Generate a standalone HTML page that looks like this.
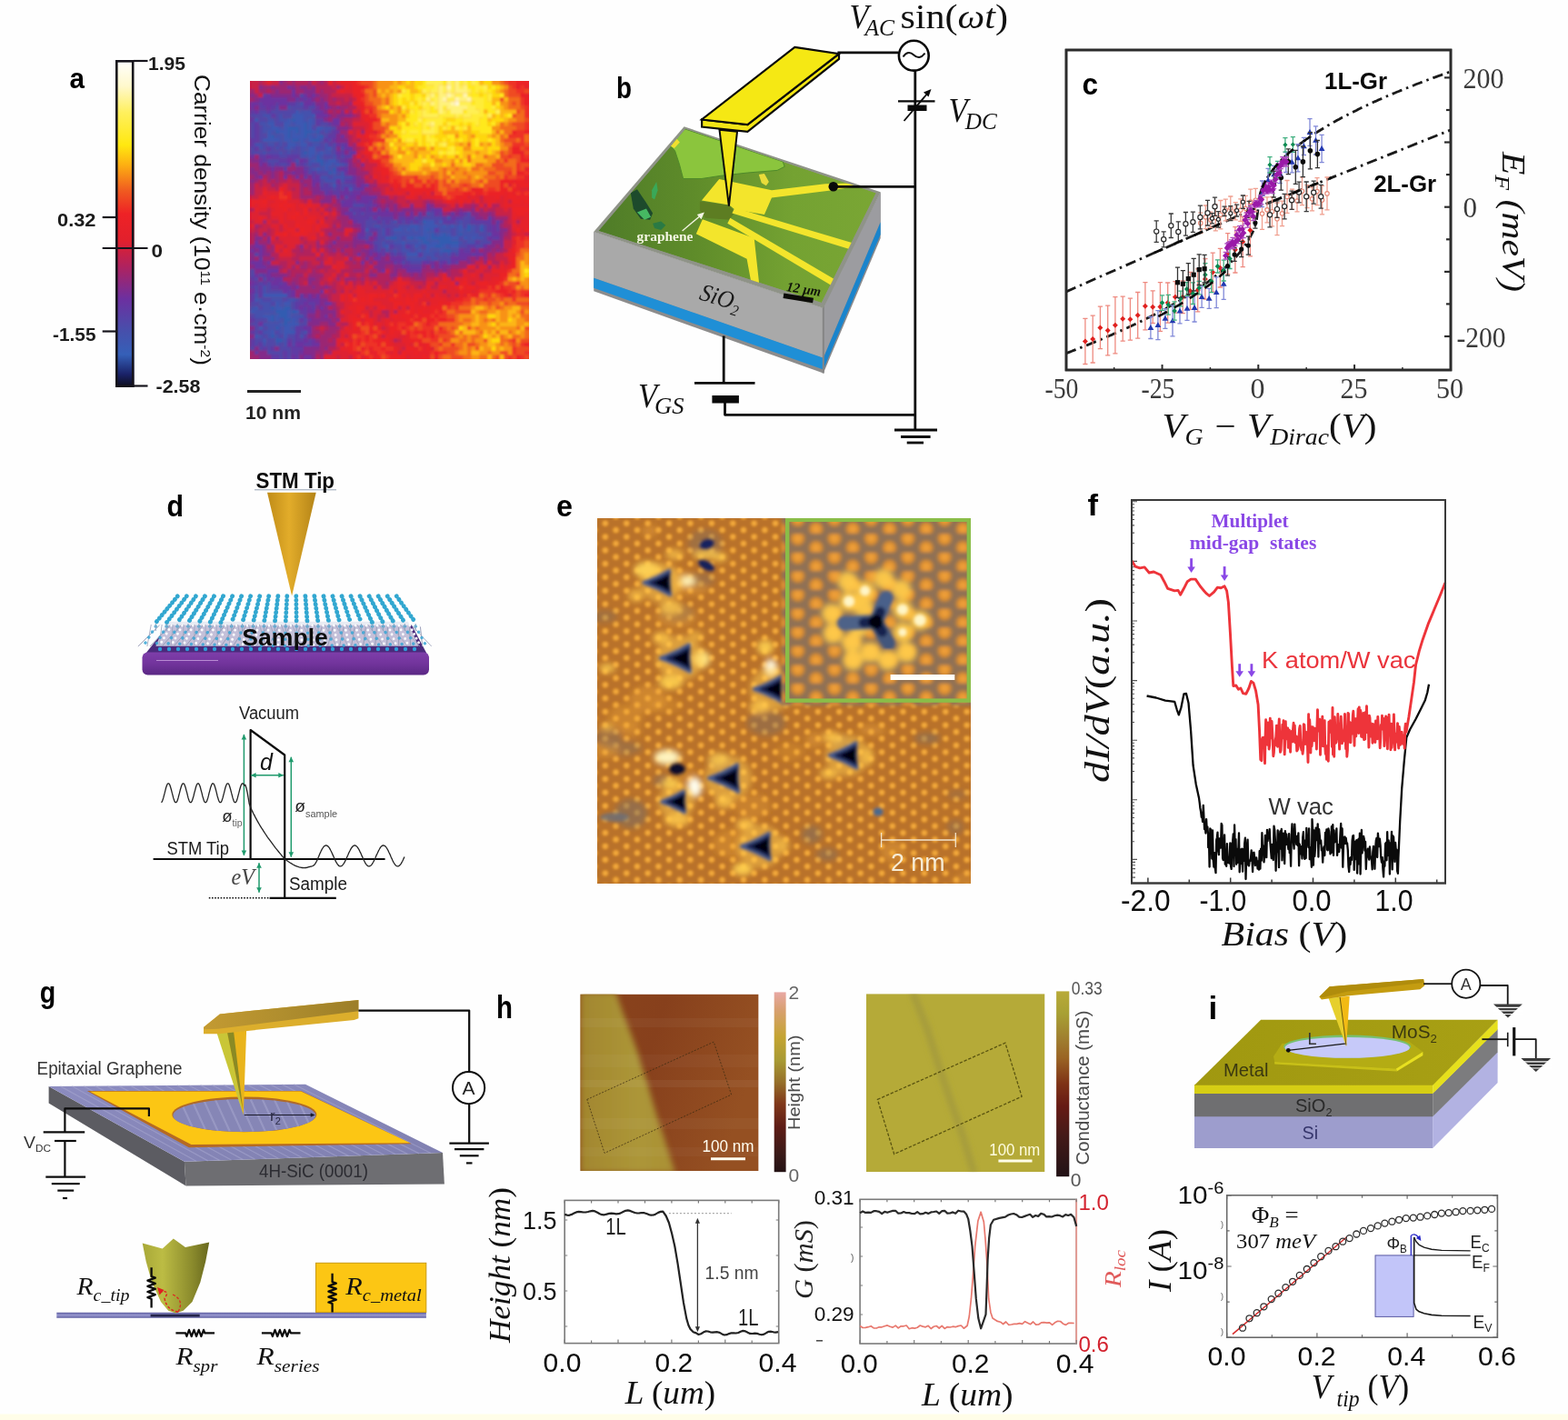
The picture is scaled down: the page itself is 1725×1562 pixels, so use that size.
<!DOCTYPE html>
<html lang="en"><head><meta charset="utf-8"><title>Scanning probe characterisation of 2D materials</title>
<style>
html,body{margin:0;padding:0;background:#fff;}
body{width:1725px;height:1562px;overflow:hidden;}
svg{display:block;}
text{font-family:"Liberation Sans",sans-serif;}
.b{font-weight:bold;}
.m{font-family:"Liberation Serif",serif;font-style:italic;}
.s{font-family:"Liberation Serif",serif;}
</style></head><body>
<svg width="1725" height="1562" viewBox="0 0 1725 1562">
<defs>
<linearGradient id="acb" x1="0" y1="0" x2="0" y2="1"><stop offset="0.00" stop-color="#ffffff"/><stop offset="0.08" stop-color="#fff8cc"/><stop offset="0.16" stop-color="#fff05e"/><stop offset="0.26" stop-color="#ffe810"/><stop offset="0.32" stop-color="#fdb012"/><stop offset="0.40" stop-color="#f05a20"/><stop offset="0.47" stop-color="#ee2226"/><stop offset="0.55" stop-color="#e2202c"/><stop offset="0.63" stop-color="#b0225e"/><stop offset="0.73" stop-color="#6c30a0"/><stop offset="0.83" stop-color="#4650ac"/><stop offset="0.90" stop-color="#3560b8"/><stop offset="0.96" stop-color="#1a2268"/><stop offset="1.00" stop-color="#0c0c18"/></linearGradient><filter id="hblur" x="0" y="0" width="100%" height="100%"><feGaussianBlur stdDeviation="1.1"/><feComponentTransfer><feFuncA type="linear" slope="8" intercept="0"/></feComponentTransfer></filter><clipPath id="bclip"><path d="M754.0 141.9 L963.8 212.3 L903.8 333.0 L658.3 253.9Z"/></clipPath><linearGradient id="bgreen" x1="0" y1="0" x2="1" y2="0"><stop offset="0" stop-color="#4f7c28"/><stop offset="0.35" stop-color="#5f8c2a"/><stop offset="0.7" stop-color="#74a232"/><stop offset="1" stop-color="#7aa634"/></linearGradient><clipPath id="cclip"><rect x="1173" y="55" width="423" height="352"/></clipPath><linearGradient id="dcone" x1="0" y1="0" x2="1" y2="0"><stop offset="0" stop-color="#c08c18"/><stop offset="0.45" stop-color="#e2ac2a"/><stop offset="1" stop-color="#b48418"/></linearGradient><linearGradient id="dslab" x1="0" y1="0" x2="0" y2="1"><stop offset="0" stop-color="#7e3eaa"/><stop offset="0.5" stop-color="#72349c"/><stop offset="1" stop-color="#5a2884"/></linearGradient><clipPath id="eclip"><rect x="657" y="570" width="411" height="401.5"/></clipPath><filter id="eblur" x="-2%" y="-2%" width="104%" height="104%"><feGaussianBlur stdDeviation="1.1"/></filter><filter id="eblur2" x="-10%" y="-10%" width="120%" height="120%"><feGaussianBlur stdDeviation="1.6"/></filter><filter id="eblur3" x="-10%" y="-10%" width="120%" height="120%"><feGaussianBlur stdDeviation="3"/></filter><radialGradient id="edot"><stop offset="0" stop-color="#fbb846"/><stop offset="0.55" stop-color="#eea034" stop-opacity=".85"/><stop offset="1" stop-color="#d88a2a" stop-opacity="0"/></radialGradient><radialGradient id="edot2"><stop offset="0" stop-color="#f6a63a"/><stop offset="0.6" stop-color="#e4922f" stop-opacity=".92"/><stop offset="1" stop-color="#c47c28" stop-opacity="0"/></radialGradient><pattern id="elat" x="660" y="572" width="23.4" height="14.8" patternUnits="userSpaceOnUse"><circle cx="5.85" cy="3.7" r="4.8" fill="url(#edot)"/><circle cx="17.549999999999997" cy="11.100000000000001" r="4.8" fill="url(#edot)"/></pattern><pattern id="elat2" x="867.5" y="566.5" width="40.4" height="20.6" patternUnits="userSpaceOnUse"><circle cx="10.1" cy="5.15" r="9.6" fill="url(#edot2)"/><circle cx="30.3" cy="15.45" r="9.6" fill="url(#edot2)"/></pattern><linearGradient id="gtop" x1="0" y1="0" x2="1" y2="1"><stop offset="0" stop-color="#8c8cc0"/><stop offset="1" stop-color="#8080b0"/></linearGradient><linearGradient id="gcant" x1="0" y1="0" x2="1" y2="0"><stop offset="0" stop-color="#c39a32"/><stop offset="0.5" stop-color="#b08e2e"/><stop offset="1" stop-color="#9c7e28"/></linearGradient><linearGradient id="gtip" x1="0" y1="0" x2="1" y2="0"><stop offset="0" stop-color="#a8a838"/><stop offset="0.3" stop-color="#bcbc44"/><stop offset="0.75" stop-color="#8a8a2c"/><stop offset="1" stop-color="#68681e"/></linearGradient><linearGradient id="ggr" x1="0" y1="0" x2="0" y2="1"><stop offset="0" stop-color="#5c5ca0"/><stop offset="0.5" stop-color="#9a9ad0"/><stop offset="1" stop-color="#5c5ca0"/></linearGradient><clipPath id="ghole"><ellipse cx="268.8" cy="1227.0" rx="78.5" ry="18"/></clipPath><clipPath id="hclipA"><rect x="638.3" y="1093.6" width="196.3" height="194.5"/></clipPath><clipPath id="hclipB"><rect x="953.0" y="1093.2" width="196.5" height="196.0"/></clipPath><filter id="hblur2" x="-10%" y="-10%" width="120%" height="120%"><feGaussianBlur stdDeviation="3.2"/></filter><linearGradient id="hbrown" x1="0" y1="0" x2="1" y2="0.3"><stop offset="0" stop-color="#8a441c"/><stop offset="0.45" stop-color="#87401c"/><stop offset="1" stop-color="#955022"/></linearGradient><linearGradient id="holive" x1="0" y1="0" x2="1" y2="0"><stop offset="0" stop-color="#a2862e"/><stop offset="0.6" stop-color="#ac9638"/><stop offset="1" stop-color="#aa9034"/></linearGradient><linearGradient id="hcbA" x1="0" y1="0" x2="0" y2="1"><stop offset="0" stop-color="#e8a8a4"/><stop offset="0.1" stop-color="#d8a070"/><stop offset="0.25" stop-color="#c4a432"/><stop offset="0.38" stop-color="#a89a34"/><stop offset="0.5" stop-color="#96702a"/><stop offset="0.62" stop-color="#80381a"/><stop offset="0.75" stop-color="#5e1c16"/><stop offset="0.9" stop-color="#3a1a18"/><stop offset="1" stop-color="#241214"/></linearGradient><linearGradient id="hcbB" x1="0" y1="0" x2="0" y2="1"><stop offset="0" stop-color="#b8aa38"/><stop offset="0.12" stop-color="#a8a034"/><stop offset="0.25" stop-color="#a08030"/><stop offset="0.36" stop-color="#9a6424"/><stop offset="0.5" stop-color="#7e3216"/><stop offset="0.62" stop-color="#661a14"/><stop offset="0.78" stop-color="#441a18"/><stop offset="1" stop-color="#221216"/></linearGradient><linearGradient id="itop" x1="0" y1="0" x2="1" y2="0"><stop offset="0" stop-color="#a09810"/><stop offset="1" stop-color="#a8a014"/></linearGradient>
</defs>
<rect width="1725" height="1562" fill="#fefefe"/>
<rect x="0" y="1555.5" width="1725" height="7" fill="#fffde8"/>
<rect x="127" y="66" width="20.5" height="360" fill="url(#acb)"/>
<rect x="128.3" y="67.3" width="17.9" height="357.4" fill="none" stroke="#16141c" stroke-width="2.6"/>
<line x1="147" y1="67" x2="162.5" y2="67" stroke="#16141c" stroke-width="2.2"/>
<line x1="112.7" y1="239" x2="127" y2="239" stroke="#16141c" stroke-width="2.2"/>
<line x1="112.7" y1="273" x2="162.5" y2="273" stroke="#16141c" stroke-width="2.2"/>
<line x1="112.7" y1="364.5" x2="127" y2="364.5" stroke="#16141c" stroke-width="2.2"/>
<line x1="147" y1="424.5" x2="162.5" y2="424.5" stroke="#16141c" stroke-width="2.2"/>
<text x="76.5" y="96.5" font-size="32" class="b" textLength="16.5" lengthAdjust="spacingAndGlyphs">a</text>
<text x="163" y="77" font-size="20.5" class="b" fill="#1c1c1c" textLength="41" lengthAdjust="spacingAndGlyphs">1.95</text>
<text x="63" y="249" font-size="20.5" class="b" fill="#1c1c1c" textLength="42.5" lengthAdjust="spacingAndGlyphs">0.32</text>
<text x="166.5" y="283" font-size="20.5" class="b" fill="#1c1c1c" textLength="12.5" lengthAdjust="spacingAndGlyphs">0</text>
<text x="58" y="375" font-size="20.5" class="b" fill="#1c1c1c" textLength="47.5" lengthAdjust="spacingAndGlyphs">-1.55</text>
<text x="171.5" y="431.5" font-size="20.5" class="b" fill="#1c1c1c" textLength="49" lengthAdjust="spacingAndGlyphs">-2.58</text>
<text transform="translate(213.5 82) rotate(90)" font-size="23.5" fill="#111" textLength="320" lengthAdjust="spacingAndGlyphs">Carrier density (10<tspan font-size="14" dy="-7">11</tspan><tspan dy="7"> e·cm</tspan><tspan font-size="14" dy="-7">-2</tspan><tspan dy="7">)</tspan></text>
<g filter="url(#hblur)"><rect x="275.4" y="89" width="305.8" height="305.6" fill="#e2202c"/><path d="M320.4 129.4h4.8v4.8h-4.8zM333.9 133.9h4.8v4.8h-4.8zM315.9 138.4h13.8v4.8h-13.8zM333.9 138.4h4.8v4.8h-4.8zM302.4 142.9h4.8v4.8h-4.8zM315.9 142.9h4.8v4.8h-4.8zM324.9 142.9h4.8v4.8h-4.8zM333.9 142.9h9.3v4.8h-9.3zM347.4 142.9h4.8v4.8h-4.8zM297.9 147.4h4.8v4.8h-4.8zM315.9 147.4h4.8v4.8h-4.8zM333.9 147.4h4.8v4.8h-4.8zM351.8 147.4h4.8v4.8h-4.8zM320.4 151.9h9.3v4.8h-9.3zM342.9 151.9h9.3v4.8h-9.3zM333.9 165.4h4.8v4.8h-4.8zM347.4 169.9h4.8v4.8h-4.8zM347.4 174.4h9.3v4.8h-9.3zM351.8 178.9h4.8v4.8h-4.8zM365.3 183.4h4.8v4.8h-4.8zM360.8 187.9h4.8v4.8h-4.8zM464.3 241.8h4.8v4.8h-4.8zM513.7 246.3h4.8v4.8h-4.8zM468.8 250.8h4.8v4.8h-4.8zM513.7 250.8h4.8v4.8h-4.8zM527.2 250.8h4.8v4.8h-4.8zM473.3 255.3h4.8v4.8h-4.8zM486.8 255.3h4.8v4.8h-4.8zM504.8 255.3h4.8v4.8h-4.8zM428.3 259.8h9.3v4.8h-9.3zM450.8 259.8h4.8v4.8h-4.8zM459.8 259.8h9.3v4.8h-9.3zM473.3 259.8h22.8v4.8h-22.8zM464.3 264.3h9.3v4.8h-9.3zM482.3 264.3h22.8v4.8h-22.8zM477.8 268.8h9.3v4.8h-9.3zM486.8 273.3h9.3v4.8h-9.3zM297.9 336.2h4.8v4.8h-4.8zM311.4 336.2h9.3v4.8h-9.3zM302.4 340.7h13.8v4.8h-13.8zM320.4 340.7h4.8v4.8h-4.8zM297.9 345.2h4.8v4.8h-4.8zM306.9 345.2h9.3v4.8h-9.3zM297.9 349.7h4.8v4.8h-4.8zM311.4 349.7h9.3v4.8h-9.3zM311.4 354.2h4.8v4.8h-4.8zM302.4 358.6h4.8v4.8h-4.8zM297.9 367.6h4.8v4.8h-4.8zM302.4 372.1h9.3v4.8h-9.3z" fill="#335bb1"/>
<path d="M324.9 120.5h4.8v4.8h-4.8zM320.4 125h13.8v4.8h-13.8zM342.9 125h4.8v4.8h-4.8zM279.9 129.4h4.8v4.8h-4.8zM315.9 129.4h4.8v4.8h-4.8zM324.9 129.4h9.3v4.8h-9.3zM338.4 129.4h4.8v4.8h-4.8zM293.4 133.9h9.3v4.8h-9.3zM311.4 133.9h9.3v4.8h-9.3zM324.9 133.9h9.3v4.8h-9.3zM338.4 133.9h4.8v4.8h-4.8zM297.9 138.4h9.3v4.8h-9.3zM311.4 138.4h4.8v4.8h-4.8zM329.4 138.4h4.8v4.8h-4.8zM338.4 138.4h4.8v4.8h-4.8zM347.4 138.4h9.3v4.8h-9.3zM293.4 142.9h4.8v4.8h-4.8zM306.9 142.9h9.3v4.8h-9.3zM320.4 142.9h4.8v4.8h-4.8zM329.4 142.9h4.8v4.8h-4.8zM342.9 142.9h4.8v4.8h-4.8zM293.4 147.4h4.8v4.8h-4.8zM311.4 147.4h4.8v4.8h-4.8zM320.4 147.4h13.8v4.8h-13.8zM338.4 147.4h4.8v4.8h-4.8zM347.4 147.4h4.8v4.8h-4.8zM288.9 151.9h18.3v4.8h-18.3zM311.4 151.9h9.3v4.8h-9.3zM329.4 151.9h4.8v4.8h-4.8zM338.4 151.9h4.8v4.8h-4.8zM315.9 156.4h9.3v4.8h-9.3zM329.4 156.4h9.3v4.8h-9.3zM315.9 160.9h4.8v4.8h-4.8zM338.4 160.9h9.3v4.8h-9.3zM360.8 160.9h4.8v4.8h-4.8zM338.4 165.4h9.3v4.8h-9.3zM351.8 165.4h4.8v4.8h-4.8zM338.4 169.9h4.8v4.8h-4.8zM342.9 174.4h4.8v4.8h-4.8zM360.8 174.4h9.3v4.8h-9.3zM356.3 178.9h9.3v4.8h-9.3zM369.8 178.9h4.8v4.8h-4.8zM347.4 183.4h4.8v4.8h-4.8zM356.3 183.4h4.8v4.8h-4.8zM365.3 187.9h4.8v4.8h-4.8zM365.3 201.4h4.8v4.8h-4.8zM383.3 205.8h4.8v4.8h-4.8zM468.8 241.8h9.3v4.8h-9.3zM482.3 241.8h4.8v4.8h-4.8zM450.8 246.3h9.3v4.8h-9.3zM464.3 246.3h18.3v4.8h-18.3zM486.8 246.3h4.8v4.8h-4.8zM495.8 246.3h4.8v4.8h-4.8zM504.8 246.3h4.8v4.8h-4.8zM527.2 246.3h4.8v4.8h-4.8zM401.3 250.8h4.8v4.8h-4.8zM432.8 250.8h9.3v4.8h-9.3zM446.3 250.8h4.8v4.8h-4.8zM455.3 250.8h4.8v4.8h-4.8zM464.3 250.8h4.8v4.8h-4.8zM473.3 250.8h4.8v4.8h-4.8zM504.8 250.8h4.8v4.8h-4.8zM464.3 255.3h9.3v4.8h-9.3zM482.3 255.3h4.8v4.8h-4.8zM491.3 255.3h4.8v4.8h-4.8zM423.8 259.8h4.8v4.8h-4.8zM446.3 259.8h4.8v4.8h-4.8zM455.3 259.8h4.8v4.8h-4.8zM468.8 259.8h4.8v4.8h-4.8zM495.8 259.8h9.3v4.8h-9.3zM509.2 259.8h4.8v4.8h-4.8zM518.2 259.8h4.8v4.8h-4.8zM441.8 264.3h4.8v4.8h-4.8zM459.8 264.3h4.8v4.8h-4.8zM473.3 264.3h9.3v4.8h-9.3zM423.8 268.8h4.8v4.8h-4.8zM455.3 268.8h4.8v4.8h-4.8zM468.8 268.8h9.3v4.8h-9.3zM486.8 268.8h4.8v4.8h-4.8zM495.8 268.8h9.3v4.8h-9.3zM459.8 273.3h4.8v4.8h-4.8zM468.8 273.3h4.8v4.8h-4.8zM482.3 273.3h4.8v4.8h-4.8zM446.3 277.8h13.8v4.8h-13.8zM288.9 322.7h27.3v4.8h-27.3zM279.9 327.2h4.8v4.8h-4.8zM302.4 331.7h4.8v4.8h-4.8zM311.4 331.7h9.3v4.8h-9.3zM279.9 336.2h4.8v4.8h-4.8zM302.4 336.2h9.3v4.8h-9.3zM275.4 340.7h4.8v4.8h-4.8zM315.9 340.7h4.8v4.8h-4.8zM324.9 340.7h4.8v4.8h-4.8zM288.9 345.2h9.3v4.8h-9.3zM302.4 345.2h4.8v4.8h-4.8zM315.9 345.2h4.8v4.8h-4.8zM293.4 349.7h4.8v4.8h-4.8zM302.4 349.7h4.8v4.8h-4.8zM320.4 349.7h4.8v4.8h-4.8zM306.9 354.2h4.8v4.8h-4.8zM315.9 354.2h13.8v4.8h-13.8zM284.4 358.6h4.8v4.8h-4.8zM311.4 358.6h9.3v4.8h-9.3zM297.9 363.1h4.8v4.8h-4.8zM311.4 363.1h13.8v4.8h-13.8zM279.9 367.6h4.8v4.8h-4.8zM311.4 367.6h4.8v4.8h-4.8zM288.9 372.1h4.8v4.8h-4.8z" fill="#3c59b3"/>
<path d="M329.4 111.5h4.8v4.8h-4.8zM315.9 116h4.8v4.8h-4.8zM329.4 120.5h13.8v4.8h-13.8zM288.9 125h9.3v4.8h-9.3zM306.9 125h4.8v4.8h-4.8zM333.9 125h9.3v4.8h-9.3zM293.4 129.4h9.3v4.8h-9.3zM306.9 129.4h9.3v4.8h-9.3zM333.9 129.4h4.8v4.8h-4.8zM342.9 129.4h4.8v4.8h-4.8zM284.4 133.9h9.3v4.8h-9.3zM320.4 133.9h4.8v4.8h-4.8zM342.9 133.9h4.8v4.8h-4.8zM288.9 138.4h9.3v4.8h-9.3zM306.9 138.4h4.8v4.8h-4.8zM356.3 138.4h9.3v4.8h-9.3zM288.9 142.9h4.8v4.8h-4.8zM297.9 142.9h4.8v4.8h-4.8zM356.3 142.9h4.8v4.8h-4.8zM302.4 147.4h9.3v4.8h-9.3zM342.9 147.4h4.8v4.8h-4.8zM306.9 151.9h4.8v4.8h-4.8zM333.9 151.9h4.8v4.8h-4.8zM351.8 151.9h4.8v4.8h-4.8zM279.9 156.4h9.3v4.8h-9.3zM293.4 156.4h9.3v4.8h-9.3zM306.9 156.4h4.8v4.8h-4.8zM324.9 156.4h4.8v4.8h-4.8zM342.9 156.4h9.3v4.8h-9.3zM356.3 156.4h4.8v4.8h-4.8zM284.4 160.9h4.8v4.8h-4.8zM302.4 160.9h4.8v4.8h-4.8zM311.4 160.9h4.8v4.8h-4.8zM320.4 160.9h4.8v4.8h-4.8zM329.4 160.9h9.3v4.8h-9.3zM356.3 160.9h4.8v4.8h-4.8zM288.9 165.4h4.8v4.8h-4.8zM306.9 165.4h4.8v4.8h-4.8zM315.9 165.4h4.8v4.8h-4.8zM329.4 165.4h4.8v4.8h-4.8zM347.4 165.4h4.8v4.8h-4.8zM356.3 165.4h9.3v4.8h-9.3zM329.4 169.9h9.3v4.8h-9.3zM342.9 169.9h4.8v4.8h-4.8zM351.8 169.9h4.8v4.8h-4.8zM365.3 169.9h4.8v4.8h-4.8zM324.9 174.4h4.8v4.8h-4.8zM338.4 174.4h4.8v4.8h-4.8zM356.3 174.4h4.8v4.8h-4.8zM338.4 178.9h4.8v4.8h-4.8zM365.3 178.9h4.8v4.8h-4.8zM374.3 178.9h4.8v4.8h-4.8zM342.9 183.4h4.8v4.8h-4.8zM351.8 183.4h4.8v4.8h-4.8zM360.8 183.4h4.8v4.8h-4.8zM374.3 187.9h4.8v4.8h-4.8zM351.8 192.4h9.3v4.8h-9.3zM365.3 192.4h13.8v4.8h-13.8zM356.3 196.9h13.8v4.8h-13.8zM374.3 196.9h4.8v4.8h-4.8zM468.8 232.8h4.8v4.8h-4.8zM491.3 237.3h4.8v4.8h-4.8zM432.8 241.8h4.8v4.8h-4.8zM504.8 241.8h4.8v4.8h-4.8zM410.3 246.3h9.3v4.8h-9.3zM437.3 246.3h13.8v4.8h-13.8zM459.8 246.3h4.8v4.8h-4.8zM482.3 246.3h4.8v4.8h-4.8zM491.3 246.3h4.8v4.8h-4.8zM500.3 246.3h4.8v4.8h-4.8zM518.2 246.3h4.8v4.8h-4.8zM419.3 250.8h4.8v4.8h-4.8zM441.8 250.8h4.8v4.8h-4.8zM450.8 250.8h4.8v4.8h-4.8zM459.8 250.8h4.8v4.8h-4.8zM482.3 250.8h13.8v4.8h-13.8zM500.3 250.8h4.8v4.8h-4.8zM509.2 250.8h4.8v4.8h-4.8zM518.2 250.8h4.8v4.8h-4.8zM419.3 255.3h4.8v4.8h-4.8zM432.8 255.3h31.8v4.8h-31.8zM477.8 255.3h4.8v4.8h-4.8zM500.3 255.3h4.8v4.8h-4.8zM509.2 255.3h18.3v4.8h-18.3zM536.2 255.3h4.8v4.8h-4.8zM437.3 259.8h4.8v4.8h-4.8zM513.7 259.8h4.8v4.8h-4.8zM522.7 259.8h9.3v4.8h-9.3zM419.3 264.3h4.8v4.8h-4.8zM432.8 264.3h9.3v4.8h-9.3zM446.3 264.3h13.8v4.8h-13.8zM504.8 264.3h4.8v4.8h-4.8zM513.7 264.3h9.3v4.8h-9.3zM419.3 268.8h4.8v4.8h-4.8zM441.8 268.8h4.8v4.8h-4.8zM459.8 268.8h4.8v4.8h-4.8zM491.3 268.8h4.8v4.8h-4.8zM423.8 273.3h4.8v4.8h-4.8zM432.8 273.3h4.8v4.8h-4.8zM441.8 273.3h9.3v4.8h-9.3zM455.3 273.3h4.8v4.8h-4.8zM464.3 273.3h4.8v4.8h-4.8zM473.3 273.3h9.3v4.8h-9.3zM495.8 273.3h9.3v4.8h-9.3zM464.3 277.8h13.8v4.8h-13.8zM482.3 277.8h4.8v4.8h-4.8zM491.3 277.8h4.8v4.8h-4.8zM446.3 282.2h22.8v4.8h-22.8zM473.3 282.2h9.3v4.8h-9.3zM288.9 313.7h4.8v4.8h-4.8zM288.9 318.2h4.8v4.8h-4.8zM279.9 322.7h4.8v4.8h-4.8zM284.4 327.2h4.8v4.8h-4.8zM297.9 327.2h13.8v4.8h-13.8zM315.9 327.2h9.3v4.8h-9.3zM284.4 331.7h13.8v4.8h-13.8zM306.9 331.7h4.8v4.8h-4.8zM275.4 336.2h4.8v4.8h-4.8zM288.9 336.2h9.3v4.8h-9.3zM279.9 340.7h22.8v4.8h-22.8zM279.9 345.2h9.3v4.8h-9.3zM320.4 345.2h13.8v4.8h-13.8zM306.9 349.7h4.8v4.8h-4.8zM324.9 349.7h4.8v4.8h-4.8zM288.9 354.2h18.3v4.8h-18.3zM293.4 358.6h9.3v4.8h-9.3zM306.9 358.6h4.8v4.8h-4.8zM320.4 358.6h4.8v4.8h-4.8zM288.9 363.1h9.3v4.8h-9.3zM306.9 363.1h4.8v4.8h-4.8zM333.9 363.1h4.8v4.8h-4.8zM284.4 367.6h4.8v4.8h-4.8zM293.4 367.6h4.8v4.8h-4.8zM302.4 367.6h4.8v4.8h-4.8zM329.4 367.6h4.8v4.8h-4.8zM311.4 372.1h4.8v4.8h-4.8zM288.9 376.6h4.8v4.8h-4.8zM302.4 376.6h4.8v4.8h-4.8zM311.4 376.6h4.8v4.8h-4.8z" fill="#4551ad"/>
<path d="M329.4 102.5h4.8v4.8h-4.8zM324.9 111.5h4.8v4.8h-4.8zM302.4 116h4.8v4.8h-4.8zM320.4 116h13.8v4.8h-13.8zM338.4 116h9.3v4.8h-9.3zM284.4 120.5h9.3v4.8h-9.3zM297.9 120.5h27.3v4.8h-27.3zM275.4 125h13.8v4.8h-13.8zM302.4 125h4.8v4.8h-4.8zM311.4 125h9.3v4.8h-9.3zM284.4 129.4h9.3v4.8h-9.3zM302.4 129.4h4.8v4.8h-4.8zM275.4 133.9h4.8v4.8h-4.8zM302.4 133.9h9.3v4.8h-9.3zM351.8 133.9h9.3v4.8h-9.3zM275.4 138.4h4.8v4.8h-4.8zM284.4 138.4h4.8v4.8h-4.8zM342.9 138.4h4.8v4.8h-4.8zM365.3 138.4h4.8v4.8h-4.8zM275.4 142.9h4.8v4.8h-4.8zM284.4 142.9h4.8v4.8h-4.8zM351.8 142.9h4.8v4.8h-4.8zM360.8 142.9h4.8v4.8h-4.8zM275.4 147.4h4.8v4.8h-4.8zM284.4 147.4h9.3v4.8h-9.3zM356.3 147.4h4.8v4.8h-4.8zM284.4 151.9h4.8v4.8h-4.8zM360.8 151.9h4.8v4.8h-4.8zM288.9 156.4h4.8v4.8h-4.8zM302.4 156.4h4.8v4.8h-4.8zM311.4 156.4h4.8v4.8h-4.8zM338.4 156.4h4.8v4.8h-4.8zM351.8 156.4h4.8v4.8h-4.8zM365.3 156.4h4.8v4.8h-4.8zM275.4 160.9h4.8v4.8h-4.8zM288.9 160.9h4.8v4.8h-4.8zM297.9 160.9h4.8v4.8h-4.8zM306.9 160.9h4.8v4.8h-4.8zM324.9 160.9h4.8v4.8h-4.8zM347.4 160.9h9.3v4.8h-9.3zM365.3 160.9h4.8v4.8h-4.8zM374.3 160.9h4.8v4.8h-4.8zM275.4 165.4h13.8v4.8h-13.8zM293.4 165.4h13.8v4.8h-13.8zM311.4 165.4h4.8v4.8h-4.8zM320.4 165.4h9.3v4.8h-9.3zM365.3 165.4h4.8v4.8h-4.8zM306.9 169.9h9.3v4.8h-9.3zM356.3 169.9h9.3v4.8h-9.3zM374.3 169.9h4.8v4.8h-4.8zM293.4 174.4h13.8v4.8h-13.8zM369.8 174.4h4.8v4.8h-4.8zM297.9 178.9h4.8v4.8h-4.8zM306.9 178.9h9.3v4.8h-9.3zM324.9 178.9h4.8v4.8h-4.8zM333.9 178.9h4.8v4.8h-4.8zM342.9 178.9h9.3v4.8h-9.3zM378.8 178.9h4.8v4.8h-4.8zM338.4 183.4h4.8v4.8h-4.8zM338.4 187.9h4.8v4.8h-4.8zM347.4 187.9h13.8v4.8h-13.8zM369.8 187.9h4.8v4.8h-4.8zM360.8 192.4h4.8v4.8h-4.8zM378.8 192.4h9.3v4.8h-9.3zM351.8 196.9h4.8v4.8h-4.8zM351.8 201.4h4.8v4.8h-4.8zM360.8 201.4h4.8v4.8h-4.8zM374.3 201.4h13.8v4.8h-13.8zM365.3 205.8h4.8v4.8h-4.8zM374.3 205.8h4.8v4.8h-4.8zM378.8 214.8h4.8v4.8h-4.8zM387.8 223.8h13.8v4.8h-13.8zM383.3 228.3h4.8v4.8h-4.8zM387.8 232.8h4.8v4.8h-4.8zM396.8 232.8h4.8v4.8h-4.8zM473.3 232.8h4.8v4.8h-4.8zM513.7 232.8h4.8v4.8h-4.8zM405.8 237.3h4.8v4.8h-4.8zM414.8 237.3h4.8v4.8h-4.8zM455.3 237.3h4.8v4.8h-4.8zM464.3 237.3h22.8v4.8h-22.8zM509.2 237.3h9.3v4.8h-9.3zM401.3 241.8h13.8v4.8h-13.8zM419.3 241.8h4.8v4.8h-4.8zM428.3 241.8h4.8v4.8h-4.8zM441.8 241.8h4.8v4.8h-4.8zM450.8 241.8h4.8v4.8h-4.8zM459.8 241.8h4.8v4.8h-4.8zM477.8 241.8h4.8v4.8h-4.8zM500.3 241.8h4.8v4.8h-4.8zM509.2 241.8h9.3v4.8h-9.3zM401.3 246.3h9.3v4.8h-9.3zM419.3 246.3h18.3v4.8h-18.3zM509.2 246.3h4.8v4.8h-4.8zM522.7 246.3h4.8v4.8h-4.8zM531.7 246.3h4.8v4.8h-4.8zM414.8 250.8h4.8v4.8h-4.8zM428.3 250.8h4.8v4.8h-4.8zM495.8 250.8h4.8v4.8h-4.8zM522.7 250.8h4.8v4.8h-4.8zM531.7 250.8h4.8v4.8h-4.8zM401.3 255.3h9.3v4.8h-9.3zM414.8 255.3h4.8v4.8h-4.8zM428.3 255.3h4.8v4.8h-4.8zM495.8 255.3h4.8v4.8h-4.8zM527.2 255.3h9.3v4.8h-9.3zM401.3 259.8h4.8v4.8h-4.8zM414.8 259.8h9.3v4.8h-9.3zM441.8 259.8h4.8v4.8h-4.8zM504.8 259.8h4.8v4.8h-4.8zM531.7 259.8h4.8v4.8h-4.8zM410.3 264.3h9.3v4.8h-9.3zM423.8 264.3h9.3v4.8h-9.3zM509.2 264.3h4.8v4.8h-4.8zM527.2 264.3h13.8v4.8h-13.8zM414.8 268.8h4.8v4.8h-4.8zM432.8 268.8h9.3v4.8h-9.3zM450.8 268.8h4.8v4.8h-4.8zM464.3 268.8h4.8v4.8h-4.8zM504.8 268.8h9.3v4.8h-9.3zM522.7 268.8h9.3v4.8h-9.3zM414.8 273.3h4.8v4.8h-4.8zM428.3 273.3h4.8v4.8h-4.8zM437.3 273.3h4.8v4.8h-4.8zM450.8 273.3h4.8v4.8h-4.8zM279.9 277.8h4.8v4.8h-4.8zM432.8 277.8h4.8v4.8h-4.8zM441.8 277.8h4.8v4.8h-4.8zM477.8 277.8h4.8v4.8h-4.8zM486.8 277.8h4.8v4.8h-4.8zM500.3 277.8h4.8v4.8h-4.8zM468.8 282.2h4.8v4.8h-4.8zM482.3 282.2h13.8v4.8h-13.8zM441.8 286.7h4.8v4.8h-4.8zM450.8 286.7h13.8v4.8h-13.8zM491.3 286.7h4.8v4.8h-4.8zM275.4 295.7h4.8v4.8h-4.8zM275.4 300.2h4.8v4.8h-4.8zM284.4 300.2h4.8v4.8h-4.8zM279.9 304.7h4.8v4.8h-4.8zM288.9 304.7h4.8v4.8h-4.8zM284.4 309.2h4.8v4.8h-4.8zM293.4 309.2h4.8v4.8h-4.8zM279.9 313.7h4.8v4.8h-4.8zM293.4 313.7h4.8v4.8h-4.8zM279.9 318.2h4.8v4.8h-4.8zM293.4 318.2h18.3v4.8h-18.3zM288.9 327.2h9.3v4.8h-9.3zM311.4 327.2h4.8v4.8h-4.8zM324.9 327.2h4.8v4.8h-4.8zM275.4 331.7h9.3v4.8h-9.3zM297.9 331.7h4.8v4.8h-4.8zM320.4 331.7h4.8v4.8h-4.8zM284.4 336.2h4.8v4.8h-4.8zM320.4 336.2h4.8v4.8h-4.8zM275.4 345.2h4.8v4.8h-4.8zM279.9 349.7h13.8v4.8h-13.8zM333.9 349.7h4.8v4.8h-4.8zM275.4 354.2h9.3v4.8h-9.3zM329.4 354.2h9.3v4.8h-9.3zM279.9 358.6h4.8v4.8h-4.8zM288.9 358.6h4.8v4.8h-4.8zM279.9 363.1h4.8v4.8h-4.8zM302.4 363.1h4.8v4.8h-4.8zM329.4 363.1h4.8v4.8h-4.8zM288.9 367.6h4.8v4.8h-4.8zM306.9 367.6h4.8v4.8h-4.8zM315.9 367.6h9.3v4.8h-9.3zM279.9 372.1h9.3v4.8h-9.3zM293.4 372.1h9.3v4.8h-9.3zM320.4 372.1h4.8v4.8h-4.8zM279.9 376.6h4.8v4.8h-4.8zM293.4 376.6h9.3v4.8h-9.3zM306.9 376.6h4.8v4.8h-4.8zM320.4 376.6h4.8v4.8h-4.8zM275.4 381.1h4.8v4.8h-4.8zM284.4 381.1h4.8v4.8h-4.8zM293.4 381.1h4.8v4.8h-4.8zM306.9 381.1h13.8v4.8h-13.8zM293.4 385.6h18.3v4.8h-18.3zM315.9 385.6h4.8v4.8h-4.8zM306.9 390.1h4.8v4.8h-4.8zM315.9 390.1h4.8v4.8h-4.8z" fill="#5147a8"/>
<path d="M288.9 102.5h4.8v4.8h-4.8zM324.9 107h4.8v4.8h-4.8zM333.9 107h4.8v4.8h-4.8zM284.4 111.5h4.8v4.8h-4.8zM302.4 111.5h4.8v4.8h-4.8zM315.9 111.5h9.3v4.8h-9.3zM342.9 111.5h4.8v4.8h-4.8zM284.4 116h9.3v4.8h-9.3zM297.9 116h4.8v4.8h-4.8zM333.9 116h4.8v4.8h-4.8zM275.4 120.5h4.8v4.8h-4.8zM293.4 120.5h4.8v4.8h-4.8zM342.9 120.5h9.3v4.8h-9.3zM297.9 125h4.8v4.8h-4.8zM275.4 129.4h4.8v4.8h-4.8zM347.4 129.4h9.3v4.8h-9.3zM279.9 133.9h4.8v4.8h-4.8zM347.4 133.9h4.8v4.8h-4.8zM360.8 133.9h4.8v4.8h-4.8zM279.9 138.4h4.8v4.8h-4.8zM279.9 142.9h4.8v4.8h-4.8zM365.3 142.9h4.8v4.8h-4.8zM279.9 147.4h4.8v4.8h-4.8zM360.8 147.4h9.3v4.8h-9.3zM275.4 151.9h9.3v4.8h-9.3zM356.3 151.9h4.8v4.8h-4.8zM275.4 156.4h4.8v4.8h-4.8zM360.8 156.4h4.8v4.8h-4.8zM374.3 156.4h4.8v4.8h-4.8zM279.9 160.9h4.8v4.8h-4.8zM293.4 160.9h4.8v4.8h-4.8zM374.3 165.4h4.8v4.8h-4.8zM383.3 165.4h4.8v4.8h-4.8zM284.4 169.9h9.3v4.8h-9.3zM297.9 169.9h9.3v4.8h-9.3zM315.9 169.9h13.8v4.8h-13.8zM369.8 169.9h4.8v4.8h-4.8zM378.8 169.9h9.3v4.8h-9.3zM288.9 174.4h4.8v4.8h-4.8zM306.9 174.4h9.3v4.8h-9.3zM320.4 174.4h4.8v4.8h-4.8zM333.9 174.4h4.8v4.8h-4.8zM374.3 174.4h4.8v4.8h-4.8zM293.4 178.9h4.8v4.8h-4.8zM302.4 178.9h4.8v4.8h-4.8zM315.9 178.9h4.8v4.8h-4.8zM329.4 178.9h4.8v4.8h-4.8zM311.4 183.4h4.8v4.8h-4.8zM333.9 183.4h4.8v4.8h-4.8zM369.8 183.4h4.8v4.8h-4.8zM378.8 183.4h4.8v4.8h-4.8zM342.9 187.9h4.8v4.8h-4.8zM333.9 192.4h4.8v4.8h-4.8zM342.9 192.4h4.8v4.8h-4.8zM378.8 196.9h9.3v4.8h-9.3zM356.3 201.4h4.8v4.8h-4.8zM369.8 201.4h4.8v4.8h-4.8zM387.8 201.4h4.8v4.8h-4.8zM401.3 201.4h4.8v4.8h-4.8zM351.8 205.8h13.8v4.8h-13.8zM369.8 205.8h4.8v4.8h-4.8zM387.8 205.8h9.3v4.8h-9.3zM356.3 210.3h4.8v4.8h-4.8zM365.3 210.3h9.3v4.8h-9.3zM383.3 210.3h4.8v4.8h-4.8zM369.8 214.8h4.8v4.8h-4.8zM374.3 219.3h4.8v4.8h-4.8zM387.8 219.3h4.8v4.8h-4.8zM405.8 219.3h4.8v4.8h-4.8zM401.3 223.8h9.3v4.8h-9.3zM387.8 228.3h9.3v4.8h-9.3zM401.3 228.3h4.8v4.8h-4.8zM414.8 228.3h4.8v4.8h-4.8zM423.8 228.3h4.8v4.8h-4.8zM473.3 228.3h4.8v4.8h-4.8zM392.3 232.8h4.8v4.8h-4.8zM401.3 232.8h13.8v4.8h-13.8zM459.8 232.8h4.8v4.8h-4.8zM482.3 232.8h4.8v4.8h-4.8zM495.8 232.8h4.8v4.8h-4.8zM509.2 232.8h4.8v4.8h-4.8zM387.8 237.3h18.3v4.8h-18.3zM419.3 237.3h13.8v4.8h-13.8zM437.3 237.3h9.3v4.8h-9.3zM459.8 237.3h4.8v4.8h-4.8zM486.8 237.3h4.8v4.8h-4.8zM500.3 237.3h9.3v4.8h-9.3zM518.2 237.3h4.8v4.8h-4.8zM536.2 237.3h4.8v4.8h-4.8zM392.3 241.8h9.3v4.8h-9.3zM414.8 241.8h4.8v4.8h-4.8zM423.8 241.8h4.8v4.8h-4.8zM437.3 241.8h4.8v4.8h-4.8zM446.3 241.8h4.8v4.8h-4.8zM455.3 241.8h4.8v4.8h-4.8zM486.8 241.8h13.8v4.8h-13.8zM518.2 241.8h22.8v4.8h-22.8zM545.2 241.8h4.8v4.8h-4.8zM396.8 246.3h4.8v4.8h-4.8zM536.2 246.3h4.8v4.8h-4.8zM545.2 246.3h4.8v4.8h-4.8zM405.8 250.8h9.3v4.8h-9.3zM423.8 250.8h4.8v4.8h-4.8zM477.8 250.8h4.8v4.8h-4.8zM536.2 250.8h4.8v4.8h-4.8zM545.2 250.8h4.8v4.8h-4.8zM423.8 255.3h4.8v4.8h-4.8zM396.8 259.8h4.8v4.8h-4.8zM540.7 259.8h9.3v4.8h-9.3zM522.7 264.3h4.8v4.8h-4.8zM410.3 268.8h4.8v4.8h-4.8zM428.3 268.8h4.8v4.8h-4.8zM446.3 268.8h4.8v4.8h-4.8zM513.7 268.8h9.3v4.8h-9.3zM410.3 273.3h4.8v4.8h-4.8zM419.3 273.3h4.8v4.8h-4.8zM509.2 273.3h9.3v4.8h-9.3zM419.3 277.8h4.8v4.8h-4.8zM428.3 277.8h4.8v4.8h-4.8zM437.3 277.8h4.8v4.8h-4.8zM459.8 277.8h4.8v4.8h-4.8zM495.8 277.8h4.8v4.8h-4.8zM518.2 277.8h4.8v4.8h-4.8zM284.4 282.2h4.8v4.8h-4.8zM441.8 282.2h4.8v4.8h-4.8zM432.8 286.7h4.8v4.8h-4.8zM446.3 286.7h4.8v4.8h-4.8zM468.8 286.7h4.8v4.8h-4.8zM482.3 286.7h4.8v4.8h-4.8zM500.3 286.7h4.8v4.8h-4.8zM450.8 291.2h13.8v4.8h-13.8zM473.3 291.2h4.8v4.8h-4.8zM288.9 300.2h4.8v4.8h-4.8zM275.4 304.7h4.8v4.8h-4.8zM297.9 304.7h4.8v4.8h-4.8zM279.9 309.2h4.8v4.8h-4.8zM288.9 309.2h4.8v4.8h-4.8zM306.9 309.2h4.8v4.8h-4.8zM275.4 313.7h4.8v4.8h-4.8zM284.4 313.7h4.8v4.8h-4.8zM297.9 313.7h9.3v4.8h-9.3zM284.4 318.2h4.8v4.8h-4.8zM315.9 318.2h4.8v4.8h-4.8zM275.4 322.7h4.8v4.8h-4.8zM284.4 322.7h4.8v4.8h-4.8zM315.9 322.7h4.8v4.8h-4.8zM329.4 322.7h4.8v4.8h-4.8zM275.4 327.2h4.8v4.8h-4.8zM329.4 327.2h9.3v4.8h-9.3zM324.9 331.7h9.3v4.8h-9.3zM338.4 331.7h9.3v4.8h-9.3zM324.9 336.2h4.8v4.8h-4.8zM333.9 336.2h4.8v4.8h-4.8zM342.9 336.2h4.8v4.8h-4.8zM329.4 340.7h9.3v4.8h-9.3zM333.9 345.2h4.8v4.8h-4.8zM275.4 349.7h4.8v4.8h-4.8zM329.4 349.7h4.8v4.8h-4.8zM324.9 358.6h9.3v4.8h-9.3zM275.4 363.1h4.8v4.8h-4.8zM284.4 363.1h4.8v4.8h-4.8zM324.9 363.1h4.8v4.8h-4.8zM324.9 367.6h4.8v4.8h-4.8zM333.9 367.6h4.8v4.8h-4.8zM275.4 372.1h4.8v4.8h-4.8zM315.9 372.1h4.8v4.8h-4.8zM324.9 372.1h9.3v4.8h-9.3zM338.4 372.1h4.8v4.8h-4.8zM275.4 376.6h4.8v4.8h-4.8zM284.4 376.6h4.8v4.8h-4.8zM333.9 376.6h9.3v4.8h-9.3zM288.9 381.1h4.8v4.8h-4.8zM297.9 381.1h4.8v4.8h-4.8zM320.4 381.1h13.8v4.8h-13.8zM279.9 385.6h4.8v4.8h-4.8zM311.4 385.6h4.8v4.8h-4.8zM320.4 385.6h9.3v4.8h-9.3zM297.9 390.1h9.3v4.8h-9.3zM311.4 390.1h4.8v4.8h-4.8zM324.9 390.1h4.8v4.8h-4.8z" fill="#5e3ba4"/>
<path d="M315.9 93.5h4.8v4.8h-4.8zM320.4 98h4.8v4.8h-4.8zM293.4 102.5h4.8v4.8h-4.8zM320.4 102.5h4.8v4.8h-4.8zM333.9 102.5h4.8v4.8h-4.8zM342.9 102.5h4.8v4.8h-4.8zM284.4 107h31.8v4.8h-31.8zM329.4 107h4.8v4.8h-4.8zM338.4 107h4.8v4.8h-4.8zM275.4 111.5h9.3v4.8h-9.3zM288.9 111.5h13.8v4.8h-13.8zM306.9 111.5h9.3v4.8h-9.3zM333.9 111.5h9.3v4.8h-9.3zM356.3 111.5h4.8v4.8h-4.8zM275.4 116h4.8v4.8h-4.8zM293.4 116h4.8v4.8h-4.8zM347.4 116h4.8v4.8h-4.8zM356.3 116h4.8v4.8h-4.8zM279.9 120.5h4.8v4.8h-4.8zM351.8 120.5h4.8v4.8h-4.8zM347.4 125h13.8v4.8h-13.8zM365.3 129.4h9.3v4.8h-9.3zM365.3 133.9h9.3v4.8h-9.3zM369.8 142.9h4.8v4.8h-4.8zM374.3 147.4h4.8v4.8h-4.8zM365.3 151.9h4.8v4.8h-4.8zM369.8 156.4h4.8v4.8h-4.8zM378.8 156.4h4.8v4.8h-4.8zM378.8 160.9h9.3v4.8h-9.3zM369.8 165.4h4.8v4.8h-4.8zM387.8 165.4h4.8v4.8h-4.8zM275.4 169.9h4.8v4.8h-4.8zM293.4 169.9h4.8v4.8h-4.8zM284.4 174.4h4.8v4.8h-4.8zM315.9 174.4h4.8v4.8h-4.8zM329.4 174.4h4.8v4.8h-4.8zM378.8 174.4h4.8v4.8h-4.8zM284.4 178.9h4.8v4.8h-4.8zM297.9 183.4h4.8v4.8h-4.8zM374.3 183.4h4.8v4.8h-4.8zM320.4 187.9h4.8v4.8h-4.8zM333.9 187.9h4.8v4.8h-4.8zM378.8 187.9h4.8v4.8h-4.8zM284.4 192.4h4.8v4.8h-4.8zM311.4 192.4h4.8v4.8h-4.8zM324.9 192.4h4.8v4.8h-4.8zM347.4 192.4h4.8v4.8h-4.8zM387.8 192.4h4.8v4.8h-4.8zM342.9 196.9h9.3v4.8h-9.3zM369.8 196.9h4.8v4.8h-4.8zM387.8 196.9h4.8v4.8h-4.8zM342.9 201.4h4.8v4.8h-4.8zM396.8 201.4h4.8v4.8h-4.8zM378.8 205.8h4.8v4.8h-4.8zM396.8 205.8h4.8v4.8h-4.8zM360.8 210.3h4.8v4.8h-4.8zM374.3 210.3h9.3v4.8h-9.3zM387.8 210.3h9.3v4.8h-9.3zM383.3 214.8h9.3v4.8h-9.3zM396.8 214.8h18.3v4.8h-18.3zM378.8 219.3h9.3v4.8h-9.3zM392.3 219.3h13.8v4.8h-13.8zM374.3 223.8h13.8v4.8h-13.8zM410.3 223.8h4.8v4.8h-4.8zM468.8 223.8h4.8v4.8h-4.8zM396.8 228.3h4.8v4.8h-4.8zM405.8 228.3h4.8v4.8h-4.8zM468.8 228.3h4.8v4.8h-4.8zM477.8 228.3h9.3v4.8h-9.3zM378.8 232.8h9.3v4.8h-9.3zM414.8 232.8h18.3v4.8h-18.3zM437.3 232.8h9.3v4.8h-9.3zM450.8 232.8h4.8v4.8h-4.8zM477.8 232.8h4.8v4.8h-4.8zM504.8 232.8h4.8v4.8h-4.8zM383.3 237.3h4.8v4.8h-4.8zM410.3 237.3h4.8v4.8h-4.8zM446.3 237.3h9.3v4.8h-9.3zM495.8 237.3h4.8v4.8h-4.8zM387.8 241.8h4.8v4.8h-4.8zM540.7 246.3h4.8v4.8h-4.8zM396.8 250.8h4.8v4.8h-4.8zM540.7 250.8h4.8v4.8h-4.8zM392.3 255.3h9.3v4.8h-9.3zM540.7 255.3h9.3v4.8h-9.3zM392.3 259.8h4.8v4.8h-4.8zM410.3 259.8h4.8v4.8h-4.8zM536.2 259.8h4.8v4.8h-4.8zM279.9 264.3h4.8v4.8h-4.8zM365.3 264.3h4.8v4.8h-4.8zM401.3 264.3h9.3v4.8h-9.3zM279.9 268.8h9.3v4.8h-9.3zM531.7 268.8h4.8v4.8h-4.8zM275.4 273.3h4.8v4.8h-4.8zM284.4 273.3h4.8v4.8h-4.8zM405.8 273.3h4.8v4.8h-4.8zM504.8 273.3h4.8v4.8h-4.8zM522.7 273.3h4.8v4.8h-4.8zM284.4 277.8h4.8v4.8h-4.8zM392.3 277.8h4.8v4.8h-4.8zM405.8 277.8h4.8v4.8h-4.8zM414.8 277.8h4.8v4.8h-4.8zM504.8 277.8h13.8v4.8h-13.8zM522.7 277.8h9.3v4.8h-9.3zM401.3 282.2h4.8v4.8h-4.8zM410.3 282.2h9.3v4.8h-9.3zM428.3 282.2h13.8v4.8h-13.8zM495.8 282.2h18.3v4.8h-18.3zM275.4 286.7h13.8v4.8h-13.8zM293.4 286.7h4.8v4.8h-4.8zM396.8 286.7h4.8v4.8h-4.8zM437.3 286.7h4.8v4.8h-4.8zM464.3 286.7h4.8v4.8h-4.8zM473.3 286.7h4.8v4.8h-4.8zM486.8 286.7h4.8v4.8h-4.8zM495.8 286.7h4.8v4.8h-4.8zM279.9 291.2h13.8v4.8h-13.8zM441.8 291.2h9.3v4.8h-9.3zM482.3 291.2h4.8v4.8h-4.8zM293.4 295.7h13.8v4.8h-13.8zM419.3 295.7h4.8v4.8h-4.8zM446.3 295.7h18.3v4.8h-18.3zM279.9 300.2h4.8v4.8h-4.8zM293.4 300.2h4.8v4.8h-4.8zM293.4 304.7h4.8v4.8h-4.8zM302.4 304.7h9.3v4.8h-9.3zM275.4 309.2h4.8v4.8h-4.8zM297.9 309.2h9.3v4.8h-9.3zM311.4 309.2h4.8v4.8h-4.8zM306.9 313.7h13.8v4.8h-13.8zM324.9 313.7h4.8v4.8h-4.8zM275.4 318.2h4.8v4.8h-4.8zM311.4 318.2h4.8v4.8h-4.8zM320.4 318.2h4.8v4.8h-4.8zM351.8 318.2h4.8v4.8h-4.8zM320.4 322.7h4.8v4.8h-4.8zM338.4 322.7h4.8v4.8h-4.8zM347.4 322.7h4.8v4.8h-4.8zM338.4 327.2h13.8v4.8h-13.8zM333.9 331.7h4.8v4.8h-4.8zM347.4 331.7h4.8v4.8h-4.8zM356.3 331.7h9.3v4.8h-9.3zM329.4 336.2h4.8v4.8h-4.8zM338.4 336.2h4.8v4.8h-4.8zM351.8 336.2h4.8v4.8h-4.8zM338.4 340.7h9.3v4.8h-9.3zM356.3 345.2h4.8v4.8h-4.8zM338.4 349.7h4.8v4.8h-4.8zM284.4 354.2h4.8v4.8h-4.8zM333.9 358.6h9.3v4.8h-9.3zM338.4 363.1h4.8v4.8h-4.8zM333.9 372.1h4.8v4.8h-4.8zM342.9 372.1h4.8v4.8h-4.8zM315.9 376.6h4.8v4.8h-4.8zM324.9 376.6h9.3v4.8h-9.3zM342.9 376.6h9.3v4.8h-9.3zM329.4 385.6h4.8v4.8h-4.8zM320.4 390.1h4.8v4.8h-4.8zM333.9 390.1h9.3v4.8h-9.3z" fill="#6c30a0"/>
<path d="M306.9 89h4.8v4.8h-4.8zM284.4 93.5h4.8v4.8h-4.8zM297.9 93.5h4.8v4.8h-4.8zM320.4 93.5h4.8v4.8h-4.8zM329.4 93.5h9.3v4.8h-9.3zM342.9 93.5h4.8v4.8h-4.8zM302.4 98h4.8v4.8h-4.8zM333.9 98h13.8v4.8h-13.8zM275.4 102.5h4.8v4.8h-4.8zM297.9 102.5h22.8v4.8h-22.8zM324.9 102.5h4.8v4.8h-4.8zM338.4 102.5h4.8v4.8h-4.8zM347.4 102.5h4.8v4.8h-4.8zM279.9 107h4.8v4.8h-4.8zM315.9 107h9.3v4.8h-9.3zM342.9 107h4.8v4.8h-4.8zM351.8 107h4.8v4.8h-4.8zM347.4 111.5h9.3v4.8h-9.3zM279.9 116h4.8v4.8h-4.8zM306.9 116h9.3v4.8h-9.3zM351.8 116h4.8v4.8h-4.8zM360.8 116h4.8v4.8h-4.8zM369.8 116h4.8v4.8h-4.8zM356.3 120.5h4.8v4.8h-4.8zM374.3 120.5h4.8v4.8h-4.8zM360.8 125h4.8v4.8h-4.8zM369.8 125h18.3v4.8h-18.3zM356.3 129.4h4.8v4.8h-4.8zM369.8 138.4h13.8v4.8h-13.8zM369.8 147.4h4.8v4.8h-4.8zM369.8 151.9h13.8v4.8h-13.8zM369.8 160.9h4.8v4.8h-4.8zM378.8 165.4h4.8v4.8h-4.8zM275.4 174.4h9.3v4.8h-9.3zM383.3 174.4h4.8v4.8h-4.8zM288.9 178.9h4.8v4.8h-4.8zM383.3 178.9h4.8v4.8h-4.8zM396.8 178.9h4.8v4.8h-4.8zM275.4 183.4h4.8v4.8h-4.8zM284.4 183.4h13.8v4.8h-13.8zM302.4 183.4h9.3v4.8h-9.3zM324.9 183.4h9.3v4.8h-9.3zM383.3 183.4h9.3v4.8h-9.3zM275.4 187.9h9.3v4.8h-9.3zM288.9 187.9h4.8v4.8h-4.8zM297.9 187.9h4.8v4.8h-4.8zM311.4 187.9h9.3v4.8h-9.3zM324.9 187.9h9.3v4.8h-9.3zM383.3 187.9h9.3v4.8h-9.3zM279.9 192.4h4.8v4.8h-4.8zM297.9 192.4h4.8v4.8h-4.8zM338.4 192.4h4.8v4.8h-4.8zM392.3 192.4h4.8v4.8h-4.8zM275.4 196.9h4.8v4.8h-4.8zM329.4 196.9h4.8v4.8h-4.8zM392.3 196.9h9.3v4.8h-9.3zM333.9 201.4h4.8v4.8h-4.8zM347.4 201.4h4.8v4.8h-4.8zM392.3 201.4h4.8v4.8h-4.8zM342.9 205.8h9.3v4.8h-9.3zM342.9 210.3h13.8v4.8h-13.8zM396.8 210.3h9.3v4.8h-9.3zM356.3 214.8h9.3v4.8h-9.3zM374.3 214.8h4.8v4.8h-4.8zM392.3 214.8h4.8v4.8h-4.8zM351.8 219.3h13.8v4.8h-13.8zM369.8 219.3h4.8v4.8h-4.8zM410.3 219.3h4.8v4.8h-4.8zM414.8 223.8h4.8v4.8h-4.8zM423.8 223.8h4.8v4.8h-4.8zM432.8 223.8h4.8v4.8h-4.8zM450.8 223.8h4.8v4.8h-4.8zM473.3 223.8h4.8v4.8h-4.8zM374.3 228.3h9.3v4.8h-9.3zM419.3 228.3h4.8v4.8h-4.8zM432.8 228.3h4.8v4.8h-4.8zM441.8 228.3h13.8v4.8h-13.8zM504.8 228.3h4.8v4.8h-4.8zM518.2 228.3h4.8v4.8h-4.8zM374.3 232.8h4.8v4.8h-4.8zM432.8 232.8h4.8v4.8h-4.8zM464.3 232.8h4.8v4.8h-4.8zM491.3 232.8h4.8v4.8h-4.8zM500.3 232.8h4.8v4.8h-4.8zM518.2 232.8h9.3v4.8h-9.3zM536.2 232.8h4.8v4.8h-4.8zM432.8 237.3h4.8v4.8h-4.8zM522.7 237.3h9.3v4.8h-9.3zM540.7 237.3h4.8v4.8h-4.8zM540.7 241.8h4.8v4.8h-4.8zM549.7 241.8h4.8v4.8h-4.8zM387.8 246.3h9.3v4.8h-9.3zM549.7 250.8h9.3v4.8h-9.3zM288.9 255.3h4.8v4.8h-4.8zM360.8 255.3h4.8v4.8h-4.8zM410.3 255.3h4.8v4.8h-4.8zM549.7 255.3h4.8v4.8h-4.8zM279.9 259.8h9.3v4.8h-9.3zM293.4 259.8h4.8v4.8h-4.8zM369.8 259.8h4.8v4.8h-4.8zM387.8 259.8h4.8v4.8h-4.8zM405.8 259.8h4.8v4.8h-4.8zM549.7 259.8h4.8v4.8h-4.8zM293.4 264.3h4.8v4.8h-4.8zM387.8 264.3h13.8v4.8h-13.8zM540.7 264.3h13.8v4.8h-13.8zM275.4 268.8h4.8v4.8h-4.8zM288.9 268.8h4.8v4.8h-4.8zM329.4 268.8h4.8v4.8h-4.8zM360.8 268.8h4.8v4.8h-4.8zM378.8 268.8h4.8v4.8h-4.8zM387.8 268.8h4.8v4.8h-4.8zM405.8 268.8h4.8v4.8h-4.8zM536.2 268.8h9.3v4.8h-9.3zM549.7 268.8h4.8v4.8h-4.8zM279.9 273.3h4.8v4.8h-4.8zM288.9 273.3h4.8v4.8h-4.8zM365.3 273.3h4.8v4.8h-4.8zM374.3 273.3h4.8v4.8h-4.8zM396.8 273.3h9.3v4.8h-9.3zM518.2 273.3h4.8v4.8h-4.8zM531.7 273.3h9.3v4.8h-9.3zM545.2 273.3h4.8v4.8h-4.8zM275.4 277.8h4.8v4.8h-4.8zM288.9 277.8h9.3v4.8h-9.3zM401.3 277.8h4.8v4.8h-4.8zM410.3 277.8h4.8v4.8h-4.8zM423.8 277.8h4.8v4.8h-4.8zM531.7 277.8h4.8v4.8h-4.8zM275.4 282.2h4.8v4.8h-4.8zM297.9 282.2h4.8v4.8h-4.8zM383.3 282.2h4.8v4.8h-4.8zM419.3 282.2h4.8v4.8h-4.8zM513.7 282.2h4.8v4.8h-4.8zM522.7 282.2h4.8v4.8h-4.8zM531.7 282.2h4.8v4.8h-4.8zM288.9 286.7h4.8v4.8h-4.8zM324.9 286.7h4.8v4.8h-4.8zM405.8 286.7h4.8v4.8h-4.8zM414.8 286.7h18.3v4.8h-18.3zM477.8 286.7h4.8v4.8h-4.8zM513.7 286.7h4.8v4.8h-4.8zM275.4 291.2h4.8v4.8h-4.8zM293.4 291.2h13.8v4.8h-13.8zM410.3 291.2h13.8v4.8h-13.8zM432.8 291.2h9.3v4.8h-9.3zM464.3 291.2h4.8v4.8h-4.8zM477.8 291.2h4.8v4.8h-4.8zM486.8 291.2h9.3v4.8h-9.3zM279.9 295.7h13.8v4.8h-13.8zM414.8 295.7h4.8v4.8h-4.8zM432.8 295.7h4.8v4.8h-4.8zM477.8 295.7h4.8v4.8h-4.8zM486.8 295.7h4.8v4.8h-4.8zM297.9 300.2h18.3v4.8h-18.3zM405.8 300.2h9.3v4.8h-9.3zM428.3 300.2h9.3v4.8h-9.3zM450.8 300.2h4.8v4.8h-4.8zM459.8 300.2h4.8v4.8h-4.8zM284.4 304.7h4.8v4.8h-4.8zM338.4 304.7h9.3v4.8h-9.3zM320.4 309.2h4.8v4.8h-4.8zM338.4 309.2h4.8v4.8h-4.8zM320.4 313.7h4.8v4.8h-4.8zM342.9 313.7h4.8v4.8h-4.8zM356.3 313.7h4.8v4.8h-4.8zM333.9 322.7h4.8v4.8h-4.8zM342.9 322.7h4.8v4.8h-4.8zM351.8 327.2h9.3v4.8h-9.3zM351.8 331.7h4.8v4.8h-4.8zM347.4 336.2h4.8v4.8h-4.8zM356.3 336.2h4.8v4.8h-4.8zM351.8 340.7h18.3v4.8h-18.3zM338.4 345.2h9.3v4.8h-9.3zM351.8 345.2h4.8v4.8h-4.8zM365.3 345.2h4.8v4.8h-4.8zM342.9 349.7h22.8v4.8h-22.8zM369.8 349.7h4.8v4.8h-4.8zM338.4 354.2h13.8v4.8h-13.8zM360.8 354.2h9.3v4.8h-9.3zM275.4 358.6h4.8v4.8h-4.8zM275.4 367.6h4.8v4.8h-4.8zM338.4 367.6h4.8v4.8h-4.8zM347.4 372.1h4.8v4.8h-4.8zM279.9 381.1h4.8v4.8h-4.8zM302.4 381.1h4.8v4.8h-4.8zM333.9 381.1h18.3v4.8h-18.3zM356.3 381.1h4.8v4.8h-4.8zM284.4 385.6h9.3v4.8h-9.3zM333.9 385.6h13.8v4.8h-13.8zM284.4 390.1h13.8v4.8h-13.8zM329.4 390.1h4.8v4.8h-4.8zM342.9 390.1h4.8v4.8h-4.8z" fill="#832b8a"/>
<path d="M311.4 89h4.8v4.8h-4.8zM320.4 89h4.8v4.8h-4.8zM338.4 89h4.8v4.8h-4.8zM351.8 89h4.8v4.8h-4.8zM288.9 93.5h9.3v4.8h-9.3zM302.4 93.5h13.8v4.8h-13.8zM324.9 93.5h4.8v4.8h-4.8zM338.4 93.5h4.8v4.8h-4.8zM369.8 93.5h4.8v4.8h-4.8zM275.4 98h4.8v4.8h-4.8zM284.4 98h9.3v4.8h-9.3zM297.9 98h4.8v4.8h-4.8zM306.9 98h13.8v4.8h-13.8zM324.9 98h9.3v4.8h-9.3zM351.8 98h4.8v4.8h-4.8zM279.9 102.5h4.8v4.8h-4.8zM351.8 102.5h9.3v4.8h-9.3zM275.4 107h4.8v4.8h-4.8zM347.4 107h4.8v4.8h-4.8zM356.3 107h4.8v4.8h-4.8zM365.3 107h4.8v4.8h-4.8zM383.3 111.5h4.8v4.8h-4.8zM365.3 116h4.8v4.8h-4.8zM374.3 116h9.3v4.8h-9.3zM365.3 120.5h4.8v4.8h-4.8zM383.3 120.5h4.8v4.8h-4.8zM365.3 125h4.8v4.8h-4.8zM387.8 125h4.8v4.8h-4.8zM360.8 129.4h4.8v4.8h-4.8zM374.3 129.4h4.8v4.8h-4.8zM378.8 133.9h4.8v4.8h-4.8zM383.3 138.4h4.8v4.8h-4.8zM374.3 142.9h9.3v4.8h-9.3zM396.8 142.9h4.8v4.8h-4.8zM378.8 147.4h4.8v4.8h-4.8zM387.8 156.4h4.8v4.8h-4.8zM387.8 160.9h4.8v4.8h-4.8zM279.9 169.9h4.8v4.8h-4.8zM392.3 174.4h4.8v4.8h-4.8zM275.4 178.9h9.3v4.8h-9.3zM320.4 178.9h4.8v4.8h-4.8zM387.8 178.9h4.8v4.8h-4.8zM279.9 183.4h4.8v4.8h-4.8zM315.9 183.4h9.3v4.8h-9.3zM392.3 183.4h4.8v4.8h-4.8zM284.4 187.9h4.8v4.8h-4.8zM293.4 187.9h4.8v4.8h-4.8zM302.4 187.9h4.8v4.8h-4.8zM392.3 187.9h13.8v4.8h-13.8zM275.4 192.4h4.8v4.8h-4.8zM293.4 192.4h4.8v4.8h-4.8zM302.4 192.4h4.8v4.8h-4.8zM320.4 192.4h4.8v4.8h-4.8zM329.4 192.4h4.8v4.8h-4.8zM396.8 192.4h4.8v4.8h-4.8zM279.9 196.9h4.8v4.8h-4.8zM293.4 196.9h4.8v4.8h-4.8zM302.4 196.9h4.8v4.8h-4.8zM333.9 196.9h9.3v4.8h-9.3zM275.4 201.4h4.8v4.8h-4.8zM297.9 201.4h4.8v4.8h-4.8zM329.4 201.4h4.8v4.8h-4.8zM338.4 201.4h4.8v4.8h-4.8zM405.8 201.4h9.3v4.8h-9.3zM275.4 205.8h4.8v4.8h-4.8zM329.4 205.8h4.8v4.8h-4.8zM338.4 205.8h4.8v4.8h-4.8zM401.3 205.8h9.3v4.8h-9.3zM275.4 210.3h4.8v4.8h-4.8zM329.4 210.3h4.8v4.8h-4.8zM405.8 210.3h13.8v4.8h-13.8zM329.4 214.8h18.3v4.8h-18.3zM351.8 214.8h4.8v4.8h-4.8zM365.3 214.8h4.8v4.8h-4.8zM414.8 214.8h13.8v4.8h-13.8zM414.8 219.3h4.8v4.8h-4.8zM423.8 219.3h9.3v4.8h-9.3zM468.8 219.3h4.8v4.8h-4.8zM365.3 223.8h9.3v4.8h-9.3zM419.3 223.8h4.8v4.8h-4.8zM428.3 223.8h4.8v4.8h-4.8zM518.2 223.8h4.8v4.8h-4.8zM360.8 228.3h4.8v4.8h-4.8zM369.8 228.3h4.8v4.8h-4.8zM410.3 228.3h4.8v4.8h-4.8zM428.3 228.3h4.8v4.8h-4.8zM437.3 228.3h4.8v4.8h-4.8zM455.3 228.3h13.8v4.8h-13.8zM500.3 228.3h4.8v4.8h-4.8zM509.2 228.3h9.3v4.8h-9.3zM527.2 228.3h4.8v4.8h-4.8zM446.3 232.8h4.8v4.8h-4.8zM455.3 232.8h4.8v4.8h-4.8zM486.8 232.8h4.8v4.8h-4.8zM527.2 232.8h9.3v4.8h-9.3zM540.7 232.8h4.8v4.8h-4.8zM369.8 237.3h13.8v4.8h-13.8zM531.7 237.3h4.8v4.8h-4.8zM545.2 237.3h13.8v4.8h-13.8zM288.9 241.8h4.8v4.8h-4.8zM374.3 241.8h9.3v4.8h-9.3zM279.9 246.3h4.8v4.8h-4.8zM365.3 246.3h4.8v4.8h-4.8zM374.3 246.3h13.8v4.8h-13.8zM549.7 246.3h4.8v4.8h-4.8zM369.8 250.8h9.3v4.8h-9.3zM392.3 250.8h4.8v4.8h-4.8zM279.9 255.3h4.8v4.8h-4.8zM387.8 255.3h4.8v4.8h-4.8zM554.2 255.3h4.8v4.8h-4.8zM284.4 264.3h9.3v4.8h-9.3zM347.4 264.3h4.8v4.8h-4.8zM360.8 264.3h4.8v4.8h-4.8zM369.8 264.3h18.3v4.8h-18.3zM297.9 268.8h4.8v4.8h-4.8zM347.4 268.8h4.8v4.8h-4.8zM356.3 268.8h4.8v4.8h-4.8zM365.3 268.8h13.8v4.8h-13.8zM383.3 268.8h4.8v4.8h-4.8zM392.3 268.8h9.3v4.8h-9.3zM545.2 268.8h4.8v4.8h-4.8zM293.4 273.3h9.3v4.8h-9.3zM329.4 273.3h4.8v4.8h-4.8zM360.8 273.3h4.8v4.8h-4.8zM387.8 273.3h9.3v4.8h-9.3zM527.2 273.3h4.8v4.8h-4.8zM540.7 273.3h4.8v4.8h-4.8zM549.7 273.3h4.8v4.8h-4.8zM351.8 277.8h4.8v4.8h-4.8zM378.8 277.8h4.8v4.8h-4.8zM387.8 277.8h4.8v4.8h-4.8zM396.8 277.8h4.8v4.8h-4.8zM540.7 277.8h4.8v4.8h-4.8zM279.9 282.2h4.8v4.8h-4.8zM288.9 282.2h9.3v4.8h-9.3zM347.4 282.2h4.8v4.8h-4.8zM396.8 282.2h4.8v4.8h-4.8zM405.8 282.2h4.8v4.8h-4.8zM423.8 282.2h4.8v4.8h-4.8zM518.2 282.2h4.8v4.8h-4.8zM333.9 286.7h4.8v4.8h-4.8zM351.8 286.7h4.8v4.8h-4.8zM387.8 286.7h4.8v4.8h-4.8zM504.8 286.7h9.3v4.8h-9.3zM518.2 286.7h4.8v4.8h-4.8zM531.7 286.7h4.8v4.8h-4.8zM306.9 291.2h4.8v4.8h-4.8zM320.4 291.2h4.8v4.8h-4.8zM329.4 291.2h9.3v4.8h-9.3zM347.4 291.2h9.3v4.8h-9.3zM396.8 291.2h4.8v4.8h-4.8zM423.8 291.2h9.3v4.8h-9.3zM468.8 291.2h4.8v4.8h-4.8zM495.8 291.2h18.3v4.8h-18.3zM536.2 291.2h4.8v4.8h-4.8zM315.9 295.7h4.8v4.8h-4.8zM342.9 295.7h4.8v4.8h-4.8zM387.8 295.7h13.8v4.8h-13.8zM405.8 295.7h4.8v4.8h-4.8zM428.3 295.7h4.8v4.8h-4.8zM437.3 295.7h9.3v4.8h-9.3zM464.3 295.7h13.8v4.8h-13.8zM482.3 295.7h4.8v4.8h-4.8zM491.3 295.7h4.8v4.8h-4.8zM315.9 300.2h4.8v4.8h-4.8zM324.9 300.2h9.3v4.8h-9.3zM338.4 300.2h18.3v4.8h-18.3zM441.8 300.2h9.3v4.8h-9.3zM455.3 300.2h4.8v4.8h-4.8zM464.3 300.2h4.8v4.8h-4.8zM477.8 300.2h4.8v4.8h-4.8zM491.3 300.2h4.8v4.8h-4.8zM320.4 304.7h9.3v4.8h-9.3zM347.4 304.7h4.8v4.8h-4.8zM369.8 304.7h4.8v4.8h-4.8zM378.8 304.7h13.8v4.8h-13.8zM396.8 304.7h4.8v4.8h-4.8zM428.3 304.7h4.8v4.8h-4.8zM455.3 304.7h13.8v4.8h-13.8zM315.9 309.2h4.8v4.8h-4.8zM324.9 309.2h4.8v4.8h-4.8zM342.9 309.2h9.3v4.8h-9.3zM423.8 309.2h4.8v4.8h-4.8zM500.3 309.2h4.8v4.8h-4.8zM329.4 313.7h13.8v4.8h-13.8zM347.4 313.7h9.3v4.8h-9.3zM360.8 313.7h4.8v4.8h-4.8zM324.9 318.2h27.3v4.8h-27.3zM365.3 318.2h4.8v4.8h-4.8zM324.9 322.7h4.8v4.8h-4.8zM351.8 322.7h9.3v4.8h-9.3zM365.3 331.7h4.8v4.8h-4.8zM365.3 336.2h4.8v4.8h-4.8zM347.4 340.7h4.8v4.8h-4.8zM347.4 345.2h4.8v4.8h-4.8zM360.8 345.2h4.8v4.8h-4.8zM365.3 349.7h4.8v4.8h-4.8zM351.8 354.2h9.3v4.8h-9.3zM342.9 358.6h4.8v4.8h-4.8zM360.8 358.6h13.8v4.8h-13.8zM342.9 363.1h9.3v4.8h-9.3zM356.3 363.1h13.8v4.8h-13.8zM342.9 367.6h4.8v4.8h-4.8zM351.8 367.6h13.8v4.8h-13.8zM351.8 372.1h9.3v4.8h-9.3zM365.3 372.1h4.8v4.8h-4.8zM351.8 376.6h18.3v4.8h-18.3zM351.8 381.1h4.8v4.8h-4.8zM275.4 385.6h4.8v4.8h-4.8zM347.4 385.6h9.3v4.8h-9.3zM360.8 385.6h4.8v4.8h-4.8zM275.4 390.1h9.3v4.8h-9.3zM351.8 390.1h4.8v4.8h-4.8z" fill="#9b2673"/>
<path d="M284.4 89h4.8v4.8h-4.8zM315.9 89h4.8v4.8h-4.8zM324.9 89h13.8v4.8h-13.8zM347.4 89h4.8v4.8h-4.8zM356.3 89h4.8v4.8h-4.8zM347.4 93.5h18.3v4.8h-18.3zM293.4 98h4.8v4.8h-4.8zM347.4 98h4.8v4.8h-4.8zM356.3 98h13.8v4.8h-13.8zM360.8 102.5h4.8v4.8h-4.8zM360.8 107h4.8v4.8h-4.8zM369.8 107h9.3v4.8h-9.3zM383.3 107h4.8v4.8h-4.8zM360.8 111.5h9.3v4.8h-9.3zM374.3 111.5h9.3v4.8h-9.3zM383.3 116h9.3v4.8h-9.3zM360.8 120.5h4.8v4.8h-4.8zM369.8 120.5h4.8v4.8h-4.8zM392.3 125h4.8v4.8h-4.8zM378.8 129.4h9.3v4.8h-9.3zM374.3 133.9h4.8v4.8h-4.8zM383.3 133.9h4.8v4.8h-4.8zM383.3 147.4h4.8v4.8h-4.8zM383.3 151.9h4.8v4.8h-4.8zM392.3 151.9h4.8v4.8h-4.8zM383.3 156.4h4.8v4.8h-4.8zM392.3 160.9h4.8v4.8h-4.8zM387.8 169.9h4.8v4.8h-4.8zM387.8 174.4h4.8v4.8h-4.8zM392.3 178.9h4.8v4.8h-4.8zM396.8 183.4h4.8v4.8h-4.8zM306.9 187.9h4.8v4.8h-4.8zM288.9 192.4h4.8v4.8h-4.8zM306.9 192.4h4.8v4.8h-4.8zM315.9 192.4h4.8v4.8h-4.8zM405.8 192.4h4.8v4.8h-4.8zM284.4 196.9h4.8v4.8h-4.8zM297.9 196.9h4.8v4.8h-4.8zM306.9 196.9h9.3v4.8h-9.3zM320.4 196.9h9.3v4.8h-9.3zM401.3 196.9h4.8v4.8h-4.8zM410.3 196.9h4.8v4.8h-4.8zM284.4 201.4h4.8v4.8h-4.8zM302.4 201.4h4.8v4.8h-4.8zM302.4 205.8h4.8v4.8h-4.8zM320.4 205.8h4.8v4.8h-4.8zM333.9 205.8h4.8v4.8h-4.8zM410.3 205.8h9.3v4.8h-9.3zM333.9 210.3h9.3v4.8h-9.3zM347.4 214.8h4.8v4.8h-4.8zM432.8 214.8h4.8v4.8h-4.8zM333.9 219.3h4.8v4.8h-4.8zM342.9 219.3h9.3v4.8h-9.3zM365.3 219.3h4.8v4.8h-4.8zM419.3 219.3h4.8v4.8h-4.8zM432.8 219.3h4.8v4.8h-4.8zM446.3 219.3h4.8v4.8h-4.8zM464.3 219.3h4.8v4.8h-4.8zM473.3 219.3h4.8v4.8h-4.8zM351.8 223.8h4.8v4.8h-4.8zM360.8 223.8h4.8v4.8h-4.8zM437.3 223.8h4.8v4.8h-4.8zM464.3 223.8h4.8v4.8h-4.8zM477.8 223.8h13.8v4.8h-13.8zM500.3 223.8h4.8v4.8h-4.8zM509.2 223.8h9.3v4.8h-9.3zM522.7 223.8h4.8v4.8h-4.8zM531.7 223.8h4.8v4.8h-4.8zM540.7 223.8h9.3v4.8h-9.3zM275.4 228.3h4.8v4.8h-4.8zM356.3 228.3h4.8v4.8h-4.8zM495.8 228.3h4.8v4.8h-4.8zM536.2 228.3h9.3v4.8h-9.3zM369.8 232.8h4.8v4.8h-4.8zM356.3 237.3h4.8v4.8h-4.8zM365.3 241.8h9.3v4.8h-9.3zM383.3 241.8h4.8v4.8h-4.8zM554.2 241.8h4.8v4.8h-4.8zM567.7 241.8h4.8v4.8h-4.8zM284.4 246.3h4.8v4.8h-4.8zM554.2 246.3h9.3v4.8h-9.3zM279.9 250.8h4.8v4.8h-4.8zM293.4 250.8h4.8v4.8h-4.8zM356.3 250.8h13.8v4.8h-13.8zM387.8 250.8h4.8v4.8h-4.8zM558.7 250.8h4.8v4.8h-4.8zM275.4 255.3h4.8v4.8h-4.8zM293.4 255.3h4.8v4.8h-4.8zM356.3 255.3h4.8v4.8h-4.8zM365.3 255.3h13.8v4.8h-13.8zM383.3 255.3h4.8v4.8h-4.8zM558.7 255.3h4.8v4.8h-4.8zM275.4 259.8h4.8v4.8h-4.8zM288.9 259.8h4.8v4.8h-4.8zM302.4 259.8h4.8v4.8h-4.8zM329.4 259.8h4.8v4.8h-4.8zM360.8 259.8h9.3v4.8h-9.3zM374.3 259.8h13.8v4.8h-13.8zM554.2 259.8h9.3v4.8h-9.3zM275.4 264.3h4.8v4.8h-4.8zM333.9 264.3h4.8v4.8h-4.8zM356.3 264.3h4.8v4.8h-4.8zM293.4 268.8h4.8v4.8h-4.8zM324.9 268.8h4.8v4.8h-4.8zM338.4 268.8h4.8v4.8h-4.8zM351.8 268.8h4.8v4.8h-4.8zM401.3 268.8h4.8v4.8h-4.8zM320.4 273.3h9.3v4.8h-9.3zM333.9 273.3h9.3v4.8h-9.3zM347.4 273.3h4.8v4.8h-4.8zM356.3 273.3h4.8v4.8h-4.8zM369.8 273.3h4.8v4.8h-4.8zM378.8 273.3h9.3v4.8h-9.3zM554.2 273.3h4.8v4.8h-4.8zM297.9 277.8h9.3v4.8h-9.3zM324.9 277.8h22.8v4.8h-22.8zM360.8 277.8h9.3v4.8h-9.3zM374.3 277.8h4.8v4.8h-4.8zM383.3 277.8h4.8v4.8h-4.8zM536.2 277.8h4.8v4.8h-4.8zM302.4 282.2h4.8v4.8h-4.8zM320.4 282.2h9.3v4.8h-9.3zM351.8 282.2h4.8v4.8h-4.8zM387.8 282.2h4.8v4.8h-4.8zM527.2 282.2h4.8v4.8h-4.8zM536.2 282.2h9.3v4.8h-9.3zM306.9 286.7h9.3v4.8h-9.3zM329.4 286.7h4.8v4.8h-4.8zM338.4 286.7h4.8v4.8h-4.8zM378.8 286.7h9.3v4.8h-9.3zM392.3 286.7h4.8v4.8h-4.8zM401.3 286.7h4.8v4.8h-4.8zM410.3 286.7h4.8v4.8h-4.8zM540.7 286.7h9.3v4.8h-9.3zM311.4 291.2h4.8v4.8h-4.8zM338.4 291.2h9.3v4.8h-9.3zM356.3 291.2h9.3v4.8h-9.3zM383.3 291.2h13.8v4.8h-13.8zM401.3 291.2h4.8v4.8h-4.8zM522.7 291.2h4.8v4.8h-4.8zM306.9 295.7h4.8v4.8h-4.8zM320.4 295.7h18.3v4.8h-18.3zM347.4 295.7h4.8v4.8h-4.8zM356.3 295.7h4.8v4.8h-4.8zM374.3 295.7h13.8v4.8h-13.8zM410.3 295.7h4.8v4.8h-4.8zM495.8 295.7h9.3v4.8h-9.3zM320.4 300.2h4.8v4.8h-4.8zM369.8 300.2h9.3v4.8h-9.3zM383.3 300.2h9.3v4.8h-9.3zM396.8 300.2h9.3v4.8h-9.3zM414.8 300.2h13.8v4.8h-13.8zM437.3 300.2h4.8v4.8h-4.8zM468.8 300.2h9.3v4.8h-9.3zM495.8 300.2h13.8v4.8h-13.8zM527.2 300.2h4.8v4.8h-4.8zM311.4 304.7h9.3v4.8h-9.3zM329.4 304.7h9.3v4.8h-9.3zM351.8 304.7h4.8v4.8h-4.8zM392.3 304.7h4.8v4.8h-4.8zM405.8 304.7h22.8v4.8h-22.8zM432.8 304.7h4.8v4.8h-4.8zM450.8 304.7h4.8v4.8h-4.8zM495.8 304.7h4.8v4.8h-4.8zM329.4 309.2h4.8v4.8h-4.8zM356.3 309.2h4.8v4.8h-4.8zM365.3 309.2h4.8v4.8h-4.8zM378.8 309.2h4.8v4.8h-4.8zM387.8 309.2h4.8v4.8h-4.8zM396.8 309.2h4.8v4.8h-4.8zM414.8 309.2h9.3v4.8h-9.3zM464.3 309.2h4.8v4.8h-4.8zM477.8 309.2h4.8v4.8h-4.8zM365.3 313.7h4.8v4.8h-4.8zM410.3 313.7h4.8v4.8h-4.8zM419.3 313.7h9.3v4.8h-9.3zM459.8 313.7h4.8v4.8h-4.8zM360.8 318.2h4.8v4.8h-4.8zM374.3 318.2h4.8v4.8h-4.8zM486.8 318.2h4.8v4.8h-4.8zM360.8 322.7h4.8v4.8h-4.8zM360.8 327.2h4.8v4.8h-4.8zM360.8 336.2h4.8v4.8h-4.8zM369.8 336.2h4.8v4.8h-4.8zM369.8 340.7h4.8v4.8h-4.8zM419.3 340.7h9.3v4.8h-9.3zM432.8 340.7h4.8v4.8h-4.8zM369.8 345.2h4.8v4.8h-4.8zM423.8 345.2h4.8v4.8h-4.8zM374.3 354.2h9.3v4.8h-9.3zM347.4 358.6h4.8v4.8h-4.8zM356.3 358.6h4.8v4.8h-4.8zM351.8 363.1h4.8v4.8h-4.8zM369.8 363.1h4.8v4.8h-4.8zM347.4 367.6h4.8v4.8h-4.8zM365.3 367.6h9.3v4.8h-9.3zM360.8 372.1h4.8v4.8h-4.8zM432.8 372.1h4.8v4.8h-4.8zM360.8 381.1h9.3v4.8h-9.3zM356.3 385.6h4.8v4.8h-4.8zM347.4 390.1h4.8v4.8h-4.8z" fill="#b2225c"/>
<path d="M275.4 89h9.3v4.8h-9.3zM288.9 89h4.8v4.8h-4.8zM297.9 89h9.3v4.8h-9.3zM342.9 89h4.8v4.8h-4.8zM365.3 89h4.8v4.8h-4.8zM275.4 93.5h9.3v4.8h-9.3zM365.3 93.5h4.8v4.8h-4.8zM374.3 93.5h4.8v4.8h-4.8zM279.9 98h4.8v4.8h-4.8zM284.4 102.5h4.8v4.8h-4.8zM365.3 102.5h22.8v4.8h-22.8zM378.8 107h4.8v4.8h-4.8zM387.8 107h4.8v4.8h-4.8zM369.8 111.5h4.8v4.8h-4.8zM378.8 120.5h4.8v4.8h-4.8zM392.3 120.5h4.8v4.8h-4.8zM387.8 129.4h9.3v4.8h-9.3zM387.8 138.4h13.8v4.8h-13.8zM387.8 142.9h4.8v4.8h-4.8zM387.8 147.4h4.8v4.8h-4.8zM387.8 151.9h4.8v4.8h-4.8zM396.8 160.9h4.8v4.8h-4.8zM392.3 165.4h4.8v4.8h-4.8zM396.8 169.9h4.8v4.8h-4.8zM401.3 174.4h4.8v4.8h-4.8zM401.3 178.9h13.8v4.8h-13.8zM401.3 183.4h9.3v4.8h-9.3zM405.8 187.9h4.8v4.8h-4.8zM401.3 192.4h4.8v4.8h-4.8zM288.9 196.9h4.8v4.8h-4.8zM315.9 196.9h4.8v4.8h-4.8zM405.8 196.9h4.8v4.8h-4.8zM279.9 201.4h4.8v4.8h-4.8zM288.9 201.4h9.3v4.8h-9.3zM306.9 201.4h4.8v4.8h-4.8zM315.9 201.4h13.8v4.8h-13.8zM414.8 201.4h13.8v4.8h-13.8zM279.9 205.8h9.3v4.8h-9.3zM293.4 205.8h9.3v4.8h-9.3zM315.9 205.8h4.8v4.8h-4.8zM324.9 205.8h4.8v4.8h-4.8zM419.3 205.8h4.8v4.8h-4.8zM428.3 205.8h4.8v4.8h-4.8zM279.9 210.3h9.3v4.8h-9.3zM320.4 210.3h9.3v4.8h-9.3zM419.3 210.3h4.8v4.8h-4.8zM446.3 210.3h4.8v4.8h-4.8zM473.3 210.3h4.8v4.8h-4.8zM275.4 214.8h9.3v4.8h-9.3zM320.4 214.8h9.3v4.8h-9.3zM428.3 214.8h4.8v4.8h-4.8zM437.3 214.8h9.3v4.8h-9.3zM459.8 214.8h4.8v4.8h-4.8zM527.2 214.8h4.8v4.8h-4.8zM329.4 219.3h4.8v4.8h-4.8zM437.3 219.3h9.3v4.8h-9.3zM450.8 219.3h13.8v4.8h-13.8zM477.8 219.3h9.3v4.8h-9.3zM518.2 219.3h4.8v4.8h-4.8zM527.2 219.3h4.8v4.8h-4.8zM558.7 219.3h4.8v4.8h-4.8zM356.3 223.8h4.8v4.8h-4.8zM441.8 223.8h9.3v4.8h-9.3zM455.3 223.8h9.3v4.8h-9.3zM491.3 223.8h4.8v4.8h-4.8zM293.4 228.3h4.8v4.8h-4.8zM338.4 228.3h4.8v4.8h-4.8zM347.4 228.3h4.8v4.8h-4.8zM365.3 228.3h4.8v4.8h-4.8zM486.8 228.3h9.3v4.8h-9.3zM522.7 228.3h4.8v4.8h-4.8zM531.7 228.3h4.8v4.8h-4.8zM545.2 228.3h9.3v4.8h-9.3zM558.7 228.3h4.8v4.8h-4.8zM284.4 232.8h13.8v4.8h-13.8zM351.8 232.8h4.8v4.8h-4.8zM360.8 232.8h4.8v4.8h-4.8zM545.2 232.8h18.3v4.8h-18.3zM293.4 237.3h4.8v4.8h-4.8zM360.8 237.3h9.3v4.8h-9.3zM558.7 237.3h4.8v4.8h-4.8zM275.4 241.8h4.8v4.8h-4.8zM297.9 241.8h9.3v4.8h-9.3zM347.4 241.8h4.8v4.8h-4.8zM356.3 241.8h9.3v4.8h-9.3zM558.7 241.8h4.8v4.8h-4.8zM288.9 246.3h9.3v4.8h-9.3zM306.9 246.3h4.8v4.8h-4.8zM360.8 246.3h4.8v4.8h-4.8zM369.8 246.3h4.8v4.8h-4.8zM275.4 250.8h4.8v4.8h-4.8zM284.4 250.8h9.3v4.8h-9.3zM297.9 250.8h4.8v4.8h-4.8zM306.9 250.8h4.8v4.8h-4.8zM324.9 250.8h4.8v4.8h-4.8zM351.8 250.8h4.8v4.8h-4.8zM284.4 255.3h4.8v4.8h-4.8zM297.9 255.3h4.8v4.8h-4.8zM347.4 255.3h4.8v4.8h-4.8zM563.2 255.3h4.8v4.8h-4.8zM576.7 255.3h4.8v4.8h-4.8zM333.9 259.8h4.8v4.8h-4.8zM347.4 259.8h13.8v4.8h-13.8zM297.9 264.3h13.8v4.8h-13.8zM329.4 264.3h4.8v4.8h-4.8zM338.4 264.3h9.3v4.8h-9.3zM554.2 264.3h9.3v4.8h-9.3zM311.4 268.8h4.8v4.8h-4.8zM333.9 268.8h4.8v4.8h-4.8zM342.9 268.8h4.8v4.8h-4.8zM554.2 268.8h9.3v4.8h-9.3zM306.9 273.3h4.8v4.8h-4.8zM320.4 277.8h4.8v4.8h-4.8zM356.3 277.8h4.8v4.8h-4.8zM369.8 277.8h4.8v4.8h-4.8zM545.2 277.8h9.3v4.8h-9.3zM306.9 282.2h13.8v4.8h-13.8zM329.4 282.2h18.3v4.8h-18.3zM356.3 282.2h4.8v4.8h-4.8zM365.3 282.2h13.8v4.8h-13.8zM392.3 282.2h4.8v4.8h-4.8zM545.2 282.2h13.8v4.8h-13.8zM297.9 286.7h9.3v4.8h-9.3zM315.9 286.7h9.3v4.8h-9.3zM342.9 286.7h9.3v4.8h-9.3zM365.3 286.7h4.8v4.8h-4.8zM522.7 286.7h9.3v4.8h-9.3zM554.2 286.7h4.8v4.8h-4.8zM315.9 291.2h4.8v4.8h-4.8zM324.9 291.2h4.8v4.8h-4.8zM378.8 291.2h4.8v4.8h-4.8zM405.8 291.2h4.8v4.8h-4.8zM545.2 291.2h4.8v4.8h-4.8zM311.4 295.7h4.8v4.8h-4.8zM338.4 295.7h4.8v4.8h-4.8zM351.8 295.7h4.8v4.8h-4.8zM360.8 295.7h9.3v4.8h-9.3zM401.3 295.7h4.8v4.8h-4.8zM423.8 295.7h4.8v4.8h-4.8zM504.8 295.7h4.8v4.8h-4.8zM513.7 295.7h9.3v4.8h-9.3zM531.7 295.7h9.3v4.8h-9.3zM333.9 300.2h4.8v4.8h-4.8zM356.3 300.2h9.3v4.8h-9.3zM392.3 300.2h4.8v4.8h-4.8zM482.3 300.2h4.8v4.8h-4.8zM356.3 304.7h4.8v4.8h-4.8zM365.3 304.7h4.8v4.8h-4.8zM374.3 304.7h4.8v4.8h-4.8zM401.3 304.7h4.8v4.8h-4.8zM441.8 304.7h9.3v4.8h-9.3zM468.8 304.7h9.3v4.8h-9.3zM482.3 304.7h4.8v4.8h-4.8zM527.2 304.7h4.8v4.8h-4.8zM333.9 309.2h4.8v4.8h-4.8zM351.8 309.2h4.8v4.8h-4.8zM360.8 309.2h4.8v4.8h-4.8zM369.8 309.2h4.8v4.8h-4.8zM392.3 309.2h4.8v4.8h-4.8zM405.8 309.2h4.8v4.8h-4.8zM428.3 309.2h4.8v4.8h-4.8zM450.8 309.2h13.8v4.8h-13.8zM518.2 309.2h4.8v4.8h-4.8zM369.8 313.7h9.3v4.8h-9.3zM387.8 313.7h4.8v4.8h-4.8zM446.3 313.7h4.8v4.8h-4.8zM455.3 313.7h4.8v4.8h-4.8zM464.3 313.7h4.8v4.8h-4.8zM473.3 313.7h9.3v4.8h-9.3zM356.3 318.2h4.8v4.8h-4.8zM369.8 318.2h4.8v4.8h-4.8zM383.3 318.2h4.8v4.8h-4.8zM432.8 318.2h4.8v4.8h-4.8zM365.3 322.7h9.3v4.8h-9.3zM387.8 322.7h4.8v4.8h-4.8zM473.3 322.7h4.8v4.8h-4.8zM491.3 322.7h4.8v4.8h-4.8zM500.3 322.7h4.8v4.8h-4.8zM365.3 327.2h9.3v4.8h-9.3zM369.8 331.7h9.3v4.8h-9.3zM468.8 331.7h4.8v4.8h-4.8zM374.3 336.2h4.8v4.8h-4.8zM401.3 336.2h4.8v4.8h-4.8zM410.3 336.2h4.8v4.8h-4.8zM437.3 336.2h4.8v4.8h-4.8zM446.3 336.2h4.8v4.8h-4.8zM405.8 340.7h4.8v4.8h-4.8zM374.3 345.2h4.8v4.8h-4.8zM405.8 345.2h4.8v4.8h-4.8zM414.8 345.2h9.3v4.8h-9.3zM414.8 349.7h4.8v4.8h-4.8zM369.8 354.2h4.8v4.8h-4.8zM351.8 358.6h4.8v4.8h-4.8zM374.3 358.6h4.8v4.8h-4.8zM419.3 358.6h4.8v4.8h-4.8zM378.8 367.6h4.8v4.8h-4.8zM419.3 367.6h4.8v4.8h-4.8zM437.3 372.1h4.8v4.8h-4.8zM374.3 376.6h4.8v4.8h-4.8zM369.8 381.1h4.8v4.8h-4.8zM441.8 381.1h4.8v4.8h-4.8zM437.3 385.6h4.8v4.8h-4.8zM369.8 390.1h4.8v4.8h-4.8zM383.3 390.1h4.8v4.8h-4.8z" fill="#c82146"/>
<path d="M293.4 89h4.8v4.8h-4.8zM369.8 89h4.8v4.8h-4.8zM383.3 93.5h4.8v4.8h-4.8zM369.8 98h4.8v4.8h-4.8zM378.8 98h9.3v4.8h-9.3zM392.3 116h4.8v4.8h-4.8zM387.8 120.5h4.8v4.8h-4.8zM396.8 129.4h4.8v4.8h-4.8zM387.8 133.9h18.3v4.8h-18.3zM401.3 138.4h4.8v4.8h-4.8zM383.3 142.9h4.8v4.8h-4.8zM392.3 142.9h4.8v4.8h-4.8zM410.3 142.9h4.8v4.8h-4.8zM396.8 147.4h4.8v4.8h-4.8zM396.8 151.9h9.3v4.8h-9.3zM392.3 156.4h4.8v4.8h-4.8zM396.8 165.4h4.8v4.8h-4.8zM392.3 169.9h4.8v4.8h-4.8zM401.3 169.9h4.8v4.8h-4.8zM396.8 174.4h4.8v4.8h-4.8zM410.3 183.4h4.8v4.8h-4.8zM410.3 187.9h9.3v4.8h-9.3zM414.8 192.4h4.8v4.8h-4.8zM423.8 192.4h4.8v4.8h-4.8zM414.8 196.9h4.8v4.8h-4.8zM311.4 201.4h4.8v4.8h-4.8zM428.3 201.4h4.8v4.8h-4.8zM558.7 201.4h4.8v4.8h-4.8zM288.9 205.8h4.8v4.8h-4.8zM311.4 205.8h4.8v4.8h-4.8zM423.8 205.8h4.8v4.8h-4.8zM437.3 205.8h4.8v4.8h-4.8zM572.2 205.8h9.3v4.8h-9.3zM293.4 210.3h13.8v4.8h-13.8zM311.4 210.3h4.8v4.8h-4.8zM423.8 210.3h13.8v4.8h-13.8zM441.8 210.3h4.8v4.8h-4.8zM464.3 210.3h4.8v4.8h-4.8zM284.4 214.8h9.3v4.8h-9.3zM455.3 214.8h4.8v4.8h-4.8zM464.3 214.8h13.8v4.8h-13.8zM513.7 214.8h4.8v4.8h-4.8zM522.7 214.8h4.8v4.8h-4.8zM549.7 214.8h4.8v4.8h-4.8zM293.4 219.3h9.3v4.8h-9.3zM315.9 219.3h13.8v4.8h-13.8zM338.4 219.3h4.8v4.8h-4.8zM486.8 219.3h4.8v4.8h-4.8zM500.3 219.3h4.8v4.8h-4.8zM509.2 219.3h4.8v4.8h-4.8zM531.7 219.3h4.8v4.8h-4.8zM545.2 219.3h9.3v4.8h-9.3zM279.9 223.8h4.8v4.8h-4.8zM293.4 223.8h4.8v4.8h-4.8zM324.9 223.8h4.8v4.8h-4.8zM333.9 223.8h4.8v4.8h-4.8zM342.9 223.8h9.3v4.8h-9.3zM495.8 223.8h4.8v4.8h-4.8zM504.8 223.8h4.8v4.8h-4.8zM527.2 223.8h4.8v4.8h-4.8zM549.7 223.8h4.8v4.8h-4.8zM284.4 228.3h9.3v4.8h-9.3zM297.9 228.3h4.8v4.8h-4.8zM315.9 228.3h4.8v4.8h-4.8zM324.9 228.3h9.3v4.8h-9.3zM342.9 228.3h4.8v4.8h-4.8zM351.8 228.3h4.8v4.8h-4.8zM554.2 228.3h4.8v4.8h-4.8zM275.4 232.8h9.3v4.8h-9.3zM311.4 232.8h4.8v4.8h-4.8zM329.4 232.8h4.8v4.8h-4.8zM338.4 232.8h13.8v4.8h-13.8zM365.3 232.8h4.8v4.8h-4.8zM275.4 237.3h9.3v4.8h-9.3zM288.9 237.3h4.8v4.8h-4.8zM297.9 237.3h9.3v4.8h-9.3zM311.4 237.3h4.8v4.8h-4.8zM333.9 237.3h4.8v4.8h-4.8zM347.4 237.3h9.3v4.8h-9.3zM567.7 237.3h9.3v4.8h-9.3zM279.9 241.8h9.3v4.8h-9.3zM293.4 241.8h4.8v4.8h-4.8zM311.4 241.8h13.8v4.8h-13.8zM563.2 241.8h4.8v4.8h-4.8zM275.4 246.3h4.8v4.8h-4.8zM297.9 246.3h9.3v4.8h-9.3zM315.9 246.3h9.3v4.8h-9.3zM342.9 246.3h4.8v4.8h-4.8zM351.8 246.3h9.3v4.8h-9.3zM567.7 246.3h4.8v4.8h-4.8zM302.4 250.8h4.8v4.8h-4.8zM311.4 250.8h4.8v4.8h-4.8zM342.9 250.8h4.8v4.8h-4.8zM378.8 250.8h9.3v4.8h-9.3zM563.2 250.8h4.8v4.8h-4.8zM572.2 250.8h4.8v4.8h-4.8zM315.9 255.3h4.8v4.8h-4.8zM338.4 255.3h9.3v4.8h-9.3zM378.8 255.3h4.8v4.8h-4.8zM567.7 255.3h9.3v4.8h-9.3zM297.9 259.8h4.8v4.8h-4.8zM306.9 259.8h22.8v4.8h-22.8zM338.4 259.8h4.8v4.8h-4.8zM311.4 264.3h18.3v4.8h-18.3zM351.8 264.3h4.8v4.8h-4.8zM563.2 264.3h4.8v4.8h-4.8zM302.4 268.8h9.3v4.8h-9.3zM315.9 268.8h9.3v4.8h-9.3zM302.4 273.3h4.8v4.8h-4.8zM315.9 273.3h4.8v4.8h-4.8zM342.9 273.3h4.8v4.8h-4.8zM351.8 273.3h4.8v4.8h-4.8zM558.7 273.3h4.8v4.8h-4.8zM306.9 277.8h13.8v4.8h-13.8zM554.2 277.8h4.8v4.8h-4.8zM360.8 282.2h4.8v4.8h-4.8zM378.8 282.2h4.8v4.8h-4.8zM356.3 286.7h9.3v4.8h-9.3zM369.8 286.7h9.3v4.8h-9.3zM536.2 286.7h4.8v4.8h-4.8zM549.7 286.7h4.8v4.8h-4.8zM558.7 286.7h4.8v4.8h-4.8zM369.8 291.2h9.3v4.8h-9.3zM513.7 291.2h9.3v4.8h-9.3zM527.2 291.2h9.3v4.8h-9.3zM540.7 291.2h4.8v4.8h-4.8zM554.2 291.2h4.8v4.8h-4.8zM369.8 295.7h4.8v4.8h-4.8zM522.7 295.7h9.3v4.8h-9.3zM365.3 300.2h4.8v4.8h-4.8zM378.8 300.2h4.8v4.8h-4.8zM486.8 300.2h4.8v4.8h-4.8zM509.2 300.2h9.3v4.8h-9.3zM522.7 300.2h4.8v4.8h-4.8zM531.7 300.2h18.3v4.8h-18.3zM360.8 304.7h4.8v4.8h-4.8zM477.8 304.7h4.8v4.8h-4.8zM491.3 304.7h4.8v4.8h-4.8zM504.8 304.7h4.8v4.8h-4.8zM513.7 304.7h13.8v4.8h-13.8zM531.7 304.7h9.3v4.8h-9.3zM374.3 309.2h4.8v4.8h-4.8zM383.3 309.2h4.8v4.8h-4.8zM401.3 309.2h4.8v4.8h-4.8zM410.3 309.2h4.8v4.8h-4.8zM432.8 309.2h4.8v4.8h-4.8zM446.3 309.2h4.8v4.8h-4.8zM468.8 309.2h9.3v4.8h-9.3zM482.3 309.2h13.8v4.8h-13.8zM513.7 309.2h4.8v4.8h-4.8zM378.8 313.7h9.3v4.8h-9.3zM396.8 313.7h13.8v4.8h-13.8zM414.8 313.7h4.8v4.8h-4.8zM428.3 313.7h9.3v4.8h-9.3zM441.8 313.7h4.8v4.8h-4.8zM450.8 313.7h4.8v4.8h-4.8zM491.3 313.7h9.3v4.8h-9.3zM522.7 313.7h4.8v4.8h-4.8zM378.8 318.2h4.8v4.8h-4.8zM387.8 318.2h4.8v4.8h-4.8zM401.3 318.2h27.3v4.8h-27.3zM446.3 318.2h18.3v4.8h-18.3zM468.8 318.2h18.3v4.8h-18.3zM491.3 318.2h13.8v4.8h-13.8zM518.2 318.2h4.8v4.8h-4.8zM378.8 322.7h4.8v4.8h-4.8zM423.8 322.7h9.3v4.8h-9.3zM441.8 322.7h4.8v4.8h-4.8zM450.8 322.7h4.8v4.8h-4.8zM464.3 322.7h4.8v4.8h-4.8zM482.3 322.7h9.3v4.8h-9.3zM495.8 322.7h4.8v4.8h-4.8zM509.2 322.7h4.8v4.8h-4.8zM558.7 322.7h4.8v4.8h-4.8zM378.8 327.2h4.8v4.8h-4.8zM410.3 327.2h18.3v4.8h-18.3zM459.8 327.2h13.8v4.8h-13.8zM491.3 327.2h9.3v4.8h-9.3zM378.8 331.7h9.3v4.8h-9.3zM419.3 331.7h13.8v4.8h-13.8zM459.8 331.7h4.8v4.8h-4.8zM378.8 336.2h4.8v4.8h-4.8zM405.8 336.2h4.8v4.8h-4.8zM423.8 336.2h9.3v4.8h-9.3zM378.8 340.7h9.3v4.8h-9.3zM396.8 340.7h9.3v4.8h-9.3zM410.3 340.7h9.3v4.8h-9.3zM428.3 340.7h4.8v4.8h-4.8zM378.8 345.2h4.8v4.8h-4.8zM392.3 345.2h4.8v4.8h-4.8zM410.3 345.2h4.8v4.8h-4.8zM374.3 349.7h9.3v4.8h-9.3zM396.8 349.7h4.8v4.8h-4.8zM410.3 349.7h4.8v4.8h-4.8zM419.3 349.7h4.8v4.8h-4.8zM428.3 349.7h4.8v4.8h-4.8zM383.3 354.2h4.8v4.8h-4.8zM410.3 354.2h4.8v4.8h-4.8zM419.3 354.2h4.8v4.8h-4.8zM383.3 358.6h4.8v4.8h-4.8zM423.8 358.6h4.8v4.8h-4.8zM374.3 363.1h9.3v4.8h-9.3zM423.8 363.1h4.8v4.8h-4.8zM374.3 367.6h4.8v4.8h-4.8zM437.3 367.6h9.3v4.8h-9.3zM369.8 372.1h4.8v4.8h-4.8zM383.3 372.1h4.8v4.8h-4.8zM428.3 372.1h4.8v4.8h-4.8zM369.8 376.6h4.8v4.8h-4.8zM432.8 376.6h13.8v4.8h-13.8zM450.8 376.6h4.8v4.8h-4.8zM437.3 381.1h4.8v4.8h-4.8zM473.3 381.1h4.8v4.8h-4.8zM365.3 385.6h18.3v4.8h-18.3zM392.3 385.6h4.8v4.8h-4.8zM428.3 385.6h4.8v4.8h-4.8zM356.3 390.1h13.8v4.8h-13.8zM374.3 390.1h9.3v4.8h-9.3zM396.8 390.1h4.8v4.8h-4.8zM446.3 390.1h4.8v4.8h-4.8z" fill="#de2030"/>
<path d="M360.8 89h4.8v4.8h-4.8zM374.3 89h13.8v4.8h-13.8zM378.8 93.5h4.8v4.8h-4.8zM567.7 93.5h4.8v4.8h-4.8zM576.7 93.5h4.8v4.8h-4.8zM374.3 98h4.8v4.8h-4.8zM387.8 102.5h4.8v4.8h-4.8zM576.7 102.5h4.8v4.8h-4.8zM387.8 111.5h9.3v4.8h-9.3zM396.8 116h4.8v4.8h-4.8zM405.8 120.5h4.8v4.8h-4.8zM396.8 125h9.3v4.8h-9.3zM405.8 129.4h4.8v4.8h-4.8zM401.3 142.9h9.3v4.8h-9.3zM392.3 147.4h4.8v4.8h-4.8zM396.8 156.4h4.8v4.8h-4.8zM401.3 160.9h4.8v4.8h-4.8zM572.2 165.4h4.8v4.8h-4.8zM405.8 169.9h4.8v4.8h-4.8zM405.8 174.4h4.8v4.8h-4.8zM414.8 178.9h4.8v4.8h-4.8zM414.8 183.4h4.8v4.8h-4.8zM576.7 183.4h4.8v4.8h-4.8zM567.7 187.9h4.8v4.8h-4.8zM410.3 192.4h4.8v4.8h-4.8zM419.3 192.4h4.8v4.8h-4.8zM576.7 192.4h4.8v4.8h-4.8zM419.3 196.9h9.3v4.8h-9.3zM563.2 196.9h4.8v4.8h-4.8zM576.7 196.9h4.8v4.8h-4.8zM437.3 201.4h4.8v4.8h-4.8zM567.7 201.4h4.8v4.8h-4.8zM432.8 205.8h4.8v4.8h-4.8zM441.8 205.8h4.8v4.8h-4.8zM468.8 205.8h4.8v4.8h-4.8zM518.2 205.8h4.8v4.8h-4.8zM567.7 205.8h4.8v4.8h-4.8zM288.9 210.3h4.8v4.8h-4.8zM315.9 210.3h4.8v4.8h-4.8zM437.3 210.3h4.8v4.8h-4.8zM455.3 210.3h9.3v4.8h-9.3zM522.7 210.3h4.8v4.8h-4.8zM554.2 210.3h4.8v4.8h-4.8zM563.2 210.3h4.8v4.8h-4.8zM572.2 210.3h4.8v4.8h-4.8zM293.4 214.8h4.8v4.8h-4.8zM302.4 214.8h4.8v4.8h-4.8zM446.3 214.8h9.3v4.8h-9.3zM477.8 214.8h9.3v4.8h-9.3zM504.8 214.8h4.8v4.8h-4.8zM518.2 214.8h4.8v4.8h-4.8zM531.7 214.8h13.8v4.8h-13.8zM554.2 214.8h4.8v4.8h-4.8zM567.7 214.8h4.8v4.8h-4.8zM275.4 219.3h13.8v4.8h-13.8zM302.4 219.3h9.3v4.8h-9.3zM495.8 219.3h4.8v4.8h-4.8zM513.7 219.3h4.8v4.8h-4.8zM522.7 219.3h4.8v4.8h-4.8zM536.2 219.3h9.3v4.8h-9.3zM554.2 219.3h4.8v4.8h-4.8zM572.2 219.3h4.8v4.8h-4.8zM275.4 223.8h4.8v4.8h-4.8zM284.4 223.8h9.3v4.8h-9.3zM297.9 223.8h9.3v4.8h-9.3zM311.4 223.8h4.8v4.8h-4.8zM320.4 223.8h4.8v4.8h-4.8zM329.4 223.8h4.8v4.8h-4.8zM338.4 223.8h4.8v4.8h-4.8zM536.2 223.8h4.8v4.8h-4.8zM554.2 223.8h27.3v4.8h-27.3zM279.9 228.3h4.8v4.8h-4.8zM302.4 228.3h9.3v4.8h-9.3zM320.4 228.3h4.8v4.8h-4.8zM297.9 232.8h13.8v4.8h-13.8zM315.9 232.8h9.3v4.8h-9.3zM356.3 232.8h4.8v4.8h-4.8zM563.2 232.8h4.8v4.8h-4.8zM576.7 232.8h4.8v4.8h-4.8zM284.4 237.3h4.8v4.8h-4.8zM306.9 237.3h4.8v4.8h-4.8zM315.9 237.3h4.8v4.8h-4.8zM324.9 237.3h9.3v4.8h-9.3zM338.4 237.3h9.3v4.8h-9.3zM563.2 237.3h4.8v4.8h-4.8zM576.7 237.3h4.8v4.8h-4.8zM306.9 241.8h4.8v4.8h-4.8zM324.9 241.8h13.8v4.8h-13.8zM342.9 241.8h4.8v4.8h-4.8zM572.2 241.8h9.3v4.8h-9.3zM311.4 246.3h4.8v4.8h-4.8zM329.4 246.3h13.8v4.8h-13.8zM347.4 246.3h4.8v4.8h-4.8zM563.2 246.3h4.8v4.8h-4.8zM572.2 246.3h9.3v4.8h-9.3zM315.9 250.8h9.3v4.8h-9.3zM333.9 250.8h9.3v4.8h-9.3zM347.4 250.8h4.8v4.8h-4.8zM302.4 255.3h9.3v4.8h-9.3zM320.4 255.3h4.8v4.8h-4.8zM329.4 255.3h9.3v4.8h-9.3zM351.8 255.3h4.8v4.8h-4.8zM342.9 259.8h4.8v4.8h-4.8zM563.2 259.8h4.8v4.8h-4.8zM572.2 259.8h4.8v4.8h-4.8zM563.2 268.8h4.8v4.8h-4.8zM311.4 273.3h4.8v4.8h-4.8zM347.4 277.8h4.8v4.8h-4.8zM558.7 277.8h9.3v4.8h-9.3zM558.7 282.2h4.8v4.8h-4.8zM365.3 291.2h4.8v4.8h-4.8zM549.7 291.2h4.8v4.8h-4.8zM558.7 291.2h4.8v4.8h-4.8zM509.2 295.7h4.8v4.8h-4.8zM540.7 295.7h18.3v4.8h-18.3zM518.2 300.2h4.8v4.8h-4.8zM437.3 304.7h4.8v4.8h-4.8zM486.8 304.7h4.8v4.8h-4.8zM500.3 304.7h4.8v4.8h-4.8zM509.2 304.7h4.8v4.8h-4.8zM540.7 304.7h9.3v4.8h-9.3zM437.3 309.2h9.3v4.8h-9.3zM495.8 309.2h4.8v4.8h-4.8zM504.8 309.2h4.8v4.8h-4.8zM522.7 309.2h4.8v4.8h-4.8zM536.2 309.2h9.3v4.8h-9.3zM392.3 313.7h4.8v4.8h-4.8zM437.3 313.7h4.8v4.8h-4.8zM468.8 313.7h4.8v4.8h-4.8zM482.3 313.7h9.3v4.8h-9.3zM500.3 313.7h4.8v4.8h-4.8zM509.2 313.7h4.8v4.8h-4.8zM527.2 313.7h9.3v4.8h-9.3zM392.3 318.2h9.3v4.8h-9.3zM428.3 318.2h4.8v4.8h-4.8zM437.3 318.2h9.3v4.8h-9.3zM464.3 318.2h4.8v4.8h-4.8zM509.2 318.2h9.3v4.8h-9.3zM522.7 318.2h4.8v4.8h-4.8zM374.3 322.7h4.8v4.8h-4.8zM392.3 322.7h13.8v4.8h-13.8zM414.8 322.7h4.8v4.8h-4.8zM446.3 322.7h4.8v4.8h-4.8zM468.8 322.7h4.8v4.8h-4.8zM477.8 322.7h4.8v4.8h-4.8zM504.8 322.7h4.8v4.8h-4.8zM522.7 322.7h4.8v4.8h-4.8zM374.3 327.2h4.8v4.8h-4.8zM383.3 327.2h4.8v4.8h-4.8zM392.3 327.2h4.8v4.8h-4.8zM401.3 327.2h4.8v4.8h-4.8zM432.8 327.2h13.8v4.8h-13.8zM450.8 327.2h4.8v4.8h-4.8zM473.3 327.2h18.3v4.8h-18.3zM387.8 331.7h31.8v4.8h-31.8zM441.8 331.7h4.8v4.8h-4.8zM455.3 331.7h4.8v4.8h-4.8zM473.3 331.7h9.3v4.8h-9.3zM486.8 331.7h4.8v4.8h-4.8zM383.3 336.2h9.3v4.8h-9.3zM414.8 336.2h4.8v4.8h-4.8zM441.8 336.2h4.8v4.8h-4.8zM455.3 336.2h9.3v4.8h-9.3zM468.8 336.2h4.8v4.8h-4.8zM374.3 340.7h4.8v4.8h-4.8zM387.8 340.7h4.8v4.8h-4.8zM437.3 340.7h9.3v4.8h-9.3zM455.3 340.7h4.8v4.8h-4.8zM464.3 340.7h9.3v4.8h-9.3zM482.3 340.7h4.8v4.8h-4.8zM383.3 345.2h9.3v4.8h-9.3zM428.3 345.2h4.8v4.8h-4.8zM437.3 345.2h4.8v4.8h-4.8zM450.8 345.2h4.8v4.8h-4.8zM459.8 345.2h4.8v4.8h-4.8zM383.3 349.7h4.8v4.8h-4.8zM423.8 349.7h4.8v4.8h-4.8zM432.8 349.7h13.8v4.8h-13.8zM396.8 354.2h4.8v4.8h-4.8zM414.8 354.2h4.8v4.8h-4.8zM423.8 354.2h4.8v4.8h-4.8zM432.8 354.2h4.8v4.8h-4.8zM468.8 354.2h4.8v4.8h-4.8zM378.8 358.6h4.8v4.8h-4.8zM392.3 358.6h4.8v4.8h-4.8zM414.8 358.6h4.8v4.8h-4.8zM441.8 358.6h4.8v4.8h-4.8zM383.3 363.1h13.8v4.8h-13.8zM405.8 363.1h4.8v4.8h-4.8zM432.8 363.1h9.3v4.8h-9.3zM473.3 363.1h4.8v4.8h-4.8zM383.3 367.6h4.8v4.8h-4.8zM401.3 367.6h4.8v4.8h-4.8zM414.8 367.6h4.8v4.8h-4.8zM423.8 367.6h13.8v4.8h-13.8zM446.3 367.6h4.8v4.8h-4.8zM374.3 372.1h4.8v4.8h-4.8zM392.3 372.1h4.8v4.8h-4.8zM441.8 372.1h9.3v4.8h-9.3zM428.3 376.6h4.8v4.8h-4.8zM446.3 376.6h4.8v4.8h-4.8zM459.8 376.6h9.3v4.8h-9.3zM374.3 381.1h9.3v4.8h-9.3zM396.8 381.1h4.8v4.8h-4.8zM405.8 381.1h4.8v4.8h-4.8zM432.8 381.1h4.8v4.8h-4.8zM455.3 381.1h4.8v4.8h-4.8zM464.3 381.1h4.8v4.8h-4.8zM383.3 385.6h9.3v4.8h-9.3zM405.8 385.6h9.3v4.8h-9.3zM423.8 385.6h4.8v4.8h-4.8zM446.3 385.6h9.3v4.8h-9.3zM459.8 385.6h13.8v4.8h-13.8zM387.8 390.1h4.8v4.8h-4.8zM410.3 390.1h4.8v4.8h-4.8zM450.8 390.1h13.8v4.8h-13.8zM468.8 390.1h4.8v4.8h-4.8zM477.8 390.1h4.8v4.8h-4.8z" fill="#e6212a"/>
<path d="M387.8 89h4.8v4.8h-4.8zM567.7 89h13.8v4.8h-13.8zM387.8 93.5h13.8v4.8h-13.8zM387.8 98h9.3v4.8h-9.3zM392.3 102.5h9.3v4.8h-9.3zM572.2 102.5h4.8v4.8h-4.8zM392.3 107h4.8v4.8h-4.8zM576.7 107h4.8v4.8h-4.8zM396.8 111.5h4.8v4.8h-4.8zM576.7 111.5h4.8v4.8h-4.8zM396.8 120.5h4.8v4.8h-4.8zM401.3 129.4h4.8v4.8h-4.8zM410.3 129.4h4.8v4.8h-4.8zM405.8 133.9h4.8v4.8h-4.8zM405.8 138.4h4.8v4.8h-4.8zM563.2 142.9h4.8v4.8h-4.8zM576.7 142.9h4.8v4.8h-4.8zM401.3 147.4h4.8v4.8h-4.8zM405.8 151.9h4.8v4.8h-4.8zM405.8 156.4h4.8v4.8h-4.8zM563.2 160.9h9.3v4.8h-9.3zM401.3 165.4h9.3v4.8h-9.3zM563.2 165.4h9.3v4.8h-9.3zM572.2 169.9h4.8v4.8h-4.8zM410.3 174.4h9.3v4.8h-9.3zM572.2 174.4h9.3v4.8h-9.3zM419.3 183.4h9.3v4.8h-9.3zM419.3 187.9h9.3v4.8h-9.3zM572.2 187.9h4.8v4.8h-4.8zM432.8 196.9h4.8v4.8h-4.8zM549.7 196.9h13.8v4.8h-13.8zM567.7 196.9h9.3v4.8h-9.3zM432.8 201.4h4.8v4.8h-4.8zM446.3 201.4h9.3v4.8h-9.3zM464.3 201.4h4.8v4.8h-4.8zM473.3 201.4h4.8v4.8h-4.8zM549.7 201.4h4.8v4.8h-4.8zM572.2 201.4h9.3v4.8h-9.3zM306.9 205.8h4.8v4.8h-4.8zM446.3 205.8h22.8v4.8h-22.8zM473.3 205.8h4.8v4.8h-4.8zM522.7 205.8h9.3v4.8h-9.3zM549.7 205.8h9.3v4.8h-9.3zM563.2 205.8h4.8v4.8h-4.8zM450.8 210.3h4.8v4.8h-4.8zM468.8 210.3h4.8v4.8h-4.8zM509.2 210.3h9.3v4.8h-9.3zM527.2 210.3h4.8v4.8h-4.8zM536.2 210.3h18.3v4.8h-18.3zM558.7 210.3h4.8v4.8h-4.8zM297.9 214.8h4.8v4.8h-4.8zM315.9 214.8h4.8v4.8h-4.8zM500.3 214.8h4.8v4.8h-4.8zM509.2 214.8h4.8v4.8h-4.8zM545.2 214.8h4.8v4.8h-4.8zM558.7 214.8h9.3v4.8h-9.3zM572.2 214.8h9.3v4.8h-9.3zM288.9 219.3h4.8v4.8h-4.8zM311.4 219.3h4.8v4.8h-4.8zM491.3 219.3h4.8v4.8h-4.8zM504.8 219.3h4.8v4.8h-4.8zM563.2 219.3h9.3v4.8h-9.3zM576.7 219.3h4.8v4.8h-4.8zM306.9 223.8h4.8v4.8h-4.8zM315.9 223.8h4.8v4.8h-4.8zM311.4 228.3h4.8v4.8h-4.8zM333.9 228.3h4.8v4.8h-4.8zM563.2 228.3h18.3v4.8h-18.3zM324.9 232.8h4.8v4.8h-4.8zM333.9 232.8h4.8v4.8h-4.8zM567.7 232.8h9.3v4.8h-9.3zM320.4 237.3h4.8v4.8h-4.8zM338.4 241.8h4.8v4.8h-4.8zM351.8 241.8h4.8v4.8h-4.8zM324.9 246.3h4.8v4.8h-4.8zM329.4 250.8h4.8v4.8h-4.8zM567.7 250.8h4.8v4.8h-4.8zM576.7 250.8h4.8v4.8h-4.8zM311.4 255.3h4.8v4.8h-4.8zM324.9 255.3h4.8v4.8h-4.8zM563.2 273.3h4.8v4.8h-4.8zM563.2 282.2h4.8v4.8h-4.8zM563.2 286.7h4.8v4.8h-4.8zM563.2 291.2h4.8v4.8h-4.8zM549.7 300.2h9.3v4.8h-9.3zM549.7 304.7h4.8v4.8h-4.8zM509.2 309.2h4.8v4.8h-4.8zM527.2 309.2h9.3v4.8h-9.3zM545.2 309.2h4.8v4.8h-4.8zM513.7 313.7h9.3v4.8h-9.3zM540.7 313.7h4.8v4.8h-4.8zM549.7 313.7h4.8v4.8h-4.8zM504.8 318.2h4.8v4.8h-4.8zM545.2 318.2h13.8v4.8h-13.8zM563.2 318.2h4.8v4.8h-4.8zM383.3 322.7h4.8v4.8h-4.8zM405.8 322.7h9.3v4.8h-9.3zM419.3 322.7h4.8v4.8h-4.8zM437.3 322.7h4.8v4.8h-4.8zM455.3 322.7h9.3v4.8h-9.3zM518.2 322.7h4.8v4.8h-4.8zM554.2 322.7h4.8v4.8h-4.8zM576.7 322.7h4.8v4.8h-4.8zM396.8 327.2h4.8v4.8h-4.8zM405.8 327.2h4.8v4.8h-4.8zM428.3 327.2h4.8v4.8h-4.8zM446.3 327.2h4.8v4.8h-4.8zM455.3 327.2h4.8v4.8h-4.8zM500.3 327.2h9.3v4.8h-9.3zM432.8 331.7h9.3v4.8h-9.3zM446.3 331.7h9.3v4.8h-9.3zM482.3 331.7h4.8v4.8h-4.8zM491.3 331.7h4.8v4.8h-4.8zM392.3 336.2h9.3v4.8h-9.3zM419.3 336.2h4.8v4.8h-4.8zM432.8 336.2h4.8v4.8h-4.8zM450.8 336.2h4.8v4.8h-4.8zM464.3 336.2h4.8v4.8h-4.8zM473.3 336.2h13.8v4.8h-13.8zM392.3 340.7h4.8v4.8h-4.8zM450.8 340.7h4.8v4.8h-4.8zM459.8 340.7h4.8v4.8h-4.8zM473.3 340.7h4.8v4.8h-4.8zM401.3 345.2h4.8v4.8h-4.8zM432.8 345.2h4.8v4.8h-4.8zM441.8 345.2h9.3v4.8h-9.3zM464.3 345.2h9.3v4.8h-9.3zM477.8 345.2h4.8v4.8h-4.8zM387.8 349.7h9.3v4.8h-9.3zM401.3 349.7h9.3v4.8h-9.3zM446.3 349.7h4.8v4.8h-4.8zM455.3 349.7h9.3v4.8h-9.3zM468.8 349.7h9.3v4.8h-9.3zM482.3 349.7h9.3v4.8h-9.3zM387.8 354.2h4.8v4.8h-4.8zM405.8 354.2h4.8v4.8h-4.8zM446.3 354.2h9.3v4.8h-9.3zM387.8 358.6h4.8v4.8h-4.8zM405.8 358.6h4.8v4.8h-4.8zM428.3 358.6h9.3v4.8h-9.3zM482.3 358.6h4.8v4.8h-4.8zM410.3 363.1h4.8v4.8h-4.8zM419.3 363.1h4.8v4.8h-4.8zM428.3 363.1h4.8v4.8h-4.8zM446.3 363.1h4.8v4.8h-4.8zM455.3 363.1h13.8v4.8h-13.8zM464.3 367.6h4.8v4.8h-4.8zM473.3 367.6h4.8v4.8h-4.8zM378.8 372.1h4.8v4.8h-4.8zM401.3 372.1h4.8v4.8h-4.8zM410.3 372.1h18.3v4.8h-18.3zM450.8 372.1h13.8v4.8h-13.8zM383.3 376.6h4.8v4.8h-4.8zM392.3 376.6h4.8v4.8h-4.8zM414.8 376.6h4.8v4.8h-4.8zM423.8 376.6h4.8v4.8h-4.8zM468.8 376.6h4.8v4.8h-4.8zM576.7 376.6h4.8v4.8h-4.8zM383.3 381.1h4.8v4.8h-4.8zM419.3 381.1h4.8v4.8h-4.8zM446.3 381.1h9.3v4.8h-9.3zM468.8 381.1h4.8v4.8h-4.8zM432.8 385.6h4.8v4.8h-4.8zM441.8 385.6h4.8v4.8h-4.8zM455.3 385.6h4.8v4.8h-4.8zM477.8 385.6h4.8v4.8h-4.8zM401.3 390.1h4.8v4.8h-4.8zM414.8 390.1h4.8v4.8h-4.8zM428.3 390.1h18.3v4.8h-18.3zM464.3 390.1h4.8v4.8h-4.8zM567.7 390.1h4.8v4.8h-4.8z" fill="#eb2227"/>
<path d="M392.3 89h4.8v4.8h-4.8zM558.7 89h9.3v4.8h-9.3zM401.3 93.5h4.8v4.8h-4.8zM563.2 93.5h4.8v4.8h-4.8zM572.2 93.5h4.8v4.8h-4.8zM396.8 98h4.8v4.8h-4.8zM567.7 98h9.3v4.8h-9.3zM396.8 107h4.8v4.8h-4.8zM572.2 107h4.8v4.8h-4.8zM572.2 111.5h4.8v4.8h-4.8zM401.3 116h9.3v4.8h-9.3zM576.7 116h4.8v4.8h-4.8zM576.7 120.5h4.8v4.8h-4.8zM405.8 125h9.3v4.8h-9.3zM576.7 125h4.8v4.8h-4.8zM414.8 129.4h4.8v4.8h-4.8zM576.7 133.9h4.8v4.8h-4.8zM576.7 138.4h4.8v4.8h-4.8zM414.8 142.9h4.8v4.8h-4.8zM567.7 142.9h9.3v4.8h-9.3zM405.8 147.4h9.3v4.8h-9.3zM558.7 147.4h18.3v4.8h-18.3zM410.3 151.9h13.8v4.8h-13.8zM572.2 151.9h4.8v4.8h-4.8zM401.3 156.4h4.8v4.8h-4.8zM563.2 156.4h13.8v4.8h-13.8zM410.3 160.9h4.8v4.8h-4.8zM576.7 160.9h4.8v4.8h-4.8zM414.8 165.4h4.8v4.8h-4.8zM419.3 169.9h9.3v4.8h-9.3zM558.7 169.9h4.8v4.8h-4.8zM576.7 169.9h4.8v4.8h-4.8zM554.2 174.4h4.8v4.8h-4.8zM419.3 178.9h4.8v4.8h-4.8zM567.7 178.9h4.8v4.8h-4.8zM567.7 183.4h4.8v4.8h-4.8zM428.3 187.9h4.8v4.8h-4.8zM558.7 187.9h4.8v4.8h-4.8zM576.7 187.9h4.8v4.8h-4.8zM428.3 192.4h13.8v4.8h-13.8zM455.3 192.4h4.8v4.8h-4.8zM554.2 192.4h4.8v4.8h-4.8zM567.7 192.4h9.3v4.8h-9.3zM428.3 196.9h4.8v4.8h-4.8zM437.3 196.9h4.8v4.8h-4.8zM446.3 196.9h4.8v4.8h-4.8zM455.3 196.9h9.3v4.8h-9.3zM468.8 196.9h4.8v4.8h-4.8zM477.8 196.9h4.8v4.8h-4.8zM477.8 201.4h4.8v4.8h-4.8zM509.2 201.4h4.8v4.8h-4.8zM563.2 201.4h4.8v4.8h-4.8zM477.8 205.8h4.8v4.8h-4.8zM500.3 205.8h4.8v4.8h-4.8zM536.2 205.8h9.3v4.8h-9.3zM306.9 210.3h4.8v4.8h-4.8zM477.8 210.3h9.3v4.8h-9.3zM491.3 210.3h18.3v4.8h-18.3zM518.2 210.3h4.8v4.8h-4.8zM531.7 210.3h4.8v4.8h-4.8zM567.7 210.3h4.8v4.8h-4.8zM576.7 210.3h4.8v4.8h-4.8zM306.9 214.8h9.3v4.8h-9.3zM486.8 214.8h4.8v4.8h-4.8zM495.8 214.8h4.8v4.8h-4.8zM567.7 259.8h4.8v4.8h-4.8zM576.7 259.8h4.8v4.8h-4.8zM567.7 264.3h9.3v4.8h-9.3zM567.7 268.8h9.3v4.8h-9.3zM567.7 273.3h4.8v4.8h-4.8zM558.7 295.7h4.8v4.8h-4.8zM554.2 304.7h4.8v4.8h-4.8zM549.7 309.2h4.8v4.8h-4.8zM567.7 309.2h4.8v4.8h-4.8zM504.8 313.7h4.8v4.8h-4.8zM536.2 313.7h4.8v4.8h-4.8zM554.2 313.7h9.3v4.8h-9.3zM527.2 318.2h18.3v4.8h-18.3zM558.7 318.2h4.8v4.8h-4.8zM572.2 318.2h9.3v4.8h-9.3zM432.8 322.7h4.8v4.8h-4.8zM513.7 322.7h4.8v4.8h-4.8zM536.2 322.7h4.8v4.8h-4.8zM549.7 322.7h4.8v4.8h-4.8zM563.2 322.7h4.8v4.8h-4.8zM572.2 322.7h4.8v4.8h-4.8zM387.8 327.2h4.8v4.8h-4.8zM509.2 327.2h9.3v4.8h-9.3zM531.7 327.2h4.8v4.8h-4.8zM563.2 327.2h4.8v4.8h-4.8zM464.3 331.7h4.8v4.8h-4.8zM495.8 331.7h13.8v4.8h-13.8zM491.3 336.2h4.8v4.8h-4.8zM500.3 336.2h4.8v4.8h-4.8zM446.3 340.7h4.8v4.8h-4.8zM477.8 340.7h4.8v4.8h-4.8zM486.8 340.7h4.8v4.8h-4.8zM396.8 345.2h4.8v4.8h-4.8zM455.3 345.2h4.8v4.8h-4.8zM473.3 345.2h4.8v4.8h-4.8zM482.3 345.2h9.3v4.8h-9.3zM450.8 349.7h4.8v4.8h-4.8zM477.8 349.7h4.8v4.8h-4.8zM491.3 349.7h9.3v4.8h-9.3zM401.3 354.2h4.8v4.8h-4.8zM428.3 354.2h4.8v4.8h-4.8zM437.3 354.2h9.3v4.8h-9.3zM464.3 354.2h4.8v4.8h-4.8zM473.3 354.2h9.3v4.8h-9.3zM437.3 358.6h4.8v4.8h-4.8zM446.3 358.6h4.8v4.8h-4.8zM455.3 358.6h4.8v4.8h-4.8zM464.3 358.6h13.8v4.8h-13.8zM396.8 363.1h4.8v4.8h-4.8zM414.8 363.1h4.8v4.8h-4.8zM450.8 363.1h4.8v4.8h-4.8zM468.8 363.1h4.8v4.8h-4.8zM482.3 363.1h9.3v4.8h-9.3zM392.3 367.6h9.3v4.8h-9.3zM405.8 367.6h4.8v4.8h-4.8zM450.8 367.6h9.3v4.8h-9.3zM468.8 367.6h4.8v4.8h-4.8zM477.8 367.6h4.8v4.8h-4.8zM387.8 372.1h4.8v4.8h-4.8zM396.8 372.1h4.8v4.8h-4.8zM405.8 372.1h4.8v4.8h-4.8zM473.3 372.1h9.3v4.8h-9.3zM486.8 372.1h4.8v4.8h-4.8zM563.2 372.1h4.8v4.8h-4.8zM378.8 376.6h4.8v4.8h-4.8zM387.8 376.6h4.8v4.8h-4.8zM401.3 376.6h13.8v4.8h-13.8zM482.3 376.6h4.8v4.8h-4.8zM495.8 376.6h4.8v4.8h-4.8zM572.2 376.6h4.8v4.8h-4.8zM387.8 381.1h4.8v4.8h-4.8zM401.3 381.1h4.8v4.8h-4.8zM410.3 381.1h9.3v4.8h-9.3zM423.8 381.1h9.3v4.8h-9.3zM459.8 381.1h4.8v4.8h-4.8zM563.2 381.1h4.8v4.8h-4.8zM396.8 385.6h4.8v4.8h-4.8zM414.8 385.6h9.3v4.8h-9.3zM473.3 385.6h4.8v4.8h-4.8zM482.3 385.6h9.3v4.8h-9.3zM563.2 385.6h4.8v4.8h-4.8zM576.7 385.6h4.8v4.8h-4.8zM392.3 390.1h4.8v4.8h-4.8zM405.8 390.1h4.8v4.8h-4.8zM423.8 390.1h4.8v4.8h-4.8zM558.7 390.1h4.8v4.8h-4.8zM572.2 390.1h4.8v4.8h-4.8z" fill="#ee3025"/>
<path d="M396.8 89h13.8v4.8h-13.8zM554.2 89h4.8v4.8h-4.8zM405.8 93.5h4.8v4.8h-4.8zM558.7 93.5h4.8v4.8h-4.8zM410.3 98h4.8v4.8h-4.8zM558.7 98h9.3v4.8h-9.3zM576.7 98h4.8v4.8h-4.8zM401.3 102.5h4.8v4.8h-4.8zM410.3 102.5h4.8v4.8h-4.8zM558.7 102.5h13.8v4.8h-13.8zM401.3 107h4.8v4.8h-4.8zM549.7 107h4.8v4.8h-4.8zM401.3 111.5h9.3v4.8h-9.3zM563.2 111.5h4.8v4.8h-4.8zM410.3 116h4.8v4.8h-4.8zM572.2 116h4.8v4.8h-4.8zM401.3 120.5h4.8v4.8h-4.8zM410.3 120.5h4.8v4.8h-4.8zM567.7 120.5h4.8v4.8h-4.8zM563.2 125h4.8v4.8h-4.8zM576.7 129.4h4.8v4.8h-4.8zM410.3 133.9h9.3v4.8h-9.3zM563.2 133.9h13.8v4.8h-13.8zM410.3 138.4h13.8v4.8h-13.8zM567.7 138.4h9.3v4.8h-9.3zM419.3 142.9h4.8v4.8h-4.8zM414.8 147.4h4.8v4.8h-4.8zM554.2 151.9h13.8v4.8h-13.8zM576.7 156.4h4.8v4.8h-4.8zM419.3 160.9h4.8v4.8h-4.8zM558.7 160.9h4.8v4.8h-4.8zM572.2 160.9h4.8v4.8h-4.8zM410.3 165.4h4.8v4.8h-4.8zM549.7 165.4h4.8v4.8h-4.8zM558.7 165.4h4.8v4.8h-4.8zM576.7 165.4h4.8v4.8h-4.8zM414.8 169.9h4.8v4.8h-4.8zM549.7 169.9h9.3v4.8h-9.3zM563.2 169.9h9.3v4.8h-9.3zM419.3 174.4h9.3v4.8h-9.3zM545.2 174.4h4.8v4.8h-4.8zM567.7 174.4h4.8v4.8h-4.8zM423.8 178.9h9.3v4.8h-9.3zM540.7 178.9h13.8v4.8h-13.8zM572.2 178.9h9.3v4.8h-9.3zM428.3 183.4h4.8v4.8h-4.8zM545.2 183.4h18.3v4.8h-18.3zM572.2 183.4h4.8v4.8h-4.8zM432.8 187.9h4.8v4.8h-4.8zM536.2 187.9h9.3v4.8h-9.3zM554.2 187.9h4.8v4.8h-4.8zM441.8 192.4h13.8v4.8h-13.8zM473.3 192.4h4.8v4.8h-4.8zM545.2 192.4h4.8v4.8h-4.8zM558.7 192.4h9.3v4.8h-9.3zM441.8 196.9h4.8v4.8h-4.8zM473.3 196.9h4.8v4.8h-4.8zM486.8 196.9h4.8v4.8h-4.8zM495.8 196.9h4.8v4.8h-4.8zM527.2 196.9h4.8v4.8h-4.8zM536.2 196.9h13.8v4.8h-13.8zM441.8 201.4h4.8v4.8h-4.8zM455.3 201.4h9.3v4.8h-9.3zM468.8 201.4h4.8v4.8h-4.8zM486.8 201.4h9.3v4.8h-9.3zM504.8 201.4h4.8v4.8h-4.8zM513.7 201.4h4.8v4.8h-4.8zM531.7 201.4h18.3v4.8h-18.3zM554.2 201.4h4.8v4.8h-4.8zM491.3 205.8h9.3v4.8h-9.3zM504.8 205.8h4.8v4.8h-4.8zM513.7 205.8h4.8v4.8h-4.8zM531.7 205.8h4.8v4.8h-4.8zM545.2 205.8h4.8v4.8h-4.8zM558.7 205.8h4.8v4.8h-4.8zM491.3 214.8h4.8v4.8h-4.8zM576.7 264.3h4.8v4.8h-4.8zM576.7 268.8h4.8v4.8h-4.8zM567.7 277.8h4.8v4.8h-4.8zM567.7 300.2h4.8v4.8h-4.8zM558.7 309.2h9.3v4.8h-9.3zM545.2 313.7h4.8v4.8h-4.8zM563.2 313.7h4.8v4.8h-4.8zM567.7 318.2h4.8v4.8h-4.8zM531.7 322.7h4.8v4.8h-4.8zM545.2 322.7h4.8v4.8h-4.8zM567.7 322.7h4.8v4.8h-4.8zM522.7 327.2h9.3v4.8h-9.3zM536.2 327.2h9.3v4.8h-9.3zM549.7 327.2h4.8v4.8h-4.8zM509.2 331.7h9.3v4.8h-9.3zM522.7 331.7h4.8v4.8h-4.8zM536.2 331.7h4.8v4.8h-4.8zM554.2 331.7h4.8v4.8h-4.8zM567.7 331.7h13.8v4.8h-13.8zM495.8 336.2h4.8v4.8h-4.8zM545.2 336.2h4.8v4.8h-4.8zM500.3 340.7h18.3v4.8h-18.3zM572.2 340.7h4.8v4.8h-4.8zM491.3 345.2h9.3v4.8h-9.3zM464.3 349.7h4.8v4.8h-4.8zM392.3 354.2h4.8v4.8h-4.8zM459.8 354.2h4.8v4.8h-4.8zM396.8 358.6h9.3v4.8h-9.3zM410.3 358.6h4.8v4.8h-4.8zM450.8 358.6h4.8v4.8h-4.8zM459.8 358.6h4.8v4.8h-4.8zM486.8 358.6h4.8v4.8h-4.8zM495.8 358.6h4.8v4.8h-4.8zM513.7 358.6h4.8v4.8h-4.8zM576.7 358.6h4.8v4.8h-4.8zM401.3 363.1h4.8v4.8h-4.8zM441.8 363.1h4.8v4.8h-4.8zM477.8 363.1h4.8v4.8h-4.8zM491.3 363.1h4.8v4.8h-4.8zM387.8 367.6h4.8v4.8h-4.8zM410.3 367.6h4.8v4.8h-4.8zM459.8 367.6h4.8v4.8h-4.8zM482.3 367.6h18.3v4.8h-18.3zM464.3 372.1h9.3v4.8h-9.3zM491.3 372.1h4.8v4.8h-4.8zM531.7 372.1h4.8v4.8h-4.8zM558.7 372.1h4.8v4.8h-4.8zM572.2 372.1h9.3v4.8h-9.3zM396.8 376.6h4.8v4.8h-4.8zM419.3 376.6h4.8v4.8h-4.8zM455.3 376.6h4.8v4.8h-4.8zM473.3 376.6h9.3v4.8h-9.3zM513.7 376.6h9.3v4.8h-9.3zM563.2 376.6h4.8v4.8h-4.8zM392.3 381.1h4.8v4.8h-4.8zM477.8 381.1h4.8v4.8h-4.8zM486.8 381.1h18.3v4.8h-18.3zM522.7 381.1h4.8v4.8h-4.8zM567.7 381.1h13.8v4.8h-13.8zM401.3 385.6h4.8v4.8h-4.8zM491.3 385.6h9.3v4.8h-9.3zM549.7 385.6h9.3v4.8h-9.3zM567.7 385.6h9.3v4.8h-9.3zM419.3 390.1h4.8v4.8h-4.8zM473.3 390.1h4.8v4.8h-4.8zM482.3 390.1h4.8v4.8h-4.8zM495.8 390.1h13.8v4.8h-13.8zM545.2 390.1h4.8v4.8h-4.8zM554.2 390.1h4.8v4.8h-4.8zM563.2 390.1h4.8v4.8h-4.8zM576.7 390.1h4.8v4.8h-4.8z" fill="#ef4c22"/>
<path d="M410.3 89h4.8v4.8h-4.8zM549.7 89h4.8v4.8h-4.8zM410.3 93.5h4.8v4.8h-4.8zM401.3 98h9.3v4.8h-9.3zM554.2 98h4.8v4.8h-4.8zM405.8 102.5h4.8v4.8h-4.8zM554.2 102.5h4.8v4.8h-4.8zM405.8 107h13.8v4.8h-13.8zM423.8 107h4.8v4.8h-4.8zM558.7 107h13.8v4.8h-13.8zM410.3 111.5h9.3v4.8h-9.3zM423.8 111.5h4.8v4.8h-4.8zM558.7 111.5h4.8v4.8h-4.8zM567.7 111.5h4.8v4.8h-4.8zM558.7 116h13.8v4.8h-13.8zM414.8 120.5h13.8v4.8h-13.8zM572.2 120.5h4.8v4.8h-4.8zM414.8 125h4.8v4.8h-4.8zM567.7 125h9.3v4.8h-9.3zM567.7 129.4h9.3v4.8h-9.3zM423.8 133.9h4.8v4.8h-4.8zM549.7 133.9h4.8v4.8h-4.8zM558.7 133.9h4.8v4.8h-4.8zM423.8 138.4h4.8v4.8h-4.8zM549.7 138.4h18.3v4.8h-18.3zM428.3 142.9h4.8v4.8h-4.8zM545.2 142.9h4.8v4.8h-4.8zM554.2 142.9h9.3v4.8h-9.3zM423.8 147.4h4.8v4.8h-4.8zM549.7 147.4h4.8v4.8h-4.8zM576.7 147.4h4.8v4.8h-4.8zM549.7 151.9h4.8v4.8h-4.8zM567.7 151.9h4.8v4.8h-4.8zM576.7 151.9h4.8v4.8h-4.8zM410.3 156.4h4.8v4.8h-4.8zM419.3 156.4h4.8v4.8h-4.8zM513.7 156.4h4.8v4.8h-4.8zM554.2 156.4h9.3v4.8h-9.3zM405.8 160.9h4.8v4.8h-4.8zM414.8 160.9h4.8v4.8h-4.8zM423.8 165.4h4.8v4.8h-4.8zM554.2 165.4h4.8v4.8h-4.8zM410.3 169.9h4.8v4.8h-4.8zM428.3 169.9h4.8v4.8h-4.8zM513.7 169.9h4.8v4.8h-4.8zM531.7 169.9h4.8v4.8h-4.8zM513.7 174.4h4.8v4.8h-4.8zM549.7 174.4h4.8v4.8h-4.8zM558.7 174.4h9.3v4.8h-9.3zM495.8 178.9h4.8v4.8h-4.8zM522.7 178.9h9.3v4.8h-9.3zM554.2 178.9h13.8v4.8h-13.8zM432.8 183.4h4.8v4.8h-4.8zM441.8 183.4h4.8v4.8h-4.8zM486.8 183.4h4.8v4.8h-4.8zM500.3 183.4h4.8v4.8h-4.8zM518.2 183.4h9.3v4.8h-9.3zM531.7 183.4h13.8v4.8h-13.8zM563.2 183.4h4.8v4.8h-4.8zM437.3 187.9h4.8v4.8h-4.8zM473.3 187.9h9.3v4.8h-9.3zM486.8 187.9h4.8v4.8h-4.8zM495.8 187.9h4.8v4.8h-4.8zM509.2 187.9h4.8v4.8h-4.8zM545.2 187.9h9.3v4.8h-9.3zM563.2 187.9h4.8v4.8h-4.8zM459.8 192.4h13.8v4.8h-13.8zM477.8 192.4h4.8v4.8h-4.8zM486.8 192.4h9.3v4.8h-9.3zM513.7 192.4h4.8v4.8h-4.8zM531.7 192.4h13.8v4.8h-13.8zM549.7 192.4h4.8v4.8h-4.8zM450.8 196.9h4.8v4.8h-4.8zM464.3 196.9h4.8v4.8h-4.8zM482.3 196.9h4.8v4.8h-4.8zM504.8 196.9h13.8v4.8h-13.8zM522.7 196.9h4.8v4.8h-4.8zM482.3 201.4h4.8v4.8h-4.8zM495.8 201.4h9.3v4.8h-9.3zM518.2 201.4h9.3v4.8h-9.3zM482.3 205.8h9.3v4.8h-9.3zM509.2 205.8h4.8v4.8h-4.8zM486.8 210.3h4.8v4.8h-4.8zM572.2 273.3h9.3v4.8h-9.3zM572.2 277.8h4.8v4.8h-4.8zM567.7 282.2h9.3v4.8h-9.3zM567.7 286.7h4.8v4.8h-4.8zM567.7 291.2h4.8v4.8h-4.8zM563.2 295.7h9.3v4.8h-9.3zM558.7 300.2h9.3v4.8h-9.3zM554.2 309.2h4.8v4.8h-4.8zM572.2 313.7h4.8v4.8h-4.8zM527.2 322.7h4.8v4.8h-4.8zM540.7 322.7h4.8v4.8h-4.8zM518.2 327.2h4.8v4.8h-4.8zM545.2 327.2h4.8v4.8h-4.8zM554.2 327.2h9.3v4.8h-9.3zM567.7 327.2h13.8v4.8h-13.8zM518.2 331.7h4.8v4.8h-4.8zM527.2 331.7h9.3v4.8h-9.3zM540.7 331.7h9.3v4.8h-9.3zM558.7 331.7h9.3v4.8h-9.3zM486.8 336.2h4.8v4.8h-4.8zM504.8 336.2h13.8v4.8h-13.8zM536.2 336.2h4.8v4.8h-4.8zM549.7 336.2h4.8v4.8h-4.8zM572.2 336.2h9.3v4.8h-9.3zM491.3 340.7h9.3v4.8h-9.3zM527.2 340.7h9.3v4.8h-9.3zM500.3 345.2h4.8v4.8h-4.8zM572.2 345.2h9.3v4.8h-9.3zM500.3 349.7h4.8v4.8h-4.8zM509.2 349.7h9.3v4.8h-9.3zM531.7 349.7h4.8v4.8h-4.8zM540.7 349.7h4.8v4.8h-4.8zM576.7 349.7h4.8v4.8h-4.8zM455.3 354.2h4.8v4.8h-4.8zM482.3 354.2h27.3v4.8h-27.3zM477.8 358.6h4.8v4.8h-4.8zM491.3 358.6h4.8v4.8h-4.8zM500.3 358.6h4.8v4.8h-4.8zM522.7 358.6h4.8v4.8h-4.8zM567.7 358.6h4.8v4.8h-4.8zM495.8 363.1h4.8v4.8h-4.8zM504.8 363.1h4.8v4.8h-4.8zM527.2 363.1h4.8v4.8h-4.8zM545.2 363.1h4.8v4.8h-4.8zM558.7 363.1h4.8v4.8h-4.8zM576.7 363.1h4.8v4.8h-4.8zM500.3 367.6h4.8v4.8h-4.8zM509.2 367.6h4.8v4.8h-4.8zM518.2 367.6h9.3v4.8h-9.3zM549.7 367.6h4.8v4.8h-4.8zM563.2 367.6h9.3v4.8h-9.3zM576.7 367.6h4.8v4.8h-4.8zM482.3 372.1h4.8v4.8h-4.8zM504.8 372.1h9.3v4.8h-9.3zM518.2 372.1h4.8v4.8h-4.8zM549.7 372.1h9.3v4.8h-9.3zM486.8 376.6h9.3v4.8h-9.3zM500.3 376.6h9.3v4.8h-9.3zM522.7 376.6h4.8v4.8h-4.8zM549.7 376.6h4.8v4.8h-4.8zM558.7 376.6h4.8v4.8h-4.8zM567.7 376.6h4.8v4.8h-4.8zM482.3 381.1h4.8v4.8h-4.8zM504.8 381.1h4.8v4.8h-4.8zM513.7 381.1h4.8v4.8h-4.8zM500.3 385.6h4.8v4.8h-4.8zM513.7 385.6h4.8v4.8h-4.8zM536.2 385.6h4.8v4.8h-4.8zM486.8 390.1h9.3v4.8h-9.3zM509.2 390.1h9.3v4.8h-9.3zM527.2 390.1h9.3v4.8h-9.3zM540.7 390.1h4.8v4.8h-4.8z" fill="#f36c1d"/>
<path d="M414.8 89h18.3v4.8h-18.3zM437.3 89h4.8v4.8h-4.8zM540.7 89h9.3v4.8h-9.3zM414.8 93.5h13.8v4.8h-13.8zM554.2 93.5h4.8v4.8h-4.8zM419.3 98h4.8v4.8h-4.8zM428.3 98h4.8v4.8h-4.8zM437.3 98h4.8v4.8h-4.8zM549.7 98h4.8v4.8h-4.8zM414.8 102.5h4.8v4.8h-4.8zM423.8 102.5h4.8v4.8h-4.8zM419.3 107h4.8v4.8h-4.8zM419.3 111.5h4.8v4.8h-4.8zM549.7 111.5h9.3v4.8h-9.3zM414.8 116h4.8v4.8h-4.8zM428.3 116h4.8v4.8h-4.8zM437.3 116h4.8v4.8h-4.8zM554.2 116h4.8v4.8h-4.8zM437.3 120.5h4.8v4.8h-4.8zM419.3 125h18.3v4.8h-18.3zM441.8 125h4.8v4.8h-4.8zM428.3 129.4h9.3v4.8h-9.3zM558.7 129.4h9.3v4.8h-9.3zM419.3 133.9h4.8v4.8h-4.8zM428.3 133.9h9.3v4.8h-9.3zM554.2 133.9h4.8v4.8h-4.8zM540.7 138.4h9.3v4.8h-9.3zM423.8 142.9h4.8v4.8h-4.8zM419.3 147.4h4.8v4.8h-4.8zM428.3 147.4h9.3v4.8h-9.3zM500.3 147.4h4.8v4.8h-4.8zM518.2 147.4h4.8v4.8h-4.8zM540.7 147.4h4.8v4.8h-4.8zM554.2 147.4h4.8v4.8h-4.8zM437.3 151.9h4.8v4.8h-4.8zM414.8 156.4h4.8v4.8h-4.8zM423.8 156.4h4.8v4.8h-4.8zM504.8 156.4h4.8v4.8h-4.8zM527.2 156.4h4.8v4.8h-4.8zM536.2 156.4h4.8v4.8h-4.8zM549.7 156.4h4.8v4.8h-4.8zM423.8 160.9h4.8v4.8h-4.8zM437.3 160.9h4.8v4.8h-4.8zM450.8 160.9h4.8v4.8h-4.8zM459.8 160.9h9.3v4.8h-9.3zM473.3 160.9h4.8v4.8h-4.8zM509.2 160.9h9.3v4.8h-9.3zM549.7 160.9h9.3v4.8h-9.3zM419.3 165.4h4.8v4.8h-4.8zM437.3 165.4h9.3v4.8h-9.3zM455.3 165.4h4.8v4.8h-4.8zM522.7 165.4h4.8v4.8h-4.8zM545.2 165.4h4.8v4.8h-4.8zM455.3 169.9h4.8v4.8h-4.8zM473.3 169.9h4.8v4.8h-4.8zM500.3 169.9h4.8v4.8h-4.8zM536.2 169.9h9.3v4.8h-9.3zM428.3 174.4h4.8v4.8h-4.8zM477.8 174.4h9.3v4.8h-9.3zM495.8 174.4h4.8v4.8h-4.8zM504.8 174.4h4.8v4.8h-4.8zM536.2 174.4h9.3v4.8h-9.3zM432.8 178.9h9.3v4.8h-9.3zM531.7 178.9h9.3v4.8h-9.3zM437.3 183.4h4.8v4.8h-4.8zM464.3 183.4h9.3v4.8h-9.3zM482.3 183.4h4.8v4.8h-4.8zM491.3 183.4h9.3v4.8h-9.3zM504.8 183.4h9.3v4.8h-9.3zM527.2 183.4h4.8v4.8h-4.8zM446.3 187.9h18.3v4.8h-18.3zM468.8 187.9h4.8v4.8h-4.8zM482.3 187.9h4.8v4.8h-4.8zM500.3 187.9h9.3v4.8h-9.3zM513.7 187.9h22.8v4.8h-22.8zM482.3 192.4h4.8v4.8h-4.8zM500.3 192.4h13.8v4.8h-13.8zM518.2 192.4h4.8v4.8h-4.8zM527.2 192.4h4.8v4.8h-4.8zM491.3 196.9h4.8v4.8h-4.8zM500.3 196.9h4.8v4.8h-4.8zM518.2 196.9h4.8v4.8h-4.8zM531.7 196.9h4.8v4.8h-4.8zM527.2 201.4h4.8v4.8h-4.8zM576.7 277.8h4.8v4.8h-4.8zM576.7 282.2h4.8v4.8h-4.8zM576.7 286.7h4.8v4.8h-4.8zM558.7 304.7h4.8v4.8h-4.8zM567.7 304.7h4.8v4.8h-4.8zM576.7 304.7h4.8v4.8h-4.8zM572.2 309.2h9.3v4.8h-9.3zM567.7 313.7h4.8v4.8h-4.8zM576.7 313.7h4.8v4.8h-4.8zM549.7 331.7h4.8v4.8h-4.8zM518.2 336.2h4.8v4.8h-4.8zM531.7 336.2h4.8v4.8h-4.8zM540.7 336.2h4.8v4.8h-4.8zM554.2 336.2h9.3v4.8h-9.3zM522.7 340.7h4.8v4.8h-4.8zM536.2 340.7h9.3v4.8h-9.3zM549.7 340.7h9.3v4.8h-9.3zM567.7 340.7h4.8v4.8h-4.8zM576.7 340.7h4.8v4.8h-4.8zM504.8 345.2h18.3v4.8h-18.3zM527.2 345.2h9.3v4.8h-9.3zM549.7 345.2h9.3v4.8h-9.3zM563.2 345.2h4.8v4.8h-4.8zM504.8 349.7h4.8v4.8h-4.8zM518.2 349.7h4.8v4.8h-4.8zM527.2 349.7h4.8v4.8h-4.8zM536.2 349.7h4.8v4.8h-4.8zM549.7 349.7h9.3v4.8h-9.3zM567.7 349.7h9.3v4.8h-9.3zM509.2 354.2h9.3v4.8h-9.3zM527.2 354.2h9.3v4.8h-9.3zM545.2 354.2h4.8v4.8h-4.8zM567.7 354.2h9.3v4.8h-9.3zM518.2 358.6h4.8v4.8h-4.8zM527.2 358.6h18.3v4.8h-18.3zM549.7 358.6h18.3v4.8h-18.3zM522.7 363.1h4.8v4.8h-4.8zM536.2 363.1h4.8v4.8h-4.8zM563.2 363.1h4.8v4.8h-4.8zM572.2 363.1h4.8v4.8h-4.8zM504.8 367.6h4.8v4.8h-4.8zM513.7 367.6h4.8v4.8h-4.8zM527.2 367.6h4.8v4.8h-4.8zM540.7 367.6h4.8v4.8h-4.8zM554.2 367.6h4.8v4.8h-4.8zM572.2 367.6h4.8v4.8h-4.8zM495.8 372.1h9.3v4.8h-9.3zM513.7 372.1h4.8v4.8h-4.8zM522.7 372.1h9.3v4.8h-9.3zM567.7 372.1h4.8v4.8h-4.8zM509.2 376.6h4.8v4.8h-4.8zM527.2 376.6h9.3v4.8h-9.3zM545.2 376.6h4.8v4.8h-4.8zM554.2 376.6h4.8v4.8h-4.8zM509.2 381.1h4.8v4.8h-4.8zM518.2 381.1h4.8v4.8h-4.8zM531.7 381.1h9.3v4.8h-9.3zM545.2 381.1h4.8v4.8h-4.8zM554.2 381.1h9.3v4.8h-9.3zM504.8 385.6h9.3v4.8h-9.3zM527.2 385.6h9.3v4.8h-9.3zM540.7 385.6h9.3v4.8h-9.3zM558.7 385.6h4.8v4.8h-4.8zM518.2 390.1h9.3v4.8h-9.3z" fill="#f89217"/>
<path d="M432.8 89h4.8v4.8h-4.8zM441.8 89h4.8v4.8h-4.8zM450.8 89h4.8v4.8h-4.8zM527.2 89h4.8v4.8h-4.8zM428.3 93.5h9.3v4.8h-9.3zM446.3 93.5h9.3v4.8h-9.3zM549.7 93.5h4.8v4.8h-4.8zM414.8 98h4.8v4.8h-4.8zM423.8 98h4.8v4.8h-4.8zM432.8 98h4.8v4.8h-4.8zM450.8 98h9.3v4.8h-9.3zM545.2 98h4.8v4.8h-4.8zM419.3 102.5h4.8v4.8h-4.8zM428.3 102.5h4.8v4.8h-4.8zM428.3 107h4.8v4.8h-4.8zM540.7 107h9.3v4.8h-9.3zM554.2 107h4.8v4.8h-4.8zM428.3 111.5h4.8v4.8h-4.8zM540.7 111.5h4.8v4.8h-4.8zM419.3 116h4.8v4.8h-4.8zM432.8 116h4.8v4.8h-4.8zM549.7 116h4.8v4.8h-4.8zM432.8 120.5h4.8v4.8h-4.8zM446.3 120.5h4.8v4.8h-4.8zM531.7 120.5h4.8v4.8h-4.8zM549.7 120.5h18.3v4.8h-18.3zM437.3 125h4.8v4.8h-4.8zM540.7 125h4.8v4.8h-4.8zM549.7 125h4.8v4.8h-4.8zM419.3 129.4h9.3v4.8h-9.3zM437.3 129.4h9.3v4.8h-9.3zM536.2 129.4h4.8v4.8h-4.8zM554.2 129.4h4.8v4.8h-4.8zM446.3 133.9h4.8v4.8h-4.8zM545.2 133.9h4.8v4.8h-4.8zM437.3 138.4h4.8v4.8h-4.8zM495.8 138.4h4.8v4.8h-4.8zM513.7 138.4h4.8v4.8h-4.8zM486.8 142.9h18.3v4.8h-18.3zM509.2 142.9h9.3v4.8h-9.3zM540.7 142.9h4.8v4.8h-4.8zM549.7 142.9h4.8v4.8h-4.8zM513.7 147.4h4.8v4.8h-4.8zM536.2 147.4h4.8v4.8h-4.8zM545.2 147.4h4.8v4.8h-4.8zM423.8 151.9h9.3v4.8h-9.3zM513.7 151.9h4.8v4.8h-4.8zM545.2 151.9h4.8v4.8h-4.8zM432.8 156.4h13.8v4.8h-13.8zM455.3 156.4h4.8v4.8h-4.8zM500.3 156.4h4.8v4.8h-4.8zM509.2 156.4h4.8v4.8h-4.8zM531.7 156.4h4.8v4.8h-4.8zM545.2 156.4h4.8v4.8h-4.8zM428.3 160.9h4.8v4.8h-4.8zM446.3 160.9h4.8v4.8h-4.8zM455.3 160.9h4.8v4.8h-4.8zM531.7 160.9h4.8v4.8h-4.8zM428.3 165.4h9.3v4.8h-9.3zM450.8 165.4h4.8v4.8h-4.8zM459.8 165.4h13.8v4.8h-13.8zM509.2 165.4h13.8v4.8h-13.8zM527.2 165.4h9.3v4.8h-9.3zM540.7 165.4h4.8v4.8h-4.8zM432.8 169.9h4.8v4.8h-4.8zM441.8 169.9h13.8v4.8h-13.8zM464.3 169.9h4.8v4.8h-4.8zM477.8 169.9h4.8v4.8h-4.8zM486.8 169.9h4.8v4.8h-4.8zM509.2 169.9h4.8v4.8h-4.8zM522.7 169.9h9.3v4.8h-9.3zM545.2 169.9h4.8v4.8h-4.8zM432.8 174.4h22.8v4.8h-22.8zM486.8 174.4h9.3v4.8h-9.3zM518.2 174.4h18.3v4.8h-18.3zM441.8 178.9h9.3v4.8h-9.3zM464.3 178.9h9.3v4.8h-9.3zM477.8 178.9h9.3v4.8h-9.3zM491.3 178.9h4.8v4.8h-4.8zM500.3 178.9h9.3v4.8h-9.3zM518.2 178.9h4.8v4.8h-4.8zM446.3 183.4h4.8v4.8h-4.8zM459.8 183.4h4.8v4.8h-4.8zM473.3 183.4h9.3v4.8h-9.3zM513.7 183.4h4.8v4.8h-4.8zM441.8 187.9h4.8v4.8h-4.8zM464.3 187.9h4.8v4.8h-4.8zM491.3 187.9h4.8v4.8h-4.8zM495.8 192.4h4.8v4.8h-4.8zM522.7 192.4h4.8v4.8h-4.8zM572.2 286.7h4.8v4.8h-4.8zM572.2 291.2h9.3v4.8h-9.3zM572.2 295.7h4.8v4.8h-4.8zM572.2 300.2h4.8v4.8h-4.8zM563.2 304.7h4.8v4.8h-4.8zM572.2 304.7h4.8v4.8h-4.8zM522.7 336.2h9.3v4.8h-9.3zM563.2 336.2h9.3v4.8h-9.3zM518.2 340.7h4.8v4.8h-4.8zM545.2 340.7h4.8v4.8h-4.8zM558.7 340.7h9.3v4.8h-9.3zM522.7 345.2h4.8v4.8h-4.8zM545.2 345.2h4.8v4.8h-4.8zM558.7 345.2h4.8v4.8h-4.8zM567.7 345.2h4.8v4.8h-4.8zM522.7 349.7h4.8v4.8h-4.8zM545.2 349.7h4.8v4.8h-4.8zM563.2 349.7h4.8v4.8h-4.8zM518.2 354.2h9.3v4.8h-9.3zM536.2 354.2h4.8v4.8h-4.8zM549.7 354.2h18.3v4.8h-18.3zM576.7 354.2h4.8v4.8h-4.8zM509.2 358.6h4.8v4.8h-4.8zM545.2 358.6h4.8v4.8h-4.8zM572.2 358.6h4.8v4.8h-4.8zM500.3 363.1h4.8v4.8h-4.8zM509.2 363.1h13.8v4.8h-13.8zM531.7 363.1h4.8v4.8h-4.8zM540.7 363.1h4.8v4.8h-4.8zM549.7 363.1h9.3v4.8h-9.3zM567.7 363.1h4.8v4.8h-4.8zM536.2 367.6h4.8v4.8h-4.8zM545.2 367.6h4.8v4.8h-4.8zM558.7 367.6h4.8v4.8h-4.8zM536.2 372.1h4.8v4.8h-4.8zM536.2 376.6h9.3v4.8h-9.3zM527.2 381.1h4.8v4.8h-4.8zM549.7 381.1h4.8v4.8h-4.8zM518.2 385.6h9.3v4.8h-9.3zM536.2 390.1h4.8v4.8h-4.8zM549.7 390.1h4.8v4.8h-4.8z" fill="#fdb612"/>
<path d="M446.3 89h4.8v4.8h-4.8zM455.3 89h9.3v4.8h-9.3zM531.7 89h9.3v4.8h-9.3zM437.3 93.5h9.3v4.8h-9.3zM455.3 93.5h4.8v4.8h-4.8zM536.2 93.5h4.8v4.8h-4.8zM545.2 93.5h4.8v4.8h-4.8zM459.8 98h4.8v4.8h-4.8zM540.7 98h4.8v4.8h-4.8zM432.8 102.5h4.8v4.8h-4.8zM450.8 102.5h4.8v4.8h-4.8zM464.3 102.5h4.8v4.8h-4.8zM527.2 102.5h4.8v4.8h-4.8zM540.7 102.5h9.3v4.8h-9.3zM432.8 107h4.8v4.8h-4.8zM441.8 107h4.8v4.8h-4.8zM450.8 107h4.8v4.8h-4.8zM432.8 111.5h4.8v4.8h-4.8zM441.8 111.5h9.3v4.8h-9.3zM455.3 111.5h4.8v4.8h-4.8zM423.8 116h4.8v4.8h-4.8zM446.3 116h4.8v4.8h-4.8zM459.8 116h4.8v4.8h-4.8zM545.2 116h4.8v4.8h-4.8zM428.3 120.5h4.8v4.8h-4.8zM441.8 120.5h4.8v4.8h-4.8zM446.3 125h4.8v4.8h-4.8zM545.2 125h4.8v4.8h-4.8zM554.2 125h4.8v4.8h-4.8zM491.3 129.4h9.3v4.8h-9.3zM540.7 129.4h13.8v4.8h-13.8zM437.3 133.9h4.8v4.8h-4.8zM486.8 133.9h4.8v4.8h-4.8zM504.8 133.9h4.8v4.8h-4.8zM513.7 133.9h4.8v4.8h-4.8zM536.2 133.9h4.8v4.8h-4.8zM428.3 138.4h9.3v4.8h-9.3zM482.3 138.4h4.8v4.8h-4.8zM432.8 142.9h9.3v4.8h-9.3zM482.3 142.9h4.8v4.8h-4.8zM504.8 142.9h4.8v4.8h-4.8zM518.2 142.9h9.3v4.8h-9.3zM437.3 147.4h4.8v4.8h-4.8zM464.3 147.4h4.8v4.8h-4.8zM477.8 147.4h13.8v4.8h-13.8zM504.8 147.4h9.3v4.8h-9.3zM522.7 147.4h13.8v4.8h-13.8zM432.8 151.9h4.8v4.8h-4.8zM455.3 151.9h4.8v4.8h-4.8zM464.3 151.9h4.8v4.8h-4.8zM482.3 151.9h4.8v4.8h-4.8zM491.3 151.9h4.8v4.8h-4.8zM500.3 151.9h4.8v4.8h-4.8zM509.2 151.9h4.8v4.8h-4.8zM518.2 151.9h4.8v4.8h-4.8zM527.2 151.9h9.3v4.8h-9.3zM540.7 151.9h4.8v4.8h-4.8zM446.3 156.4h9.3v4.8h-9.3zM464.3 156.4h4.8v4.8h-4.8zM477.8 156.4h4.8v4.8h-4.8zM491.3 156.4h9.3v4.8h-9.3zM518.2 156.4h4.8v4.8h-4.8zM540.7 156.4h4.8v4.8h-4.8zM432.8 160.9h4.8v4.8h-4.8zM441.8 160.9h4.8v4.8h-4.8zM468.8 160.9h4.8v4.8h-4.8zM477.8 160.9h13.8v4.8h-13.8zM500.3 160.9h9.3v4.8h-9.3zM518.2 160.9h13.8v4.8h-13.8zM536.2 160.9h13.8v4.8h-13.8zM446.3 165.4h4.8v4.8h-4.8zM473.3 165.4h9.3v4.8h-9.3zM504.8 165.4h4.8v4.8h-4.8zM536.2 165.4h4.8v4.8h-4.8zM459.8 169.9h4.8v4.8h-4.8zM468.8 169.9h4.8v4.8h-4.8zM482.3 169.9h4.8v4.8h-4.8zM491.3 169.9h9.3v4.8h-9.3zM504.8 169.9h4.8v4.8h-4.8zM518.2 169.9h4.8v4.8h-4.8zM455.3 174.4h9.3v4.8h-9.3zM468.8 174.4h9.3v4.8h-9.3zM500.3 174.4h4.8v4.8h-4.8zM509.2 174.4h4.8v4.8h-4.8zM450.8 178.9h13.8v4.8h-13.8zM486.8 178.9h4.8v4.8h-4.8zM509.2 178.9h9.3v4.8h-9.3zM450.8 183.4h9.3v4.8h-9.3zM576.7 300.2h4.8v4.8h-4.8zM536.2 345.2h9.3v4.8h-9.3zM558.7 349.7h4.8v4.8h-4.8zM540.7 354.2h4.8v4.8h-4.8zM504.8 358.6h4.8v4.8h-4.8zM531.7 367.6h4.8v4.8h-4.8zM540.7 372.1h9.3v4.8h-9.3zM540.7 381.1h4.8v4.8h-4.8z" fill="#fed711"/>
<path d="M464.3 89h4.8v4.8h-4.8zM486.8 89h4.8v4.8h-4.8zM513.7 89h4.8v4.8h-4.8zM459.8 93.5h9.3v4.8h-9.3zM513.7 93.5h9.3v4.8h-9.3zM540.7 93.5h4.8v4.8h-4.8zM446.3 98h4.8v4.8h-4.8zM518.2 98h4.8v4.8h-4.8zM527.2 98h4.8v4.8h-4.8zM536.2 98h4.8v4.8h-4.8zM441.8 102.5h9.3v4.8h-9.3zM455.3 102.5h9.3v4.8h-9.3zM518.2 102.5h9.3v4.8h-9.3zM531.7 102.5h4.8v4.8h-4.8zM549.7 102.5h4.8v4.8h-4.8zM437.3 107h4.8v4.8h-4.8zM446.3 107h4.8v4.8h-4.8zM455.3 107h4.8v4.8h-4.8zM464.3 107h4.8v4.8h-4.8zM531.7 107h4.8v4.8h-4.8zM437.3 111.5h4.8v4.8h-4.8zM518.2 111.5h4.8v4.8h-4.8zM531.7 111.5h9.3v4.8h-9.3zM545.2 111.5h4.8v4.8h-4.8zM450.8 116h9.3v4.8h-9.3zM473.3 116h4.8v4.8h-4.8zM531.7 116h9.3v4.8h-9.3zM455.3 120.5h4.8v4.8h-4.8zM473.3 120.5h9.3v4.8h-9.3zM509.2 120.5h4.8v4.8h-4.8zM536.2 120.5h9.3v4.8h-9.3zM450.8 125h9.3v4.8h-9.3zM531.7 125h4.8v4.8h-4.8zM558.7 125h4.8v4.8h-4.8zM446.3 129.4h13.8v4.8h-13.8zM464.3 129.4h4.8v4.8h-4.8zM486.8 129.4h4.8v4.8h-4.8zM500.3 129.4h9.3v4.8h-9.3zM527.2 129.4h9.3v4.8h-9.3zM441.8 133.9h4.8v4.8h-4.8zM450.8 133.9h4.8v4.8h-4.8zM459.8 133.9h4.8v4.8h-4.8zM495.8 133.9h9.3v4.8h-9.3zM509.2 133.9h4.8v4.8h-4.8zM518.2 133.9h4.8v4.8h-4.8zM527.2 133.9h9.3v4.8h-9.3zM540.7 133.9h4.8v4.8h-4.8zM441.8 138.4h22.8v4.8h-22.8zM468.8 138.4h4.8v4.8h-4.8zM491.3 138.4h4.8v4.8h-4.8zM504.8 138.4h4.8v4.8h-4.8zM518.2 138.4h22.8v4.8h-22.8zM446.3 142.9h4.8v4.8h-4.8zM459.8 142.9h4.8v4.8h-4.8zM527.2 142.9h13.8v4.8h-13.8zM441.8 147.4h22.8v4.8h-22.8zM473.3 147.4h4.8v4.8h-4.8zM491.3 147.4h9.3v4.8h-9.3zM441.8 151.9h4.8v4.8h-4.8zM459.8 151.9h4.8v4.8h-4.8zM477.8 151.9h4.8v4.8h-4.8zM486.8 151.9h4.8v4.8h-4.8zM495.8 151.9h4.8v4.8h-4.8zM504.8 151.9h4.8v4.8h-4.8zM522.7 151.9h4.8v4.8h-4.8zM536.2 151.9h4.8v4.8h-4.8zM428.3 156.4h4.8v4.8h-4.8zM459.8 156.4h4.8v4.8h-4.8zM468.8 156.4h4.8v4.8h-4.8zM522.7 156.4h4.8v4.8h-4.8zM491.3 160.9h4.8v4.8h-4.8zM486.8 165.4h4.8v4.8h-4.8zM500.3 165.4h4.8v4.8h-4.8zM437.3 169.9h4.8v4.8h-4.8zM473.3 178.9h4.8v4.8h-4.8zM576.7 295.7h4.8v4.8h-4.8z" fill="#ffe91d"/>
<path d="M504.8 89h4.8v4.8h-4.8zM522.7 89h4.8v4.8h-4.8zM468.8 93.5h9.3v4.8h-9.3zM522.7 93.5h9.3v4.8h-9.3zM441.8 98h4.8v4.8h-4.8zM468.8 98h4.8v4.8h-4.8zM522.7 98h4.8v4.8h-4.8zM531.7 98h4.8v4.8h-4.8zM437.3 102.5h4.8v4.8h-4.8zM477.8 102.5h4.8v4.8h-4.8zM513.7 102.5h4.8v4.8h-4.8zM536.2 102.5h4.8v4.8h-4.8zM459.8 107h4.8v4.8h-4.8zM473.3 107h4.8v4.8h-4.8zM518.2 107h13.8v4.8h-13.8zM536.2 107h4.8v4.8h-4.8zM450.8 111.5h4.8v4.8h-4.8zM459.8 111.5h4.8v4.8h-4.8zM468.8 111.5h4.8v4.8h-4.8zM522.7 111.5h9.3v4.8h-9.3zM441.8 116h4.8v4.8h-4.8zM464.3 116h9.3v4.8h-9.3zM486.8 116h4.8v4.8h-4.8zM522.7 116h9.3v4.8h-9.3zM540.7 116h4.8v4.8h-4.8zM450.8 120.5h4.8v4.8h-4.8zM459.8 120.5h4.8v4.8h-4.8zM468.8 120.5h4.8v4.8h-4.8zM491.3 120.5h4.8v4.8h-4.8zM527.2 120.5h4.8v4.8h-4.8zM459.8 125h4.8v4.8h-4.8zM482.3 125h18.3v4.8h-18.3zM504.8 125h4.8v4.8h-4.8zM518.2 125h13.8v4.8h-13.8zM468.8 129.4h18.3v4.8h-18.3zM509.2 129.4h18.3v4.8h-18.3zM455.3 133.9h4.8v4.8h-4.8zM464.3 133.9h4.8v4.8h-4.8zM477.8 133.9h9.3v4.8h-9.3zM491.3 133.9h4.8v4.8h-4.8zM522.7 133.9h4.8v4.8h-4.8zM464.3 138.4h4.8v4.8h-4.8zM477.8 138.4h4.8v4.8h-4.8zM486.8 138.4h4.8v4.8h-4.8zM500.3 138.4h4.8v4.8h-4.8zM509.2 138.4h4.8v4.8h-4.8zM441.8 142.9h4.8v4.8h-4.8zM450.8 142.9h9.3v4.8h-9.3zM477.8 142.9h4.8v4.8h-4.8zM468.8 147.4h4.8v4.8h-4.8zM446.3 151.9h9.3v4.8h-9.3zM468.8 151.9h9.3v4.8h-9.3zM473.3 156.4h4.8v4.8h-4.8zM482.3 156.4h4.8v4.8h-4.8zM495.8 160.9h4.8v4.8h-4.8zM482.3 165.4h4.8v4.8h-4.8zM491.3 165.4h9.3v4.8h-9.3zM464.3 174.4h4.8v4.8h-4.8z" fill="#ffec38"/>
<path d="M468.8 89h18.3v4.8h-18.3zM495.8 89h4.8v4.8h-4.8zM509.2 89h4.8v4.8h-4.8zM518.2 89h4.8v4.8h-4.8zM477.8 93.5h4.8v4.8h-4.8zM486.8 93.5h4.8v4.8h-4.8zM495.8 93.5h4.8v4.8h-4.8zM504.8 93.5h4.8v4.8h-4.8zM531.7 93.5h4.8v4.8h-4.8zM464.3 98h4.8v4.8h-4.8zM473.3 98h9.3v4.8h-9.3zM486.8 98h4.8v4.8h-4.8zM495.8 98h4.8v4.8h-4.8zM513.7 98h4.8v4.8h-4.8zM468.8 102.5h4.8v4.8h-4.8zM500.3 102.5h9.3v4.8h-9.3zM477.8 107h4.8v4.8h-4.8zM491.3 107h9.3v4.8h-9.3zM464.3 111.5h4.8v4.8h-4.8zM477.8 111.5h4.8v4.8h-4.8zM504.8 111.5h13.8v4.8h-13.8zM477.8 116h4.8v4.8h-4.8zM513.7 116h9.3v4.8h-9.3zM464.3 120.5h4.8v4.8h-4.8zM486.8 120.5h4.8v4.8h-4.8zM513.7 120.5h13.8v4.8h-13.8zM545.2 120.5h4.8v4.8h-4.8zM464.3 125h18.3v4.8h-18.3zM500.3 125h4.8v4.8h-4.8zM509.2 125h9.3v4.8h-9.3zM536.2 125h4.8v4.8h-4.8zM459.8 129.4h4.8v4.8h-4.8zM468.8 133.9h4.8v4.8h-4.8zM473.3 138.4h4.8v4.8h-4.8zM464.3 142.9h13.8v4.8h-13.8zM486.8 156.4h4.8v4.8h-4.8z" fill="#ffef53"/>
<path d="M491.3 89h4.8v4.8h-4.8zM500.3 89h4.8v4.8h-4.8zM482.3 93.5h4.8v4.8h-4.8zM500.3 93.5h4.8v4.8h-4.8zM509.2 93.5h4.8v4.8h-4.8zM482.3 98h4.8v4.8h-4.8zM491.3 98h4.8v4.8h-4.8zM500.3 98h13.8v4.8h-13.8zM473.3 102.5h4.8v4.8h-4.8zM482.3 102.5h9.3v4.8h-9.3zM495.8 102.5h4.8v4.8h-4.8zM468.8 107h4.8v4.8h-4.8zM482.3 107h4.8v4.8h-4.8zM504.8 107h9.3v4.8h-9.3zM473.3 111.5h4.8v4.8h-4.8zM482.3 111.5h13.8v4.8h-13.8zM482.3 116h4.8v4.8h-4.8zM491.3 116h22.8v4.8h-22.8zM482.3 120.5h4.8v4.8h-4.8zM495.8 120.5h13.8v4.8h-13.8zM473.3 133.9h4.8v4.8h-4.8z" fill="#fff27b"/>
<path d="M491.3 93.5h4.8v4.8h-4.8zM491.3 102.5h4.8v4.8h-4.8zM509.2 102.5h4.8v4.8h-4.8zM486.8 107h4.8v4.8h-4.8zM500.3 107h4.8v4.8h-4.8zM513.7 107h4.8v4.8h-4.8zM495.8 111.5h4.8v4.8h-4.8z" fill="#fff6aa"/>
<path d="M500.3 111.5h4.8v4.8h-4.8z" fill="#fff9d3"/>
</g><line x1="272" y1="430.5" x2="331" y2="430.5" stroke="#222" stroke-width="3"/>
<text x="270" y="461" font-size="19.5" class="b" fill="#222" textLength="61" lengthAdjust="spacingAndGlyphs">10 nm</text>
<path d="M653.2 254.9 L905.8 339.1 L905.8 410.6 L653.2 320.3Z" fill="#8c8c8c"/>
<path d="M653.2 254.9 L905.8 339.1 L905.8 393.9 L653.2 305.7Z" fill="#a9a9a9"/>
<path d="M905.8 336.1 L968.7 211.3 L968.7 262.0 L905.8 410.6Z" fill="#8a8a8c"/>
<path d="M905.8 336.1 L968.7 211.3 L968.7 244.2 L905.8 393.9Z" fill="#9c9ca0"/>
<path d="M653.2 305.7 L905.8 393.7 L905.8 406.5 L653.2 316.8Z" fill="#1f8fd6"/>
<path d="M905.8 393.7 L968.7 244.2 L968.7 258.0 L905.8 406.5Z" fill="#1a84cc"/>
<path d="M905.8 336.1 L905.8 410.6" fill="none" stroke="#858585" stroke-width="2"/>
<path d="M752.6 139.3 L968.7 211.3 L905.8 339.1 L653.2 254.9Z" fill="#8f9388"/>
<g clip-path="url(#bclip)"><path d="M754.0 141.9 L963.8 212.3 L903.8 333.0 L658.3 253.9Z" fill="url(#bgreen)"/>
<path d="M737.4 160.6 L742.5 150.4 L753.6 141.9 L842.9 171.7 L861.2 177.8 L863.2 183.3 L855.1 187.4 L822.6 190.0 L792.2 193.4 L771.9 196.5 L751.6 196.5 L747.5 180.9 L742.5 165.7Z" fill="#8bc53d" stroke="#4f8a2a" stroke-width="1"/>
<path d="M769.9 221.4 L802.3 225.5 L808.4 233.6 L802.3 241.7 L775.9 239.7 L769.9 231.6Z" fill="#5d7d22"/>
<path d="M771.9 220.4 L791.2 197.1 L849.0 209.3 L907.8 202.2 L944.3 201.2 L944.3 204.8 L911.9 209.7 L849.0 217.4 L840.9 236.1 L808.4 230.6 L802.3 225.5Z" fill="#f3e52c"/>
<path d="M808.4 228.6 L937.2 267.1 L935.2 274.2 L805.4 234.6Z" fill="#f3e52c"/>
<path d="M803.3 239.7 L919.0 307.7 L915.9 314.8 L800.3 245.8Z" fill="#f3e52c"/>
<path d="M772.9 241.3 L829.7 262.0 L835.8 317.8 L827.7 317.8 L821.6 284.8 L765.8 257.2Z" fill="#f3e52c"/>
<path d="M737.4 160.6 L743.9 152.1 L747.9 156.5 L741.9 163.0Z" fill="#f1df30"/>
<path d="M834.8 192.0 L840.9 191.0 L845.9 200.1 L842.9 204.2 L837.8 201.2Z" fill="#e9dc3a"/>
<path d="M693.8 212.3 L700.9 208.3 L710.0 221.4 L718.1 234.6 L715.1 241.7 L704.9 240.7 L696.8 229.6Z" fill="#1d4a2c"/>
<path d="M717.1 209.3 L722.2 200.1 L723.6 209.3 L720.1 219.4 L717.1 217.4Z" fill="#3aa858"/>
<path d="M700.9 233.6 L711.0 229.6 L716.1 238.7 L709.0 241.7Z" fill="#46b862"/>
<path d="M718.1 245.8 L727.2 243.4 L732.3 247.8 L727.2 252.9 L720.1 250.9Z" fill="#2a7a44"/>
</g><path d="M750.6 253.9 L769.9 237.7" fill="none" stroke="#f4f4e4" stroke-width="1.3"/>
<path d="M774.9 233.6 L766.8 236.1 L771.5 241.3Z" fill="#f4f4e4"/>
<text x="700.5" y="265.1" font-size="15.5" class="s b" fill="#f4f6e2" textLength="62" lengthAdjust="spacingAndGlyphs">graphene</text>
<g transform="translate(864.8 319.9) rotate(9)"><text x="0" y="0" font-size="15" class="s b" fill="#10140a" textLength="38" lengthAdjust="spacingAndGlyphs" font-style="italic">12 µm</text>
<rect x="-2" y="3" width="33" height="5.5" fill="#0c0c08"/>
</g><g transform="translate(768.2 329.0) rotate(17)"><text x="0" y="0" font-size="27" class="m" fill="#1a1a1a" textLength="46" lengthAdjust="spacingAndGlyphs">SiO<tspan font-size="17" dy="6">2</tspan></text>
</g><path d="M791.5 142.8 L811.0 144.8 L801.9 226.6Z" fill="#f3e516" stroke="#0a0a0a" stroke-width="2"/>
<path d="M772.1 131.5 L822.4 137.0 L923.0 59.1 L923.0 64.9 L822.4 144.8 L772.1 139.6Z" fill="#f3e516" stroke="#0a0a0a" stroke-width="2.2"/>
<path d="M874.3 51.9 L923.0 59.1 L822.4 137.0 L772.1 131.5Z" fill="#f5e814" stroke="#0a0a0a" stroke-width="2.2"/>
<path d="M921.4 57.8 988.3 57.8" fill="none" stroke="#0a0a0a" stroke-width="2.8" stroke-linejoin="round"/>
<circle cx="1005.3" cy="61.2" r="16.4" fill="#fff" stroke="#0a0a0a" stroke-width="2.6"/>
<path d="M993.5 62.5Q999 54.5 1005.3 60.5T1017.5 58.5" fill="none" stroke="#111" stroke-width="2"/>
<line x1="1006.8" y1="78" x2="1006.8" y2="473" stroke="#0a0a0a" stroke-width="2.8"/>
<line x1="988" y1="111.4" x2="1028.5" y2="111.4" stroke="#0a0a0a" stroke-width="2.2"/>
<rect x="998.5" y="115.5" width="21" height="6.5" fill="#0a0a0a"/>
<line x1="994.5" y1="133" x2="1021" y2="102" stroke="#0a0a0a" stroke-width="1.8"/>
<path d="M1024.5 98 L1016 101.5 L1021.5 106.5Z" fill="#0a0a0a"/>
<line x1="916.5" y1="205.3" x2="1006.8" y2="205.3" stroke="#0a0a0a" stroke-width="2.8"/>
<circle cx="916.8" cy="205.3" r="5.3" fill="#0a0a0a"/>
<line x1="796.2" y1="369.5" x2="796.2" y2="421" stroke="#0a0a0a" stroke-width="2.8"/>
<line x1="764" y1="421.3" x2="830.5" y2="421.3" stroke="#0a0a0a" stroke-width="2.8"/>
<rect x="783.4" y="435" width="29.5" height="8.5" fill="#0a0a0a"/>
<path d="M797.5 443 797.5 456.3 1006.8 456.3" fill="none" stroke="#0a0a0a" stroke-width="2.8" stroke-linejoin="round"/>
<line x1="984" y1="473" x2="1031" y2="473" stroke="#0a0a0a" stroke-width="2.8"/>
<line x1="991" y1="480.5" x2="1023.6" y2="480.5" stroke="#0a0a0a" stroke-width="2.8"/>
<line x1="997.7" y1="487" x2="1016" y2="487" stroke="#0a0a0a" stroke-width="2.8"/>
<text x="678" y="107.8" font-size="33" class="b" textLength="17" lengthAdjust="spacingAndGlyphs">b</text>
<text x="934.5" y="30.5" font-size="37" class="m" fill="#111" textLength="21" lengthAdjust="spacingAndGlyphs">V</text>
<text x="951.5" y="38.5" font-size="25" class="m" fill="#111" textLength="32.5" lengthAdjust="spacingAndGlyphs">AC</text>
<text x="990.5" y="30.5" font-size="37" class="s" fill="#111" textLength="118.5" lengthAdjust="spacingAndGlyphs">sin(<tspan font-style="italic">ωt</tspan>)</text>
<text x="1043.5" y="133.5" font-size="37" class="m" fill="#111" textLength="21" lengthAdjust="spacingAndGlyphs">V</text>
<text x="1061.8" y="141.5" font-size="25" class="m" fill="#111" textLength="35" lengthAdjust="spacingAndGlyphs">DC</text>
<text x="702" y="447.5" font-size="37" class="m" fill="#111" textLength="21" lengthAdjust="spacingAndGlyphs">V</text>
<text x="720" y="455" font-size="25" class="m" fill="#111" textLength="32.5" lengthAdjust="spacingAndGlyphs">GS</text>
<rect x="1173" y="55" width="423" height="352" fill="#fff" stroke="#2c2c2c" stroke-width="2.6"/>
<line x1="1278.55" y1="407" x2="1278.55" y2="401" stroke="#2c2c2c" stroke-width="2"/>
<line x1="1384.3" y1="407" x2="1384.3" y2="401" stroke="#2c2c2c" stroke-width="2"/>
<line x1="1490.05" y1="407" x2="1490.05" y2="401" stroke="#2c2c2c" stroke-width="2"/>
<line x1="1225.675" y1="407" x2="1225.675" y2="404" stroke="#2c2c2c" stroke-width="1.5"/>
<line x1="1331.425" y1="407" x2="1331.425" y2="404" stroke="#2c2c2c" stroke-width="1.5"/>
<line x1="1437.175" y1="407" x2="1437.175" y2="404" stroke="#2c2c2c" stroke-width="1.5"/>
<line x1="1542.925" y1="407" x2="1542.925" y2="404" stroke="#2c2c2c" stroke-width="1.5"/>
<line x1="1596" y1="85.4" x2="1589" y2="85.4" stroke="#2c2c2c" stroke-width="2.2"/>
<line x1="1596" y1="121.0" x2="1591" y2="121.0" stroke="#2c2c2c" stroke-width="2.2"/>
<line x1="1596" y1="156.5" x2="1589" y2="156.5" stroke="#2c2c2c" stroke-width="2.2"/>
<line x1="1596" y1="192.1" x2="1591" y2="192.1" stroke="#2c2c2c" stroke-width="2.2"/>
<line x1="1596" y1="227.7" x2="1589" y2="227.7" stroke="#2c2c2c" stroke-width="2.2"/>
<line x1="1596" y1="263.3" x2="1591" y2="263.3" stroke="#2c2c2c" stroke-width="2.2"/>
<line x1="1596" y1="298.9" x2="1589" y2="298.9" stroke="#2c2c2c" stroke-width="2.2"/>
<line x1="1596" y1="334.4" x2="1591" y2="334.4" stroke="#2c2c2c" stroke-width="2.2"/>
<line x1="1596" y1="370.0" x2="1589" y2="370.0" stroke="#2c2c2c" stroke-width="2.2"/>
<g clip-path="url(#cclip)"><path d="M1172.8 388.7 1174.9 387.9 1177 387.1 1179.1 386.3 1181.3 385.4 1183.4 384.6 1185.5 383.8 1187.6 383 1189.7 382.1 1191.8 381.3 1193.9 380.4 1196.1 379.6 1198.2 378.7 1200.3 377.9 1202.4 377 1204.5 376.1 1206.6 375.3 1208.8 374.4 1210.9 373.5 1213 372.6 1215.1 371.7 1217.2 370.8 1219.3 369.9 1221.4 369 1223.6 368.1 1225.7 367.1 1227.8 366.2 1229.9 365.3 1232 364.3 1234.1 363.4 1236.2 362.4 1238.4 361.4 1240.5 360.5 1242.6 359.5 1244.7 358.5 1246.8 357.5 1248.9 356.5 1251.1 355.5 1253.2 354.5 1255.3 353.4 1257.4 352.4 1259.5 351.4 1261.6 350.3 1263.7 349.2 1265.9 348.2 1268 347.1 1270.1 346 1272.2 344.9 1274.3 343.8 1276.4 342.7 1278.5 341.5 1280.7 340.4 1282.8 339.2 1284.9 338.1 1287 336.9 1289.1 335.7 1291.2 334.5 1293.4 333.3 1295.5 332 1297.6 330.8 1299.7 329.5 1301.8 328.2 1303.9 326.9 1306 325.6 1308.2 324.3 1310.3 322.9 1312.4 321.6 1314.5 320.2 1316.6 318.8 1318.7 317.3 1320.8 315.9 1323 314.4 1325.1 312.9 1327.2 311.4 1329.3 309.8 1331.4 308.2 1333.5 306.6 1335.7 304.9 1337.8 303.2 1339.9 301.5 1342 299.7 1344.1 297.9 1346.2 296 1348.3 294.1 1350.5 292.1 1352.6 290.1 1354.7 287.9 1356.8 285.7 1358.9 283.5 1361 281.1 1363.1 278.6 1365.3 276 1367.4 273.2 1369.5 270.3 1371.6 267.1 1373.7 263.7 1375.8 259.9 1378 255.6 1380.1 250.5 1382.2 243.8 1384.3 227.7 1386.4 212.8 1388.5 206.6 1390.6 201.9 1392.8 197.9 1394.9 194.4 1397 191.2 1399.1 188.3 1401.2 185.6 1403.3 183 1405.5 180.6 1407.6 178.3 1409.7 176.1 1411.8 174 1413.9 172 1416 170 1418.1 168.1 1420.3 166.3 1422.4 164.5 1424.5 162.8 1426.6 161.1 1428.7 159.5 1430.8 157.9 1432.9 156.3 1435.1 154.7 1437.2 153.2 1439.3 151.8 1441.4 150.3 1443.5 148.9 1445.6 147.5 1447.8 146.1 1449.9 144.8 1452 143.5 1454.1 142.2 1456.2 140.9 1458.3 139.6 1460.4 138.3 1462.6 137.1 1464.7 135.9 1466.8 134.7 1468.9 133.5 1471 132.3 1473.1 131.2 1475.2 130 1477.4 128.9 1479.5 127.8 1481.6 126.7 1483.7 125.6 1485.8 124.5 1487.9 123.5 1490 122.4 1492.2 121.4 1494.3 120.3 1496.4 119.3 1498.5 118.3 1500.6 117.3 1502.7 116.3 1504.9 115.3 1507 114.3 1509.1 113.3 1511.2 112.3 1513.3 111.4 1515.4 110.4 1517.5 109.5 1519.7 108.6 1521.8 107.6 1523.9 106.7 1526 105.8 1528.1 104.9 1530.2 104 1532.3 103.1 1534.5 102.2 1536.6 101.3 1538.7 100.5 1540.8 99.6 1542.9 98.7 1545 97.9 1547.2 97 1549.3 96.2 1551.4 95.3 1553.5 94.5 1555.6 93.7 1557.7 92.8 1559.8 92 1562 91.2 1564.1 90.4 1566.2 89.6 1568.3 88.8 1570.4 88 1572.5 87.2 1574.7 86.4 1576.8 85.6 1578.9 84.9 1581 84.1 1583.1 83.3 1585.2 82.6 1587.3 81.8 1589.5 81 1591.6 80.3 1593.7 79.5 1595.8 78.8" fill="none" stroke="#1a1a1a" stroke-width="2.8" stroke-linejoin="round" stroke-dasharray="11.5 5 2.5 5" stroke-linecap="butt"/>
<path d="M1172.8 320.9 1384.3 227.7 1595.8 143" fill="none" stroke="#1a1a1a" stroke-width="2.8" stroke-linejoin="round" stroke-dasharray="11.5 5 2.5 5" stroke-linecap="butt"/>
<path d="M1320.8 234.2V256.5M1318.2 234.2h5.2M1318.2 256.5h5.2M1326.3 226.0V251.7M1323.7 226.0h5.2M1323.7 251.7h5.2M1331.8 233.2V250.3M1329.2 233.2h5.2M1329.2 250.3h5.2M1337.3 224.8V253.9M1334.7 224.8h5.2M1334.7 253.9h5.2M1342.8 220.5V251.9M1340.2 220.5h5.2M1340.2 251.9h5.2M1348.3 219.1V242.9M1345.7 219.1h5.2M1345.7 242.9h5.2M1353.8 216.0V242.2M1351.2 216.0h5.2M1351.2 242.2h5.2M1359.3 222.6V241.8M1356.7 222.6h5.2M1356.7 241.8h5.2M1364.8 218.8V243.3M1362.2 218.8h5.2M1362.2 243.3h5.2M1370.3 215.4V243.1M1367.7 215.4h5.2M1367.7 243.1h5.2M1375.8 208.1V236.1M1373.2 208.1h5.2M1373.2 236.1h5.2M1381.3 207.4V232.9M1378.7 207.4h5.2M1378.7 232.9h5.2" stroke="#f0a090" stroke-width="1.3" fill="none"/>
<circle cx="1320.8" cy="245.4" r="2.2" fill="#fff" stroke="#e88a78" stroke-width="1.2"/><circle cx="1326.3" cy="238.8" r="2.2" fill="#fff" stroke="#e88a78" stroke-width="1.2"/><circle cx="1331.8" cy="241.8" r="2.2" fill="#fff" stroke="#e88a78" stroke-width="1.2"/><circle cx="1337.3" cy="239.4" r="2.2" fill="#fff" stroke="#e88a78" stroke-width="1.2"/><circle cx="1342.8" cy="236.2" r="2.2" fill="#fff" stroke="#e88a78" stroke-width="1.2"/><circle cx="1348.3" cy="231.0" r="2.2" fill="#fff" stroke="#e88a78" stroke-width="1.2"/><circle cx="1353.8" cy="229.1" r="2.2" fill="#fff" stroke="#e88a78" stroke-width="1.2"/><circle cx="1359.3" cy="232.2" r="2.2" fill="#fff" stroke="#e88a78" stroke-width="1.2"/><circle cx="1364.8" cy="231.1" r="2.2" fill="#fff" stroke="#e88a78" stroke-width="1.2"/><circle cx="1370.3" cy="229.3" r="2.2" fill="#fff" stroke="#e88a78" stroke-width="1.2"/><circle cx="1375.8" cy="222.1" r="2.2" fill="#fff" stroke="#e88a78" stroke-width="1.2"/><circle cx="1381.3" cy="220.2" r="2.2" fill="#fff" stroke="#e88a78" stroke-width="1.2"/>
<path d="M1388.5 217.7V252.4M1385.9 217.7h5.2M1385.9 252.4h5.2M1394.0 216.8V244.8M1391.4 216.8h5.2M1391.4 244.8h5.2M1399.5 216.6V248.8M1396.9 216.6h5.2M1396.9 248.8h5.2M1405.0 223.0V258.7M1402.4 223.0h5.2M1402.4 258.7h5.2M1410.5 221.1V248.6M1407.9 221.1h5.2M1407.9 248.6h5.2M1416.0 198.5V234.4M1413.4 198.5h5.2M1413.4 234.4h5.2M1421.5 208.1V230.4M1418.9 208.1h5.2M1418.9 230.4h5.2M1427.0 209.3V232.9M1424.4 209.3h5.2M1424.4 232.9h5.2M1432.5 194.9V225.6M1429.9 194.9h5.2M1429.9 225.6h5.2M1438.0 203.7V228.7M1435.4 203.7h5.2M1435.4 228.7h5.2M1443.5 205.9V231.8M1440.9 205.9h5.2M1440.9 231.8h5.2M1449.0 195.7V225.6M1446.4 195.7h5.2M1446.4 225.6h5.2M1454.5 204.3V235.9M1451.9 204.3h5.2M1451.9 235.9h5.2M1460.0 195.0V230.8M1457.4 195.0h5.2M1457.4 230.8h5.2" stroke="#f0a090" stroke-width="1.3" fill="none"/>
<circle cx="1388.5" cy="235.1" r="2.2" fill="#fff" stroke="#e88a78" stroke-width="1.2"/><circle cx="1394.0" cy="230.8" r="2.2" fill="#fff" stroke="#e88a78" stroke-width="1.2"/><circle cx="1399.5" cy="232.7" r="2.2" fill="#fff" stroke="#e88a78" stroke-width="1.2"/><circle cx="1405.0" cy="240.8" r="2.2" fill="#fff" stroke="#e88a78" stroke-width="1.2"/><circle cx="1410.5" cy="234.8" r="2.2" fill="#fff" stroke="#e88a78" stroke-width="1.2"/><circle cx="1416.0" cy="216.5" r="2.2" fill="#fff" stroke="#e88a78" stroke-width="1.2"/><circle cx="1421.5" cy="219.2" r="2.2" fill="#fff" stroke="#e88a78" stroke-width="1.2"/><circle cx="1427.0" cy="221.1" r="2.2" fill="#fff" stroke="#e88a78" stroke-width="1.2"/><circle cx="1432.5" cy="210.2" r="2.2" fill="#fff" stroke="#e88a78" stroke-width="1.2"/><circle cx="1438.0" cy="216.2" r="2.2" fill="#fff" stroke="#e88a78" stroke-width="1.2"/><circle cx="1443.5" cy="218.8" r="2.2" fill="#fff" stroke="#e88a78" stroke-width="1.2"/><circle cx="1449.0" cy="210.6" r="2.2" fill="#fff" stroke="#e88a78" stroke-width="1.2"/><circle cx="1454.5" cy="220.1" r="2.2" fill="#fff" stroke="#e88a78" stroke-width="1.2"/><circle cx="1460.0" cy="212.9" r="2.2" fill="#fff" stroke="#e88a78" stroke-width="1.2"/>
<path d="M1272.2 242.8V266.4M1269.6 242.8h5.2M1269.6 266.4h5.2M1280.2 254.8V271.9M1277.6 254.8h5.2M1277.6 271.9h5.2M1288.3 235.0V261.5M1285.7 235.0h5.2M1285.7 261.5h5.2M1296.3 243.9V266.2M1293.7 243.9h5.2M1293.7 266.2h5.2M1304.4 233.5V259.1M1301.8 233.5h5.2M1301.8 259.1h5.2M1312.4 233.1V255.4M1309.8 233.1h5.2M1309.8 255.4h5.2M1320.4 226.1V251.9M1317.8 226.1h5.2M1317.8 251.9h5.2M1328.5 220.4V248.0M1325.9 220.4h5.2M1325.9 248.0h5.2M1336.5 217.2V237.4M1333.9 217.2h5.2M1333.9 237.4h5.2" stroke="#3a3a3a" stroke-width="1.3" fill="none"/>
<circle cx="1272.2" cy="254.6" r="2.6" fill="#fff" stroke="#2a2a2a" stroke-width="1.2"/><circle cx="1280.2" cy="263.3" r="2.6" fill="#fff" stroke="#2a2a2a" stroke-width="1.2"/><circle cx="1288.3" cy="248.2" r="2.6" fill="#fff" stroke="#2a2a2a" stroke-width="1.2"/><circle cx="1296.3" cy="255.0" r="2.6" fill="#fff" stroke="#2a2a2a" stroke-width="1.2"/><circle cx="1304.4" cy="246.3" r="2.6" fill="#fff" stroke="#2a2a2a" stroke-width="1.2"/><circle cx="1312.4" cy="244.2" r="2.6" fill="#fff" stroke="#2a2a2a" stroke-width="1.2"/><circle cx="1320.4" cy="239.0" r="2.6" fill="#fff" stroke="#2a2a2a" stroke-width="1.2"/><circle cx="1328.5" cy="234.2" r="2.6" fill="#fff" stroke="#2a2a2a" stroke-width="1.2"/><circle cx="1336.5" cy="227.3" r="2.6" fill="#fff" stroke="#2a2a2a" stroke-width="1.2"/>
<path d="M1333.5 234.6V245.9M1330.9 234.6h5.2M1330.9 245.9h5.2M1340.3 232.6V250.0M1337.7 232.6h5.2M1337.7 250.0h5.2M1347.1 227.1V237.5M1344.5 227.1h5.2M1344.5 237.5h5.2M1353.8 226.6V242.7M1351.2 226.6h5.2M1351.2 242.7h5.2M1360.6 225.2V238.0M1358.0 225.2h5.2M1358.0 238.0h5.2M1367.4 215.0V229.3M1364.8 215.0h5.2M1364.8 229.3h5.2M1374.1 221.3V239.7M1371.5 221.3h5.2M1371.5 239.7h5.2" stroke="#3a3a3a" stroke-width="1.3" fill="none"/>
<circle cx="1333.5" cy="240.3" r="2.0" fill="#fff" stroke="#2a2a2a" stroke-width="1.2"/><circle cx="1340.3" cy="241.3" r="2.0" fill="#fff" stroke="#2a2a2a" stroke-width="1.2"/><circle cx="1347.1" cy="232.3" r="2.0" fill="#fff" stroke="#2a2a2a" stroke-width="1.2"/><circle cx="1353.8" cy="234.7" r="2.0" fill="#fff" stroke="#2a2a2a" stroke-width="1.2"/><circle cx="1360.6" cy="231.6" r="2.0" fill="#fff" stroke="#2a2a2a" stroke-width="1.2"/><circle cx="1367.4" cy="222.2" r="2.0" fill="#fff" stroke="#2a2a2a" stroke-width="1.2"/><circle cx="1374.1" cy="230.5" r="2.0" fill="#fff" stroke="#2a2a2a" stroke-width="1.2"/>
<path d="M1397.0 222.7V249.8M1394.4 222.7h5.2M1394.4 249.8h5.2M1405.0 220.9V239.3M1402.4 220.9h5.2M1402.4 239.3h5.2M1413.1 213.4V240.8M1410.5 213.4h5.2M1410.5 240.8h5.2M1421.1 210.1V230.4M1418.5 210.1h5.2M1418.5 230.4h5.2M1429.1 200.1V222.9M1426.5 200.1h5.2M1426.5 222.9h5.2M1437.2 200.0V232.7M1434.6 200.0h5.2M1434.6 232.7h5.2M1445.2 199.2V224.2M1442.6 199.2h5.2M1442.6 224.2h5.2M1453.2 203.3V229.2M1450.6 203.3h5.2M1450.6 229.2h5.2" stroke="#3a3a3a" stroke-width="1.3" fill="none"/>
<circle cx="1397.0" cy="236.3" r="2.6" fill="#fff" stroke="#2a2a2a" stroke-width="1.2"/><circle cx="1405.0" cy="230.1" r="2.6" fill="#fff" stroke="#2a2a2a" stroke-width="1.2"/><circle cx="1413.1" cy="227.1" r="2.6" fill="#fff" stroke="#2a2a2a" stroke-width="1.2"/><circle cx="1421.1" cy="220.3" r="2.6" fill="#fff" stroke="#2a2a2a" stroke-width="1.2"/><circle cx="1429.1" cy="211.5" r="2.6" fill="#fff" stroke="#2a2a2a" stroke-width="1.2"/><circle cx="1437.2" cy="216.3" r="2.6" fill="#fff" stroke="#2a2a2a" stroke-width="1.2"/><circle cx="1445.2" cy="211.7" r="2.6" fill="#fff" stroke="#2a2a2a" stroke-width="1.2"/><circle cx="1453.2" cy="216.3" r="2.6" fill="#fff" stroke="#2a2a2a" stroke-width="1.2"/>
<path d="M1193.9 350.4V400.5M1191.3 350.4h5.2M1191.3 400.5h5.2M1202.2 347.1V399.0M1199.6 347.1h5.2M1199.6 399.0h5.2M1210.4 337.2V383.6M1207.8 337.2h5.2M1207.8 383.6h5.2M1218.7 336.1V390.9M1216.1 336.1h5.2M1216.1 390.9h5.2M1226.9 326.6V388.9M1224.3 326.6h5.2M1224.3 388.9h5.2M1235.2 326.2V375.2M1232.6 326.2h5.2M1232.6 375.2h5.2M1243.4 328.2V374.1M1240.8 328.2h5.2M1240.8 374.1h5.2M1251.7 321.5V372.2M1249.1 321.5h5.2M1249.1 372.2h5.2M1259.9 310.6V362.9M1257.3 310.6h5.2M1257.3 362.9h5.2M1268.2 319.9V355.5M1265.6 319.9h5.2M1265.6 355.5h5.2M1276.4 310.7V364.3M1273.8 310.7h5.2M1273.8 364.3h5.2M1284.7 311.0V355.1M1282.1 311.0h5.2M1282.1 355.1h5.2M1292.9 309.6V344.1M1290.3 309.6h5.2M1290.3 344.1h5.2M1301.2 309.0V344.6M1298.6 309.0h5.2M1298.6 344.6h5.2M1309.4 299.3V340.4M1306.8 299.3h5.2M1306.8 340.4h5.2M1317.7 295.8V342.9M1315.1 295.8h5.2M1315.1 342.9h5.2M1325.9 284.7V329.1M1323.3 284.7h5.2M1323.3 329.1h5.2M1334.2 278.1V321.1M1331.6 278.1h5.2M1331.6 321.1h5.2M1342.4 273.4V316.0M1339.8 273.4h5.2M1339.8 316.0h5.2M1350.7 256.7V301.6M1348.1 256.7h5.2M1348.1 301.6h5.2M1358.9 249.6V300.0M1356.3 249.6h5.2M1356.3 300.0h5.2M1367.2 238.4V293.6M1364.6 238.4h5.2M1364.6 293.6h5.2M1375.4 224.7V281.9M1372.8 224.7h5.2M1372.8 281.9h5.2" stroke="#ee8a80" stroke-width="1.3" fill="none"/>
<path d="M1193.9 372.4l3.0 3.0l-3.0 3.0l-3.0 -3.0z" fill="#e0201e"/><path d="M1202.2 370.1l3.0 3.0l-3.0 3.0l-3.0 -3.0z" fill="#e0201e"/><path d="M1210.4 357.4l3.0 3.0l-3.0 3.0l-3.0 -3.0z" fill="#e0201e"/><path d="M1218.7 360.5l3.0 3.0l-3.0 3.0l-3.0 -3.0z" fill="#e0201e"/><path d="M1226.9 354.7l3.0 3.0l-3.0 3.0l-3.0 -3.0z" fill="#e0201e"/><path d="M1235.2 347.7l3.0 3.0l-3.0 3.0l-3.0 -3.0z" fill="#e0201e"/><path d="M1243.4 348.2l3.0 3.0l-3.0 3.0l-3.0 -3.0z" fill="#e0201e"/><path d="M1251.7 343.8l3.0 3.0l-3.0 3.0l-3.0 -3.0z" fill="#e0201e"/><path d="M1259.9 333.8l3.0 3.0l-3.0 3.0l-3.0 -3.0z" fill="#e0201e"/><path d="M1268.2 334.7l3.0 3.0l-3.0 3.0l-3.0 -3.0z" fill="#e0201e"/><path d="M1276.4 334.5l3.0 3.0l-3.0 3.0l-3.0 -3.0z" fill="#e0201e"/><path d="M1284.7 330.1l3.0 3.0l-3.0 3.0l-3.0 -3.0z" fill="#e0201e"/><path d="M1292.9 323.8l3.0 3.0l-3.0 3.0l-3.0 -3.0z" fill="#e0201e"/><path d="M1301.2 323.8l3.0 3.0l-3.0 3.0l-3.0 -3.0z" fill="#e0201e"/><path d="M1309.4 316.9l3.0 3.0l-3.0 3.0l-3.0 -3.0z" fill="#e0201e"/><path d="M1317.7 316.3l3.0 3.0l-3.0 3.0l-3.0 -3.0z" fill="#e0201e"/><path d="M1325.9 303.9l3.0 3.0l-3.0 3.0l-3.0 -3.0z" fill="#e0201e"/><path d="M1334.2 296.6l3.0 3.0l-3.0 3.0l-3.0 -3.0z" fill="#e0201e"/><path d="M1342.4 291.7l3.0 3.0l-3.0 3.0l-3.0 -3.0z" fill="#e0201e"/><path d="M1350.7 276.1l3.0 3.0l-3.0 3.0l-3.0 -3.0z" fill="#e0201e"/><path d="M1358.9 271.8l3.0 3.0l-3.0 3.0l-3.0 -3.0z" fill="#e0201e"/><path d="M1367.2 263.0l3.0 3.0l-3.0 3.0l-3.0 -3.0z" fill="#e0201e"/><path d="M1375.4 250.3l3.0 3.0l-3.0 3.0l-3.0 -3.0z" fill="#e0201e"/>
<path d="M1265.9 348.5V372.5M1263.3 348.5h5.2M1263.3 372.5h5.2M1273.9 341.7V373.6M1271.3 341.7h5.2M1271.3 373.6h5.2M1281.9 339.6V361.3M1279.3 339.6h5.2M1279.3 361.3h5.2M1290.0 335.8V369.9M1287.4 335.8h5.2M1287.4 369.9h5.2M1298.0 328.4V355.9M1295.4 328.4h5.2M1295.4 355.9h5.2M1306.0 326.6V352.3M1303.4 326.6h5.2M1303.4 352.3h5.2M1314.1 323.0V354.0M1311.5 323.0h5.2M1311.5 354.0h5.2M1322.1 314.7V338.4M1319.5 314.7h5.2M1319.5 338.4h5.2M1330.2 317.4V339.4M1327.6 317.4h5.2M1327.6 339.4h5.2M1338.2 304.9V338.6M1335.6 304.9h5.2M1335.6 338.6h5.2M1346.2 295.1V329.4M1343.6 295.1h5.2M1343.6 329.4h5.2" stroke="#8088d8" stroke-width="1.3" fill="none"/>
<path d="M1265.9 357.1l3.4 5.8h-6.8z" fill="#2238b0"/><path d="M1273.9 354.2l3.4 5.8h-6.8z" fill="#2238b0"/><path d="M1281.9 347.0l3.4 5.8h-6.8z" fill="#2238b0"/><path d="M1290.0 349.4l3.4 5.8h-6.8z" fill="#2238b0"/><path d="M1298.0 338.8l3.4 5.8h-6.8z" fill="#2238b0"/><path d="M1306.0 336.0l3.4 5.8h-6.8z" fill="#2238b0"/><path d="M1314.1 335.1l3.4 5.8h-6.8z" fill="#2238b0"/><path d="M1322.1 323.2l3.4 5.8h-6.8z" fill="#2238b0"/><path d="M1330.2 325.0l3.4 5.8h-6.8z" fill="#2238b0"/><path d="M1338.2 318.3l3.4 5.8h-6.8z" fill="#2238b0"/><path d="M1346.2 308.9l3.4 5.8h-6.8z" fill="#2238b0"/>
<path d="M1388.5 199.0V227.6M1385.9 199.0h5.2M1385.9 227.6h5.2M1395.1 185.3V211.5M1392.5 185.3h5.2M1392.5 211.5h5.2M1401.6 182.4V201.2M1399.0 182.4h5.2M1399.0 201.2h5.2M1408.2 180.5V201.7M1405.6 180.5h5.2M1405.6 201.7h5.2M1414.8 167.5V189.5M1412.2 167.5h5.2M1412.2 189.5h5.2M1421.3 166.8V189.8M1418.7 166.8h5.2M1418.7 189.8h5.2M1427.9 158.6V188.9M1425.3 158.6h5.2M1425.3 188.9h5.2M1434.4 151.3V170.5M1431.8 151.3h5.2M1431.8 170.5h5.2M1441.0 130.7V160.4M1438.4 130.7h5.2M1438.4 160.4h5.2M1447.5 138.8V170.0M1444.9 138.8h5.2M1444.9 170.0h5.2M1454.1 148.3V178.7M1451.5 148.3h5.2M1451.5 178.7h5.2" stroke="#8088d8" stroke-width="1.3" fill="none"/>
<path d="M1388.5 209.9l3.4 5.8h-6.8z" fill="#2238b0"/><path d="M1395.1 195.0l3.4 5.8h-6.8z" fill="#2238b0"/><path d="M1401.6 188.4l3.4 5.8h-6.8z" fill="#2238b0"/><path d="M1408.2 187.7l3.4 5.8h-6.8z" fill="#2238b0"/><path d="M1414.8 175.1l3.4 5.8h-6.8z" fill="#2238b0"/><path d="M1421.3 174.9l3.4 5.8h-6.8z" fill="#2238b0"/><path d="M1427.9 170.4l3.4 5.8h-6.8z" fill="#2238b0"/><path d="M1434.4 157.5l3.4 5.8h-6.8z" fill="#2238b0"/><path d="M1441.0 142.1l3.4 5.8h-6.8z" fill="#2238b0"/><path d="M1447.5 151.0l3.4 5.8h-6.8z" fill="#2238b0"/><path d="M1454.1 160.1l3.4 5.8h-6.8z" fill="#2238b0"/>
<path d="M1278.5 324.8V341.4M1276.0 324.8h5.2M1276.0 341.4h5.2M1285.3 324.4V346.2M1282.7 324.4h5.2M1282.7 346.2h5.2M1292.1 331.9V352.1M1289.5 331.9h5.2M1289.5 352.1h5.2M1298.9 320.1V336.8M1296.3 320.1h5.2M1296.3 336.8h5.2M1305.6 310.6V325.4M1303.0 310.6h5.2M1303.0 325.4h5.2M1312.4 310.9V334.5M1309.8 310.9h5.2M1309.8 334.5h5.2M1319.2 309.4V323.9M1316.6 309.4h5.2M1316.6 323.9h5.2M1325.9 289.7V314.7M1323.3 289.7h5.2M1323.3 314.7h5.2M1332.7 297.0V321.7M1330.1 297.0h5.2M1330.1 321.7h5.2M1339.5 285.9V300.0M1336.9 285.9h5.2M1336.9 300.0h5.2M1346.2 286.1V309.0M1343.6 286.1h5.2M1343.6 309.0h5.2M1353.0 273.6V295.5M1350.4 273.6h5.2M1350.4 295.5h5.2" stroke="#40b080" stroke-width="1.3" fill="none"/>
<path d="M1278.5 330.3l2.8 2.8l-2.8 2.8l-2.8 -2.8z" fill="#0a8a50"/><path d="M1285.3 332.5l2.8 2.8l-2.8 2.8l-2.8 -2.8z" fill="#0a8a50"/><path d="M1292.1 339.2l2.8 2.8l-2.8 2.8l-2.8 -2.8z" fill="#0a8a50"/><path d="M1298.9 325.6l2.8 2.8l-2.8 2.8l-2.8 -2.8z" fill="#0a8a50"/><path d="M1305.6 315.2l2.8 2.8l-2.8 2.8l-2.8 -2.8z" fill="#0a8a50"/><path d="M1312.4 319.9l2.8 2.8l-2.8 2.8l-2.8 -2.8z" fill="#0a8a50"/><path d="M1319.2 313.9l2.8 2.8l-2.8 2.8l-2.8 -2.8z" fill="#0a8a50"/><path d="M1325.9 299.4l2.8 2.8l-2.8 2.8l-2.8 -2.8z" fill="#0a8a50"/><path d="M1332.7 306.6l2.8 2.8l-2.8 2.8l-2.8 -2.8z" fill="#0a8a50"/><path d="M1339.5 290.1l2.8 2.8l-2.8 2.8l-2.8 -2.8z" fill="#0a8a50"/><path d="M1346.2 294.8l2.8 2.8l-2.8 2.8l-2.8 -2.8z" fill="#0a8a50"/><path d="M1353.0 281.7l2.8 2.8l-2.8 2.8l-2.8 -2.8z" fill="#0a8a50"/>
<path d="M1397.0 172.6V190.0M1394.4 172.6h5.2M1394.4 190.0h5.2M1405.5 177.3V195.6M1402.9 177.3h5.2M1402.9 195.6h5.2M1413.9 151.6V167.1M1411.3 151.6h5.2M1411.3 167.1h5.2M1422.4 150.6V167.4M1419.8 150.6h5.2M1419.8 167.4h5.2" stroke="#40b080" stroke-width="1.3" fill="none"/>
<path d="M1397.0 178.7l2.6 2.6l-2.6 2.6l-2.6 -2.6z" fill="#0a8a50"/><path d="M1405.5 183.9l2.6 2.6l-2.6 2.6l-2.6 -2.6z" fill="#0a8a50"/><path d="M1413.9 156.7l2.6 2.6l-2.6 2.6l-2.6 -2.6z" fill="#0a8a50"/><path d="M1422.4 156.4l2.6 2.6l-2.6 2.6l-2.6 -2.6z" fill="#0a8a50"/>
<path d="M1295.5 294.1V327.4M1292.9 294.1h5.2M1292.9 327.4h5.2M1301.4 297.7V326.8M1298.8 297.7h5.2M1298.8 326.8h5.2M1307.3 289.7V323.6M1304.7 289.7h5.2M1304.7 323.6h5.2M1313.2 284.3V320.0M1310.6 284.3h5.2M1310.6 320.0h5.2M1319.2 279.8V313.5M1316.6 279.8h5.2M1316.6 313.5h5.2M1325.1 280.4V311.0M1322.5 280.4h5.2M1322.5 311.0h5.2" stroke="#333" stroke-width="1.3" fill="none"/>
<rect x="1292.9" y="308.1" width="5.2" height="5.2" fill="#0a0a0a"/><rect x="1298.8" y="309.7" width="5.2" height="5.2" fill="#0a0a0a"/><rect x="1304.7" y="304.0" width="5.2" height="5.2" fill="#0a0a0a"/><rect x="1310.6" y="299.6" width="5.2" height="5.2" fill="#0a0a0a"/><rect x="1316.6" y="294.0" width="5.2" height="5.2" fill="#0a0a0a"/><rect x="1322.5" y="293.1" width="5.2" height="5.2" fill="#0a0a0a"/>
<path d="M1350.5 282.3V303.1M1347.9 282.3h5.2M1347.9 303.1h5.2M1358.1 272.7V287.4M1355.5 272.7h5.2M1355.5 287.4h5.2M1365.7 265.4V282.7M1363.1 265.4h5.2M1363.1 282.7h5.2M1373.3 260.2V280.1M1370.7 260.2h5.2M1370.7 280.1h5.2M1380.9 239.1V251.1M1378.3 239.1h5.2M1378.3 251.1h5.2" stroke="#333" stroke-width="1.3" fill="none"/>
<circle cx="1350.5" cy="292.7" r="2.6" fill="#0a0a0a"/><circle cx="1358.1" cy="280.1" r="2.6" fill="#0a0a0a"/><circle cx="1365.7" cy="274.1" r="2.6" fill="#0a0a0a"/><circle cx="1373.3" cy="270.1" r="2.6" fill="#0a0a0a"/><circle cx="1380.9" cy="245.1" r="2.6" fill="#0a0a0a"/>
<path d="M1401.2 188.4V217.0M1398.6 188.4h5.2M1398.6 217.0h5.2M1409.3 181.8V209.2M1406.7 181.8h5.2M1406.7 209.2h5.2M1417.3 163.9V191.7M1414.7 163.9h5.2M1414.7 191.7h5.2M1425.3 165.3V202.3M1422.7 165.3h5.2M1422.7 202.3h5.2M1433.4 161.0V194.7M1430.8 161.0h5.2M1430.8 194.7h5.2M1441.4 145.6V185.8M1438.8 145.6h5.2M1438.8 185.8h5.2M1449.4 154.5V184.7M1446.8 154.5h5.2M1446.8 184.7h5.2" stroke="#333" stroke-width="1.3" fill="none"/>
<circle cx="1401.2" cy="202.7" r="2.8" fill="#0a0a0a"/><circle cx="1409.3" cy="195.5" r="2.8" fill="#0a0a0a"/><circle cx="1417.3" cy="177.8" r="2.8" fill="#0a0a0a"/><circle cx="1425.3" cy="183.8" r="2.8" fill="#0a0a0a"/><circle cx="1433.4" cy="177.9" r="2.8" fill="#0a0a0a"/><circle cx="1441.4" cy="165.7" r="2.8" fill="#0a0a0a"/><circle cx="1449.4" cy="169.6" r="2.8" fill="#0a0a0a"/>
<path d="M1348.3 277.3V285.0M1345.7 277.3h5.2M1345.7 285.0h5.2M1349.9 268.0V277.7M1347.3 268.0h5.2M1347.3 277.7h5.2M1351.4 266.6V274.5M1348.8 266.6h5.2M1348.8 274.5h5.2M1352.9 265.7V273.6M1350.3 265.7h5.2M1350.3 273.6h5.2M1354.4 263.8V272.9M1351.8 263.8h5.2M1351.8 272.9h5.2M1356.0 261.4V271.5M1353.4 261.4h5.2M1353.4 271.5h5.2M1357.5 264.4V273.6M1354.9 264.4h5.2M1354.9 273.6h5.2M1359.0 262.1V270.6M1356.4 262.1h5.2M1356.4 270.6h5.2M1360.5 253.7V263.3M1357.9 253.7h5.2M1357.9 263.3h5.2M1362.1 259.5V267.8M1359.5 259.5h5.2M1359.5 267.8h5.2M1363.6 248.7V256.0M1361.0 248.7h5.2M1361.0 256.0h5.2M1365.1 256.4V262.7M1362.5 256.4h5.2M1362.5 262.7h5.2M1366.6 248.2V256.3M1364.0 248.2h5.2M1364.0 256.3h5.2M1368.1 250.9V261.7M1365.5 250.9h5.2M1365.5 261.7h5.2M1369.7 238.2V246.1M1367.1 238.2h5.2M1367.1 246.1h5.2M1371.2 234.0V241.3M1368.6 234.0h5.2M1368.6 241.3h5.2M1372.7 241.7V250.1M1370.1 241.7h5.2M1370.1 250.1h5.2M1374.2 228.7V238.1M1371.6 228.7h5.2M1371.6 238.1h5.2M1375.8 225.9V236.4M1373.2 225.9h5.2M1373.2 236.4h5.2M1377.3 227.8V237.5M1374.7 227.8h5.2M1374.7 237.5h5.2M1378.8 233.6V242.5M1376.2 233.6h5.2M1376.2 242.5h5.2M1380.3 222.1V228.1M1377.7 222.1h5.2M1377.7 228.1h5.2M1381.8 220.4V227.2M1379.2 220.4h5.2M1379.2 227.2h5.2M1383.4 221.5V227.9M1380.8 221.5h5.2M1380.8 227.9h5.2M1384.9 220.5V227.0M1382.3 220.5h5.2M1382.3 227.0h5.2M1386.4 215.1V221.2M1383.8 215.1h5.2M1383.8 221.2h5.2M1387.9 214.5V224.8M1385.3 214.5h5.2M1385.3 224.8h5.2M1389.5 204.8V214.2M1386.9 204.8h5.2M1386.9 214.2h5.2M1391.0 202.3V212.5M1388.4 202.3h5.2M1388.4 212.5h5.2M1392.5 200.3V210.4M1389.9 200.3h5.2M1389.9 210.4h5.2M1394.0 206.9V213.1M1391.4 206.9h5.2M1391.4 213.1h5.2M1395.6 200.6V210.3M1393.0 200.6h5.2M1393.0 210.3h5.2M1397.1 205.5V212.0M1394.5 205.5h5.2M1394.5 212.0h5.2M1398.6 198.2V204.5M1396.0 198.2h5.2M1396.0 204.5h5.2M1400.1 205.1V212.7M1397.5 205.1h5.2M1397.5 212.7h5.2M1401.6 200.4V207.6M1399.0 200.4h5.2M1399.0 207.6h5.2M1403.2 193.9V200.8M1400.6 193.9h5.2M1400.6 200.8h5.2M1404.7 187.0V196.8M1402.1 187.0h5.2M1402.1 196.8h5.2M1406.2 179.6V187.6M1403.6 179.6h5.2M1403.6 187.6h5.2M1407.7 186.2V193.9M1405.1 186.2h5.2M1405.1 193.9h5.2M1409.3 177.6V185.7M1406.7 177.6h5.2M1406.7 185.7h5.2M1410.8 172.6V183.6M1408.2 172.6h5.2M1408.2 183.6h5.2M1412.3 173.5V181.6M1409.7 173.5h5.2M1409.7 181.6h5.2M1413.8 173.0V182.5M1411.2 173.0h5.2M1411.2 182.5h5.2M1415.3 173.0V182.8M1412.7 173.0h5.2M1412.7 182.8h5.2" stroke="#b050c0" stroke-width="1.3" fill="none"/>
<path d="M1348.3 277.9l3.3 3.3l-3.3 3.3l-3.3 -3.3z" fill="#9a1aa8"/><path d="M1349.9 269.5l3.3 3.3l-3.3 3.3l-3.3 -3.3z" fill="#9a1aa8"/><path d="M1351.4 267.2l3.3 3.3l-3.3 3.3l-3.3 -3.3z" fill="#9a1aa8"/><path d="M1352.9 266.4l3.3 3.3l-3.3 3.3l-3.3 -3.3z" fill="#9a1aa8"/><path d="M1354.4 265.1l3.3 3.3l-3.3 3.3l-3.3 -3.3z" fill="#9a1aa8"/><path d="M1356.0 263.1l3.3 3.3l-3.3 3.3l-3.3 -3.3z" fill="#9a1aa8"/><path d="M1357.5 265.7l3.3 3.3l-3.3 3.3l-3.3 -3.3z" fill="#9a1aa8"/><path d="M1359.0 263.0l3.3 3.3l-3.3 3.3l-3.3 -3.3z" fill="#9a1aa8"/><path d="M1360.5 255.2l3.3 3.3l-3.3 3.3l-3.3 -3.3z" fill="#9a1aa8"/><path d="M1362.1 260.3l3.3 3.3l-3.3 3.3l-3.3 -3.3z" fill="#9a1aa8"/><path d="M1363.6 249.1l3.3 3.3l-3.3 3.3l-3.3 -3.3z" fill="#9a1aa8"/><path d="M1365.1 256.3l3.3 3.3l-3.3 3.3l-3.3 -3.3z" fill="#9a1aa8"/><path d="M1366.6 249.0l3.3 3.3l-3.3 3.3l-3.3 -3.3z" fill="#9a1aa8"/><path d="M1368.1 253.0l3.3 3.3l-3.3 3.3l-3.3 -3.3z" fill="#9a1aa8"/><path d="M1369.7 238.8l3.3 3.3l-3.3 3.3l-3.3 -3.3z" fill="#9a1aa8"/><path d="M1371.2 234.4l3.3 3.3l-3.3 3.3l-3.3 -3.3z" fill="#9a1aa8"/><path d="M1372.7 242.6l3.3 3.3l-3.3 3.3l-3.3 -3.3z" fill="#9a1aa8"/><path d="M1374.2 230.1l3.3 3.3l-3.3 3.3l-3.3 -3.3z" fill="#9a1aa8"/><path d="M1375.8 227.9l3.3 3.3l-3.3 3.3l-3.3 -3.3z" fill="#9a1aa8"/><path d="M1377.3 229.3l3.3 3.3l-3.3 3.3l-3.3 -3.3z" fill="#9a1aa8"/><path d="M1378.8 234.8l3.3 3.3l-3.3 3.3l-3.3 -3.3z" fill="#9a1aa8"/><path d="M1380.3 221.8l3.3 3.3l-3.3 3.3l-3.3 -3.3z" fill="#9a1aa8"/><path d="M1381.8 220.5l3.3 3.3l-3.3 3.3l-3.3 -3.3z" fill="#9a1aa8"/><path d="M1383.4 221.4l3.3 3.3l-3.3 3.3l-3.3 -3.3z" fill="#9a1aa8"/><path d="M1384.9 220.5l3.3 3.3l-3.3 3.3l-3.3 -3.3z" fill="#9a1aa8"/><path d="M1386.4 214.9l3.3 3.3l-3.3 3.3l-3.3 -3.3z" fill="#9a1aa8"/><path d="M1387.9 216.3l3.3 3.3l-3.3 3.3l-3.3 -3.3z" fill="#9a1aa8"/><path d="M1389.5 206.2l3.3 3.3l-3.3 3.3l-3.3 -3.3z" fill="#9a1aa8"/><path d="M1391.0 204.1l3.3 3.3l-3.3 3.3l-3.3 -3.3z" fill="#9a1aa8"/><path d="M1392.5 202.1l3.3 3.3l-3.3 3.3l-3.3 -3.3z" fill="#9a1aa8"/><path d="M1394.0 206.7l3.3 3.3l-3.3 3.3l-3.3 -3.3z" fill="#9a1aa8"/><path d="M1395.6 202.2l3.3 3.3l-3.3 3.3l-3.3 -3.3z" fill="#9a1aa8"/><path d="M1397.1 205.4l3.3 3.3l-3.3 3.3l-3.3 -3.3z" fill="#9a1aa8"/><path d="M1398.6 198.1l3.3 3.3l-3.3 3.3l-3.3 -3.3z" fill="#9a1aa8"/><path d="M1400.1 205.6l3.3 3.3l-3.3 3.3l-3.3 -3.3z" fill="#9a1aa8"/><path d="M1401.6 200.7l3.3 3.3l-3.3 3.3l-3.3 -3.3z" fill="#9a1aa8"/><path d="M1403.2 194.1l3.3 3.3l-3.3 3.3l-3.3 -3.3z" fill="#9a1aa8"/><path d="M1404.7 188.6l3.3 3.3l-3.3 3.3l-3.3 -3.3z" fill="#9a1aa8"/><path d="M1406.2 180.3l3.3 3.3l-3.3 3.3l-3.3 -3.3z" fill="#9a1aa8"/><path d="M1407.7 186.8l3.3 3.3l-3.3 3.3l-3.3 -3.3z" fill="#9a1aa8"/><path d="M1409.3 178.3l3.3 3.3l-3.3 3.3l-3.3 -3.3z" fill="#9a1aa8"/><path d="M1410.8 174.8l3.3 3.3l-3.3 3.3l-3.3 -3.3z" fill="#9a1aa8"/><path d="M1412.3 174.3l3.3 3.3l-3.3 3.3l-3.3 -3.3z" fill="#9a1aa8"/><path d="M1413.8 174.5l3.3 3.3l-3.3 3.3l-3.3 -3.3z" fill="#9a1aa8"/><path d="M1415.3 174.6l3.3 3.3l-3.3 3.3l-3.3 -3.3z" fill="#9a1aa8"/>
<path d="M1274.3 348.1 1276.4 346.9 1278.5 345.8 1280.7 344.7 1282.8 343.5 1284.9 342.3 1287 341.2 1289.1 340 1291.2 338.8 1293.4 337.5 1295.5 336.3 1297.6 335.1 1299.7 333.8 1301.8 332.5 1303.9 331.2 1306 329.9 1308.2 328.6 1310.3 327.2 1312.4 325.8 1314.5 324.5 1316.6 323 1318.7 321.6 1320.8 320.1 1323 318.7 1325.1 317.2 1327.2 315.6 1329.3 314.1 1331.4 312.5 1333.5 310.8 1335.7 309.2 1337.8 307.5 1339.9 305.7 1342 304 1344.1 302.1 1346.2 300.3 1348.3 298.3" fill="none" stroke="#0a0a0a" stroke-width="2.6" stroke-linejoin="round" stroke-dasharray="11 9"/>
<path d="M1388.5 206.6 1390.6 201.9 1392.8 197.9 1394.9 194.4 1397 191.2 1399.1 188.3 1401.2 185.6 1403.3 183 1405.5 180.6 1407.6 178.3 1409.7 176.1 1411.8 174 1413.9 172 1416 170 1418.1 168.1 1420.3 166.3 1422.4 164.5 1424.5 162.8 1426.6 161.1 1428.7 159.5 1430.8 157.9 1432.9 156.3 1435.1 154.7 1437.2 153.2 1439.3 151.8 1441.4 150.3 1443.5 148.9 1445.6 147.5 1447.8 146.1 1449.9 144.8" fill="none" stroke="#0a0a0a" stroke-width="2.6" stroke-linejoin="round" stroke-dasharray="9 14"/>
<path d="M1270.1 278 1342 246.3" fill="none" stroke="#0a0a0a" stroke-width="2.8" stroke-linejoin="round" stroke-dasharray="10 14"/>
<path d="M1401.2 220.9 1464.7 195.5" fill="none" stroke="#0a0a0a" stroke-width="2.8" stroke-linejoin="round" stroke-dasharray="9 13"/>
</g><rect x="1173" y="55" width="423" height="352" fill="none" stroke="#2c2c2c" stroke-width="2.6"/>
<text x="1168" y="437.5" font-size="32" text-anchor="middle" class="s" fill="#3a3a3a" textLength="37" lengthAdjust="spacingAndGlyphs">-50</text>
<text x="1274" y="437.5" font-size="32" text-anchor="middle" class="s" fill="#3a3a3a" textLength="37" lengthAdjust="spacingAndGlyphs">-25</text>
<text x="1383.5" y="437.5" font-size="32" text-anchor="middle" class="s" fill="#3a3a3a">0</text>
<text x="1489.5" y="437.5" font-size="32" text-anchor="middle" class="s" fill="#3a3a3a" textLength="30" lengthAdjust="spacingAndGlyphs">25</text>
<text x="1595" y="437.5" font-size="32" text-anchor="middle" class="s" fill="#3a3a3a" textLength="30" lengthAdjust="spacingAndGlyphs">50</text>
<text x="1609.5" y="97" font-size="31" class="s" fill="#3a3a3a" textLength="45" lengthAdjust="spacingAndGlyphs">200</text>
<text x="1609.5" y="238.5" font-size="31" class="s" fill="#3a3a3a">0</text>
<text x="1602.5" y="381.5" font-size="31" class="s" fill="#3a3a3a" textLength="54" lengthAdjust="spacingAndGlyphs">-200</text>
<text transform="translate(1653 167) rotate(90)" font-size="36" class="m" fill="#111" textLength="154" lengthAdjust="spacingAndGlyphs">E<tspan font-size="24" dy="8">F</tspan><tspan dy="-8"> (meV)</tspan></text>
<text x="1278.5" y="481" font-size="37" class="m" fill="#111" textLength="236" lengthAdjust="spacingAndGlyphs">V<tspan font-size="25" dy="8">G</tspan><tspan dy="-8"> − V</tspan><tspan font-size="25" dy="8">Dirac</tspan><tspan dy="-8" font-style="normal">(</tspan>V<tspan font-style="normal">)</tspan></text>
<text x="1457" y="98.3" font-size="25" class="b" fill="#0a0a0a" textLength="69" lengthAdjust="spacingAndGlyphs">1L-Gr</text>
<text x="1511.2" y="211" font-size="25" class="b" fill="#0a0a0a" textLength="69" lengthAdjust="spacingAndGlyphs">2L-Gr</text>
<text x="1190.5" y="104.3" font-size="34" class="b" textLength="17.5" lengthAdjust="spacingAndGlyphs">c</text>
<path d="M184.9 687.8 L453.0 687.8 L471.8 723.3 L156.7 723.3Z" fill="#4b2a7c"/>
<rect x="156.5" y="717.5" width="315.5" height="25" rx="6" fill="url(#dslab)"/>
<line x1="172" y1="726.5" x2="240" y2="726.5" stroke="#c9a0e0" stroke-width="1.2" opacity="0.8"/>
<path d="M182.8 683.7 L448.9 683.7 L460.3 710.8 L171.3 710.8Z" fill="#e2e6f0" opacity=".8"/>
<line x1="176.3" y1="687" x2="151.9" y2="711" stroke="#9a9eb8" stroke-width="1.0"/>
<line x1="166.3" y1="687" x2="161.9" y2="711" stroke="#a4a8c0" stroke-width="0.9"/>
<line x1="176.8" y1="688" x2="162.4" y2="710" stroke="#fdfdff" stroke-width="2.8" stroke-dasharray="0.1 5.2" stroke-linecap="round"/>
<line x1="171.3" y1="689" x2="156.9" y2="712" stroke="#39a6d6" stroke-width="3.4" stroke-dasharray="0.1 7" stroke-linecap="round" opacity=".85"/>
<line x1="188.2" y1="687" x2="164.9" y2="711" stroke="#9a9eb8" stroke-width="1.0"/>
<line x1="178.2" y1="687" x2="174.9" y2="711" stroke="#a4a8c0" stroke-width="0.9"/>
<line x1="188.7" y1="688" x2="175.4" y2="710" stroke="#fdfdff" stroke-width="2.8" stroke-dasharray="0.1 5.2" stroke-linecap="round"/>
<line x1="183.2" y1="689" x2="169.9" y2="712" stroke="#39a6d6" stroke-width="3.4" stroke-dasharray="0.1 7" stroke-linecap="round" opacity=".85"/>
<line x1="200.1" y1="687" x2="178.0" y2="711" stroke="#9a9eb8" stroke-width="1.0"/>
<line x1="190.1" y1="687" x2="188.0" y2="711" stroke="#a4a8c0" stroke-width="0.9"/>
<line x1="200.6" y1="688" x2="188.5" y2="710" stroke="#fdfdff" stroke-width="2.8" stroke-dasharray="0.1 5.2" stroke-linecap="round"/>
<line x1="195.1" y1="689" x2="183.0" y2="712" stroke="#39a6d6" stroke-width="3.4" stroke-dasharray="0.1 7" stroke-linecap="round" opacity=".85"/>
<line x1="212.0" y1="687" x2="191.0" y2="711" stroke="#9a9eb8" stroke-width="1.0"/>
<line x1="202.0" y1="687" x2="201.0" y2="711" stroke="#a4a8c0" stroke-width="0.9"/>
<line x1="212.5" y1="688" x2="201.5" y2="710" stroke="#fdfdff" stroke-width="2.8" stroke-dasharray="0.1 5.2" stroke-linecap="round"/>
<line x1="207.0" y1="689" x2="196.0" y2="712" stroke="#39a6d6" stroke-width="3.4" stroke-dasharray="0.1 7" stroke-linecap="round" opacity=".85"/>
<line x1="223.9" y1="687" x2="204.0" y2="711" stroke="#9a9eb8" stroke-width="1.0"/>
<line x1="213.9" y1="687" x2="214.0" y2="711" stroke="#a4a8c0" stroke-width="0.9"/>
<line x1="224.4" y1="688" x2="214.5" y2="710" stroke="#fdfdff" stroke-width="2.8" stroke-dasharray="0.1 5.2" stroke-linecap="round"/>
<line x1="218.9" y1="689" x2="209.0" y2="712" stroke="#39a6d6" stroke-width="3.4" stroke-dasharray="0.1 7" stroke-linecap="round" opacity=".85"/>
<line x1="235.9" y1="687" x2="217.1" y2="711" stroke="#9a9eb8" stroke-width="1.0"/>
<line x1="225.9" y1="687" x2="227.1" y2="711" stroke="#a4a8c0" stroke-width="0.9"/>
<line x1="236.4" y1="688" x2="227.6" y2="710" stroke="#fdfdff" stroke-width="2.8" stroke-dasharray="0.1 5.2" stroke-linecap="round"/>
<line x1="230.9" y1="689" x2="222.1" y2="712" stroke="#39a6d6" stroke-width="3.4" stroke-dasharray="0.1 7" stroke-linecap="round" opacity=".85"/>
<line x1="247.8" y1="687" x2="230.1" y2="711" stroke="#9a9eb8" stroke-width="1.0"/>
<line x1="237.8" y1="687" x2="240.1" y2="711" stroke="#a4a8c0" stroke-width="0.9"/>
<line x1="248.3" y1="688" x2="240.6" y2="710" stroke="#fdfdff" stroke-width="2.8" stroke-dasharray="0.1 5.2" stroke-linecap="round"/>
<line x1="242.8" y1="689" x2="235.1" y2="712" stroke="#39a6d6" stroke-width="3.4" stroke-dasharray="0.1 7" stroke-linecap="round" opacity=".85"/>
<line x1="259.7" y1="687" x2="243.1" y2="711" stroke="#9a9eb8" stroke-width="1.0"/>
<line x1="249.7" y1="687" x2="253.1" y2="711" stroke="#a4a8c0" stroke-width="0.9"/>
<line x1="260.2" y1="688" x2="253.6" y2="710" stroke="#fdfdff" stroke-width="2.8" stroke-dasharray="0.1 5.2" stroke-linecap="round"/>
<line x1="254.7" y1="689" x2="248.1" y2="712" stroke="#39a6d6" stroke-width="3.4" stroke-dasharray="0.1 7" stroke-linecap="round" opacity=".85"/>
<line x1="271.6" y1="687" x2="256.2" y2="711" stroke="#9a9eb8" stroke-width="1.0"/>
<line x1="261.6" y1="687" x2="266.2" y2="711" stroke="#a4a8c0" stroke-width="0.9"/>
<line x1="272.1" y1="688" x2="266.7" y2="710" stroke="#fdfdff" stroke-width="2.8" stroke-dasharray="0.1 5.2" stroke-linecap="round"/>
<line x1="266.6" y1="689" x2="261.2" y2="712" stroke="#39a6d6" stroke-width="3.4" stroke-dasharray="0.1 7" stroke-linecap="round" opacity=".85"/>
<line x1="283.5" y1="687" x2="269.2" y2="711" stroke="#9a9eb8" stroke-width="1.0"/>
<line x1="273.5" y1="687" x2="279.2" y2="711" stroke="#a4a8c0" stroke-width="0.9"/>
<line x1="284.0" y1="688" x2="279.7" y2="710" stroke="#fdfdff" stroke-width="2.8" stroke-dasharray="0.1 5.2" stroke-linecap="round"/>
<line x1="278.5" y1="689" x2="274.2" y2="712" stroke="#39a6d6" stroke-width="3.4" stroke-dasharray="0.1 7" stroke-linecap="round" opacity=".85"/>
<line x1="295.4" y1="687" x2="282.2" y2="711" stroke="#9a9eb8" stroke-width="1.0"/>
<line x1="285.4" y1="687" x2="292.2" y2="711" stroke="#a4a8c0" stroke-width="0.9"/>
<line x1="295.9" y1="688" x2="292.8" y2="710" stroke="#fdfdff" stroke-width="2.8" stroke-dasharray="0.1 5.2" stroke-linecap="round"/>
<line x1="290.4" y1="689" x2="287.2" y2="712" stroke="#39a6d6" stroke-width="3.4" stroke-dasharray="0.1 7" stroke-linecap="round" opacity=".85"/>
<line x1="307.3" y1="687" x2="295.3" y2="711" stroke="#9a9eb8" stroke-width="1.0"/>
<line x1="297.3" y1="687" x2="305.3" y2="711" stroke="#a4a8c0" stroke-width="0.9"/>
<line x1="307.8" y1="688" x2="305.8" y2="710" stroke="#fdfdff" stroke-width="2.8" stroke-dasharray="0.1 5.2" stroke-linecap="round"/>
<line x1="302.3" y1="689" x2="300.3" y2="712" stroke="#39a6d6" stroke-width="3.4" stroke-dasharray="0.1 7" stroke-linecap="round" opacity=".85"/>
<line x1="319.2" y1="687" x2="308.3" y2="711" stroke="#9a9eb8" stroke-width="1.0"/>
<line x1="309.2" y1="687" x2="318.3" y2="711" stroke="#a4a8c0" stroke-width="0.9"/>
<line x1="319.8" y1="688" x2="318.8" y2="710" stroke="#fdfdff" stroke-width="2.8" stroke-dasharray="0.1 5.2" stroke-linecap="round"/>
<line x1="314.2" y1="689" x2="313.3" y2="712" stroke="#39a6d6" stroke-width="3.4" stroke-dasharray="0.1 7" stroke-linecap="round" opacity=".85"/>
<line x1="331.2" y1="687" x2="321.4" y2="711" stroke="#9a9eb8" stroke-width="1.0"/>
<line x1="321.2" y1="687" x2="331.4" y2="711" stroke="#a4a8c0" stroke-width="0.9"/>
<line x1="331.7" y1="688" x2="331.9" y2="710" stroke="#fdfdff" stroke-width="2.8" stroke-dasharray="0.1 5.2" stroke-linecap="round"/>
<line x1="326.2" y1="689" x2="326.4" y2="712" stroke="#39a6d6" stroke-width="3.4" stroke-dasharray="0.1 7" stroke-linecap="round" opacity=".85"/>
<line x1="343.1" y1="687" x2="334.4" y2="711" stroke="#9a9eb8" stroke-width="1.0"/>
<line x1="333.1" y1="687" x2="344.4" y2="711" stroke="#a4a8c0" stroke-width="0.9"/>
<line x1="343.6" y1="688" x2="344.9" y2="710" stroke="#fdfdff" stroke-width="2.8" stroke-dasharray="0.1 5.2" stroke-linecap="round"/>
<line x1="338.1" y1="689" x2="339.4" y2="712" stroke="#39a6d6" stroke-width="3.4" stroke-dasharray="0.1 7" stroke-linecap="round" opacity=".85"/>
<line x1="355.0" y1="687" x2="347.4" y2="711" stroke="#9a9eb8" stroke-width="1.0"/>
<line x1="345.0" y1="687" x2="357.4" y2="711" stroke="#a4a8c0" stroke-width="0.9"/>
<line x1="355.5" y1="688" x2="357.9" y2="710" stroke="#fdfdff" stroke-width="2.8" stroke-dasharray="0.1 5.2" stroke-linecap="round"/>
<line x1="350.0" y1="689" x2="352.4" y2="712" stroke="#39a6d6" stroke-width="3.4" stroke-dasharray="0.1 7" stroke-linecap="round" opacity=".85"/>
<line x1="366.9" y1="687" x2="360.5" y2="711" stroke="#9a9eb8" stroke-width="1.0"/>
<line x1="356.9" y1="687" x2="370.5" y2="711" stroke="#a4a8c0" stroke-width="0.9"/>
<line x1="367.4" y1="688" x2="371.0" y2="710" stroke="#fdfdff" stroke-width="2.8" stroke-dasharray="0.1 5.2" stroke-linecap="round"/>
<line x1="361.9" y1="689" x2="365.5" y2="712" stroke="#39a6d6" stroke-width="3.4" stroke-dasharray="0.1 7" stroke-linecap="round" opacity=".85"/>
<line x1="378.8" y1="687" x2="373.5" y2="711" stroke="#9a9eb8" stroke-width="1.0"/>
<line x1="368.8" y1="687" x2="383.5" y2="711" stroke="#a4a8c0" stroke-width="0.9"/>
<line x1="379.3" y1="688" x2="384.0" y2="710" stroke="#fdfdff" stroke-width="2.8" stroke-dasharray="0.1 5.2" stroke-linecap="round"/>
<line x1="373.8" y1="689" x2="378.5" y2="712" stroke="#39a6d6" stroke-width="3.4" stroke-dasharray="0.1 7" stroke-linecap="round" opacity=".85"/>
<line x1="390.7" y1="687" x2="386.5" y2="711" stroke="#9a9eb8" stroke-width="1.0"/>
<line x1="380.7" y1="687" x2="396.5" y2="711" stroke="#a4a8c0" stroke-width="0.9"/>
<line x1="391.2" y1="688" x2="397.0" y2="710" stroke="#fdfdff" stroke-width="2.8" stroke-dasharray="0.1 5.2" stroke-linecap="round"/>
<line x1="385.7" y1="689" x2="391.5" y2="712" stroke="#39a6d6" stroke-width="3.4" stroke-dasharray="0.1 7" stroke-linecap="round" opacity=".85"/>
<line x1="402.6" y1="687" x2="399.6" y2="711" stroke="#9a9eb8" stroke-width="1.0"/>
<line x1="392.6" y1="687" x2="409.6" y2="711" stroke="#a4a8c0" stroke-width="0.9"/>
<line x1="403.1" y1="688" x2="410.1" y2="710" stroke="#fdfdff" stroke-width="2.8" stroke-dasharray="0.1 5.2" stroke-linecap="round"/>
<line x1="397.6" y1="689" x2="404.6" y2="712" stroke="#39a6d6" stroke-width="3.4" stroke-dasharray="0.1 7" stroke-linecap="round" opacity=".85"/>
<line x1="414.6" y1="687" x2="412.6" y2="711" stroke="#9a9eb8" stroke-width="1.0"/>
<line x1="404.6" y1="687" x2="422.6" y2="711" stroke="#a4a8c0" stroke-width="0.9"/>
<line x1="415.1" y1="688" x2="423.1" y2="710" stroke="#fdfdff" stroke-width="2.8" stroke-dasharray="0.1 5.2" stroke-linecap="round"/>
<line x1="409.6" y1="689" x2="417.6" y2="712" stroke="#39a6d6" stroke-width="3.4" stroke-dasharray="0.1 7" stroke-linecap="round" opacity=".85"/>
<line x1="426.5" y1="687" x2="425.6" y2="711" stroke="#9a9eb8" stroke-width="1.0"/>
<line x1="416.5" y1="687" x2="435.6" y2="711" stroke="#a4a8c0" stroke-width="0.9"/>
<line x1="427.0" y1="688" x2="436.1" y2="710" stroke="#fdfdff" stroke-width="2.8" stroke-dasharray="0.1 5.2" stroke-linecap="round"/>
<line x1="421.5" y1="689" x2="430.6" y2="712" stroke="#39a6d6" stroke-width="3.4" stroke-dasharray="0.1 7" stroke-linecap="round" opacity=".85"/>
<line x1="438.4" y1="687" x2="438.7" y2="711" stroke="#9a9eb8" stroke-width="1.0"/>
<line x1="428.4" y1="687" x2="448.7" y2="711" stroke="#a4a8c0" stroke-width="0.9"/>
<line x1="438.9" y1="688" x2="449.2" y2="710" stroke="#fdfdff" stroke-width="2.8" stroke-dasharray="0.1 5.2" stroke-linecap="round"/>
<line x1="433.4" y1="689" x2="443.7" y2="712" stroke="#39a6d6" stroke-width="3.4" stroke-dasharray="0.1 7" stroke-linecap="round" opacity=".85"/>
<line x1="450.3" y1="687" x2="451.7" y2="711" stroke="#9a9eb8" stroke-width="1.0"/>
<line x1="440.3" y1="687" x2="461.7" y2="711" stroke="#a4a8c0" stroke-width="0.9"/>
<line x1="450.8" y1="688" x2="462.2" y2="710" stroke="#fdfdff" stroke-width="2.8" stroke-dasharray="0.1 5.2" stroke-linecap="round"/>
<line x1="445.3" y1="689" x2="456.7" y2="712" stroke="#39a6d6" stroke-width="3.4" stroke-dasharray="0.1 7" stroke-linecap="round" opacity=".85"/>
<line x1="462.2" y1="687" x2="464.7" y2="711" stroke="#9a9eb8" stroke-width="1.0"/>
<line x1="452.2" y1="687" x2="474.7" y2="711" stroke="#a4a8c0" stroke-width="0.9"/>
<line x1="462.7" y1="688" x2="475.2" y2="710" stroke="#fdfdff" stroke-width="2.8" stroke-dasharray="0.1 5.2" stroke-linecap="round"/>
<line x1="457.2" y1="689" x2="469.7" y2="712" stroke="#39a6d6" stroke-width="3.4" stroke-dasharray="0.1 7" stroke-linecap="round" opacity=".85"/>
<circle cx="176.0" cy="714" r="2.2" fill="#2f9cd8"/><circle cx="186.0" cy="714" r="2.2" fill="#2f9cd8"/><circle cx="196.0" cy="714" r="2.2" fill="#2f9cd8"/><circle cx="206.0" cy="714" r="2.2" fill="#2f9cd8"/><circle cx="216.0" cy="714" r="2.2" fill="#2f9cd8"/><circle cx="226.0" cy="714" r="2.2" fill="#2f9cd8"/><circle cx="236.0" cy="714" r="2.2" fill="#2f9cd8"/><circle cx="246.0" cy="714" r="2.2" fill="#2f9cd8"/><circle cx="256.0" cy="714" r="2.2" fill="#2f9cd8"/><circle cx="266.0" cy="714" r="2.2" fill="#2f9cd8"/><circle cx="276.0" cy="714" r="2.2" fill="#2f9cd8"/><circle cx="286.0" cy="714" r="2.2" fill="#2f9cd8"/><circle cx="296.0" cy="714" r="2.2" fill="#2f9cd8"/><circle cx="306.0" cy="714" r="2.2" fill="#2f9cd8"/><circle cx="316.0" cy="714" r="2.2" fill="#2f9cd8"/><circle cx="326.0" cy="714" r="2.2" fill="#2f9cd8"/><circle cx="336.0" cy="714" r="2.2" fill="#2f9cd8"/><circle cx="346.0" cy="714" r="2.2" fill="#2f9cd8"/><circle cx="356.0" cy="714" r="2.2" fill="#2f9cd8"/><circle cx="366.0" cy="714" r="2.2" fill="#2f9cd8"/><circle cx="376.0" cy="714" r="2.2" fill="#2f9cd8"/><circle cx="386.0" cy="714" r="2.2" fill="#2f9cd8"/><circle cx="396.0" cy="714" r="2.2" fill="#2f9cd8"/><circle cx="406.0" cy="714" r="2.2" fill="#2f9cd8"/><circle cx="416.0" cy="714" r="2.2" fill="#2f9cd8"/><circle cx="426.0" cy="714" r="2.2" fill="#2f9cd8"/><circle cx="436.0" cy="714" r="2.2" fill="#2f9cd8"/><circle cx="446.0" cy="714" r="2.2" fill="#2f9cd8"/><circle cx="456.0" cy="714" r="2.2" fill="#2f9cd8"/>
<line x1="195.3" y1="655.8" x2="171.3" y2="685" stroke="#32a7d0" stroke-width="4.9" stroke-dasharray="0.1 4.4" stroke-linecap="round"/>
<line x1="171.3" y1="686" x2="171.3" y2="694" stroke="#8fa6c0" stroke-width="1"/>
<line x1="205.3" y1="655.8" x2="183.2" y2="685" stroke="#32a7d0" stroke-width="4.9" stroke-dasharray="0.1 4.4" stroke-linecap="round"/>
<line x1="183.2" y1="686" x2="183.2" y2="694" stroke="#8fa6c0" stroke-width="1"/>
<line x1="215.4" y1="655.8" x2="195.1" y2="685" stroke="#32a7d0" stroke-width="4.9" stroke-dasharray="0.1 4.4" stroke-linecap="round"/>
<line x1="195.1" y1="686" x2="195.1" y2="694" stroke="#8fa6c0" stroke-width="1"/>
<line x1="225.4" y1="655.8" x2="207.0" y2="685" stroke="#32a7d0" stroke-width="4.9" stroke-dasharray="0.1 4.4" stroke-linecap="round"/>
<line x1="207.0" y1="686" x2="207.0" y2="694" stroke="#8fa6c0" stroke-width="1"/>
<line x1="235.5" y1="655.8" x2="218.9" y2="685" stroke="#32a7d0" stroke-width="4.9" stroke-dasharray="0.1 4.4" stroke-linecap="round"/>
<line x1="218.9" y1="686" x2="218.9" y2="694" stroke="#8fa6c0" stroke-width="1"/>
<line x1="245.5" y1="655.8" x2="230.9" y2="685" stroke="#32a7d0" stroke-width="4.9" stroke-dasharray="0.1 4.4" stroke-linecap="round"/>
<line x1="230.9" y1="686" x2="230.9" y2="694" stroke="#8fa6c0" stroke-width="1"/>
<line x1="255.6" y1="655.8" x2="242.8" y2="685" stroke="#32a7d0" stroke-width="4.9" stroke-dasharray="0.1 4.4" stroke-linecap="round"/>
<line x1="242.8" y1="686" x2="242.8" y2="694" stroke="#8fa6c0" stroke-width="1"/>
<line x1="265.6" y1="655.8" x2="254.7" y2="685" stroke="#32a7d0" stroke-width="4.9" stroke-dasharray="0.1 4.4" stroke-linecap="round"/>
<line x1="254.7" y1="686" x2="254.7" y2="694" stroke="#8fa6c0" stroke-width="1"/>
<line x1="275.6" y1="655.8" x2="266.6" y2="685" stroke="#32a7d0" stroke-width="4.9" stroke-dasharray="0.1 4.4" stroke-linecap="round"/>
<line x1="266.6" y1="686" x2="266.6" y2="694" stroke="#8fa6c0" stroke-width="1"/>
<line x1="285.7" y1="655.8" x2="278.5" y2="685" stroke="#32a7d0" stroke-width="4.9" stroke-dasharray="0.1 4.4" stroke-linecap="round"/>
<line x1="278.5" y1="686" x2="278.5" y2="694" stroke="#8fa6c0" stroke-width="1"/>
<line x1="295.7" y1="655.8" x2="290.4" y2="685" stroke="#32a7d0" stroke-width="4.9" stroke-dasharray="0.1 4.4" stroke-linecap="round"/>
<line x1="290.4" y1="686" x2="290.4" y2="694" stroke="#8fa6c0" stroke-width="1"/>
<line x1="305.8" y1="655.8" x2="302.3" y2="685" stroke="#32a7d0" stroke-width="4.9" stroke-dasharray="0.1 4.4" stroke-linecap="round"/>
<line x1="302.3" y1="686" x2="302.3" y2="694" stroke="#8fa6c0" stroke-width="1"/>
<line x1="315.8" y1="655.8" x2="314.2" y2="685" stroke="#32a7d0" stroke-width="4.9" stroke-dasharray="0.1 4.4" stroke-linecap="round"/>
<line x1="314.2" y1="686" x2="314.2" y2="694" stroke="#8fa6c0" stroke-width="1"/>
<line x1="325.8" y1="655.8" x2="326.2" y2="685" stroke="#32a7d0" stroke-width="4.9" stroke-dasharray="0.1 4.4" stroke-linecap="round"/>
<line x1="326.2" y1="686" x2="326.2" y2="694" stroke="#8fa6c0" stroke-width="1"/>
<line x1="335.9" y1="655.8" x2="338.1" y2="685" stroke="#32a7d0" stroke-width="4.9" stroke-dasharray="0.1 4.4" stroke-linecap="round"/>
<line x1="338.1" y1="686" x2="338.1" y2="694" stroke="#8fa6c0" stroke-width="1"/>
<line x1="345.9" y1="655.8" x2="350.0" y2="685" stroke="#32a7d0" stroke-width="4.9" stroke-dasharray="0.1 4.4" stroke-linecap="round"/>
<line x1="350.0" y1="686" x2="350.0" y2="694" stroke="#8fa6c0" stroke-width="1"/>
<line x1="356.0" y1="655.8" x2="361.9" y2="685" stroke="#32a7d0" stroke-width="4.9" stroke-dasharray="0.1 4.4" stroke-linecap="round"/>
<line x1="361.9" y1="686" x2="361.9" y2="694" stroke="#8fa6c0" stroke-width="1"/>
<line x1="366.0" y1="655.8" x2="373.8" y2="685" stroke="#32a7d0" stroke-width="4.9" stroke-dasharray="0.1 4.4" stroke-linecap="round"/>
<line x1="373.8" y1="686" x2="373.8" y2="694" stroke="#8fa6c0" stroke-width="1"/>
<line x1="376.1" y1="655.8" x2="385.7" y2="685" stroke="#32a7d0" stroke-width="4.9" stroke-dasharray="0.1 4.4" stroke-linecap="round"/>
<line x1="385.7" y1="686" x2="385.7" y2="694" stroke="#8fa6c0" stroke-width="1"/>
<line x1="386.1" y1="655.8" x2="397.6" y2="685" stroke="#32a7d0" stroke-width="4.9" stroke-dasharray="0.1 4.4" stroke-linecap="round"/>
<line x1="397.6" y1="686" x2="397.6" y2="694" stroke="#8fa6c0" stroke-width="1"/>
<line x1="396.1" y1="655.8" x2="409.6" y2="685" stroke="#32a7d0" stroke-width="4.9" stroke-dasharray="0.1 4.4" stroke-linecap="round"/>
<line x1="409.6" y1="686" x2="409.6" y2="694" stroke="#8fa6c0" stroke-width="1"/>
<line x1="406.2" y1="655.8" x2="421.5" y2="685" stroke="#32a7d0" stroke-width="4.9" stroke-dasharray="0.1 4.4" stroke-linecap="round"/>
<line x1="421.5" y1="686" x2="421.5" y2="694" stroke="#8fa6c0" stroke-width="1"/>
<line x1="416.2" y1="655.8" x2="433.4" y2="685" stroke="#32a7d0" stroke-width="4.9" stroke-dasharray="0.1 4.4" stroke-linecap="round"/>
<line x1="433.4" y1="686" x2="433.4" y2="694" stroke="#8fa6c0" stroke-width="1"/>
<line x1="426.3" y1="655.8" x2="445.3" y2="685" stroke="#32a7d0" stroke-width="4.9" stroke-dasharray="0.1 4.4" stroke-linecap="round"/>
<line x1="445.3" y1="686" x2="445.3" y2="694" stroke="#8fa6c0" stroke-width="1"/>
<line x1="436.3" y1="655.8" x2="457.2" y2="685" stroke="#32a7d0" stroke-width="4.9" stroke-dasharray="0.1 4.4" stroke-linecap="round"/>
<line x1="457.2" y1="686" x2="457.2" y2="694" stroke="#8fa6c0" stroke-width="1"/>
<path d="M294.0 541.7 L347.7 541.7 L321.1 655.5Z" fill="url(#dcone)"/>
<line x1="280" y1="538.8" x2="370" y2="538.8" stroke="#7a8aa0" stroke-width="0.8"/>
<text x="281.5" y="537.3" font-size="23.5" class="b" fill="#0c0c0c" textLength="86.5" lengthAdjust="spacingAndGlyphs">STM Tip</text>
<text x="266.3" y="709.7" font-size="26.5" class="b" fill="#0c0c0c" textLength="94.5" lengthAdjust="spacingAndGlyphs">Sample</text>
<text x="183.5" y="567.8" font-size="34" class="b" textLength="18.5" lengthAdjust="spacingAndGlyphs">d</text>
<path d="M168.6 945 423.6 945" fill="none" stroke="#0c0c0c" stroke-width="2.2" stroke-linejoin="round"/>
<path d="M275.6 945 275.6 803 313.2 830.5 313.2 987.8" fill="none" stroke="#0c0c0c" stroke-width="2.2" stroke-linejoin="round" stroke-linejoin="miter"/>
<path d="M296.6 987.8 369.8 987.8" fill="none" stroke="#0c0c0c" stroke-width="2.2" stroke-linejoin="round"/>
<path d="M229.8 987.8 296.6 987.8" fill="none" stroke="#0c0c0c" stroke-width="1.6" stroke-linejoin="round" stroke-dasharray="1.6 1.6"/>
<line x1="268.4" y1="807.9" x2="268.4" y2="940.9" stroke="#1f9a6c" stroke-width="1.5"/>
<path d="M268.4 807.9 L265.6 813.4 L271.2 813.4Z" fill="#1f9a6c"/>
<path d="M268.4 940.9 L265.6 935.4 L271.2 935.4Z" fill="#1f9a6c"/>
<line x1="320.3" y1="832.7" x2="320.3" y2="942.7" stroke="#1f9a6c" stroke-width="1.5"/>
<path d="M320.3 832.7 L317.5 838.2 L323.1 838.2Z" fill="#1f9a6c"/>
<path d="M320.3 942.7 L317.5 937.2 L323.1 937.2Z" fill="#1f9a6c"/>
<line x1="276.1" y1="852.8" x2="311.8" y2="852.8" stroke="#1f9a6c" stroke-width="1.5"/>
<path d="M276.1 852.8 L281.6 855.6 L281.6 850.0Z" fill="#1f9a6c"/>
<path d="M311.8 852.8 L306.3 855.6 L306.3 850.0Z" fill="#1f9a6c"/>
<line x1="285.0" y1="949.2" x2="285.0" y2="981.7" stroke="#1f9a6c" stroke-width="1.5"/>
<path d="M285.0 949.2 L282.2 954.7 L287.8 954.7Z" fill="#1f9a6c"/>
<path d="M285.0 981.7 L282.2 976.2 L287.8 976.2Z" fill="#1f9a6c"/>
<path d="M177.5 882.7 178.2 881.9 178.9 880.2 179.7 877.9 180.4 875.2 181.2 872.2 181.9 869.3 182.6 866.5 183.4 864.2 184.1 862.6 184.9 861.8 185.6 861.8 186.4 862.6 187.1 864.2 187.8 866.5 188.6 869.3 189.3 872.2 190.1 875.2 190.8 877.9 191.6 880.2 192.3 881.9 193 882.7 193.8 882.7 194.5 881.9 195.3 880.2 196 877.9 196.7 875.2 197.5 872.2 198.2 869.3 199 866.5 199.7 864.2 200.5 862.6 201.2 861.8 201.9 861.8 202.7 862.6 203.4 864.2 204.2 866.5 204.9 869.3 205.7 872.2 206.4 875.2 207.1 877.9 207.9 880.2 208.6 881.9 209.4 882.7 210.1 882.7 210.8 881.9 211.6 880.2 212.3 877.9 213.1 875.2 213.8 872.2 214.6 869.3 215.3 866.5 216 864.2 216.8 862.6 217.5 861.8 218.3 861.8 219 862.6 219.8 864.2 220.5 866.5 221.2 869.3 222 872.2 222.7 875.2 223.5 877.9 224.2 880.2 224.9 881.9 225.7 882.7 226.4 882.7 227.2 881.9 227.9 880.2 228.7 877.9 229.4 875.2 230.1 872.2 230.9 869.3 231.6 866.5 232.4 864.2 233.1 862.6 233.8 861.8 234.6 861.8 235.3 862.6 236.1 864.2 236.8 866.5 237.6 869.3 238.3 872.2 239 875.2 239.8 877.9 240.5 880.2 241.3 881.9 242 882.7 242.8 882.7 243.5 881.9 244.2 880.2 245 877.9 245.7 875.2 246.5 872.2 247.2 869.3 247.9 866.5 248.7 864.2 249.4 862.6 250.2 861.8 250.9 861.8 251.7 862.6 252.4 864.2 253.1 866.5 253.9 869.3 254.6 872.2 255.4 875.2 256.1 877.9 256.9 880.2 257.6 881.9 258.3 882.7 259.1 882.7 259.8 881.9 260.6 880.2 261.3 877.9 262 875.2 262.8 872.2 263.5 869.3 264.3 866.5 265 864.2 265.8 862.6 266.5 861.8 267.2 861.8 268 862.6 268.7 864.2 269.8 863.2 271 866.7 272.1 871.7 273.2 878.1 274.3 884.6 275.4 887.3 276.5 889.9 277.6 892.4 278.7 894.7 279.9 896.9 281 899.1 282.1 901.1 283.2 903.2 284.3 905.1 285.4 907 286.5 908.9 287.6 910.7 288.8 912.4 289.9 914.2 291 915.9 292.1 917.5 293.2 919.2 294.3 920.8 295.4 922.3 296.6 923.9 297.7 925.4 298.8 926.9 299.9 928.4 301 929.9 302.1 931.3 303.2 932.8 304.3 934.2 305.5 935.6 306.6 937 307.7 938.3 308.8 939.7 309.9 941 311 942.3 312.1 943.7 313.2 945" fill="none" stroke="#222" stroke-width="1.3" stroke-linejoin="round"/>
<path d="M313.2 945 314 945.5 314.7 946 315.4 946.5 316.2 947 316.9 947.5 317.6 948 318.4 948.5 319.1 949 319.8 949.4 320.6 949.9 321.3 950.3 322 950.8 322.8 951.2 323.5 951.6 324.2 951.9 325 952.3 325.7 952.6 326.4 952.9 327.1 953.2 327.9 953.4 328.6 953.7 329.3 953.9 330.1 954.1 330.8 954.2 331.5 954.4 332.3 954.5 333 954.5 333.7 954.6 334.5 954.6 335.2 954.6 335.9 954.5 336.7 954.5 337.4 954.4 338.1 954.2 338.9 954 339.6 953.7 340.3 953.5 341.1 953.3 341.8 953.1 342.5 953 343.2 952.8 344 952.5 344.7 952.1 345.4 951.6 346.2 950.9 346.9 949.9 347.6 948.7 348.4 947.3 349.1 945.8 349.8 944 350.6 942.2 351.3 940.4 352 938.7 352.8 937.1 353.5 935.6 354.2 934.2 355 933 355.7 931.9 356.4 931.1 357.1 930.5 357.9 930.1 358.6 929.9 359.3 930 360.1 930.4 360.8 930.9 361.5 931.7 362.3 932.7 363 933.9 363.7 935.3 364.5 936.7 365.2 938.3 365.9 939.9 366.7 941.6 367.4 943.3 368.1 944.9 368.9 946.5 369.6 947.9 370.3 949.2 371.1 950.4 371.8 951.3 372.5 952.1 373.2 952.6 374 952.9 374.7 952.9 375.4 952.7 376.2 952.3 376.9 951.6 377.6 950.7 378.4 949.6 379.1 948.4 379.8 947 380.6 945.4 381.3 943.8 382 942.2 382.8 940.5 383.5 938.8 384.2 937.2 385 935.7 385.7 934.3 386.4 933.1 387.2 932 387.9 931.2 388.6 930.5 389.3 930.1 390.1 929.9 390.8 930 391.5 930.3 392.3 930.9 393 931.6 393.7 932.6 394.5 933.8 395.2 935.1 395.9 936.6 396.7 938.1 397.4 939.8 398.1 941.4 398.9 943.1 399.6 944.8 400.3 946.3 401.1 947.8 401.8 949.1 402.5 950.3 403.2 951.2 404 952 404.7 952.6 405.4 952.9 406.2 952.9 406.9 952.7 407.6 952.3 408.4 951.7 409.1 950.8 409.8 949.7 410.6 948.5 411.3 947.1 412 945.6 412.8 944 413.5 942.3 414.2 940.6 415 939 415.7 937.4 416.4 935.9 417.2 934.5 417.9 933.2 418.6 932.1 419.3 931.2 420.1 930.6 420.8 930.1 421.5 929.9 422.3 930 423 930.3 423.7 930.8 424.5 931.5 425.2 932.5 425.9 933.7 426.7 935 427.4 936.4 428.1 938 428.9 939.6 429.6 941.3 430.3 943 431.1 944.6 431.8 946.2 432.5 947.6 433.2 949 434 950.2 434.7 951.2 435.4 951.9 436.2 952.5 436.9 952.8 437.6 952.9 438.4 952.8 439.1 952.4 439.8 951.7 440.6 950.9 441.3 949.8 442 948.6 442.8 947.2 443.5 945.7 444.2 944.1 445 942.5" fill="none" stroke="#222" stroke-width="1.3" stroke-linejoin="round"/>
<text x="263" y="790.6" font-size="19.5" fill="#222" textLength="66" lengthAdjust="spacingAndGlyphs">Vacuum</text>
<text x="183.4" y="940" font-size="20" fill="#1a1a1a" textLength="68.5" lengthAdjust="spacingAndGlyphs">STM Tip</text>
<text x="318" y="979" font-size="20" fill="#1a1a1a" textLength="64" lengthAdjust="spacingAndGlyphs">Sample</text>
<text x="286" y="847.2" font-size="25" fill="#111" font-style="italic">d</text>
<text x="244.3" y="903.8" font-size="18.5" fill="#222">ø<tspan font-size="10.5" dy="5" fill="#666">tip</tspan></text>
<text x="324.2" y="892.7" font-size="18.5" fill="#222" textLength="47" lengthAdjust="spacingAndGlyphs">ø<tspan font-size="10.5" dy="6" fill="#555">sample</tspan></text>
<text x="254.5" y="973.4" font-size="25" class="m" fill="#444" textLength="25.5" lengthAdjust="spacingAndGlyphs">eV</text>
<g clip-path="url(#eclip)"><g filter="url(#eblur)"><rect x="651" y="564" width="423" height="413.5" fill="#b9722a"/>
<rect x="651" y="564" width="423" height="413.5" fill="url(#elat)"/>
<g filter="url(#eblur3)"><ellipse cx="843" cy="795" rx="21" ry="14" fill="#6c6a70" opacity="0.37"/><ellipse cx="733" cy="776" rx="17" ry="8" fill="#f0a838" opacity="0.26"/><ellipse cx="694" cy="895" rx="18" ry="16" fill="#6c6a70" opacity="0.44"/><ellipse cx="926" cy="817" rx="11" ry="7" fill="#6c6a70" opacity="0.26"/><ellipse cx="735" cy="667" rx="9" ry="6" fill="#6c6a70" opacity="0.42"/><ellipse cx="870" cy="827" rx="15" ry="10" fill="#f0a838" opacity="0.26"/><ellipse cx="1067" cy="970" rx="20" ry="11" fill="#f0a838" opacity="0.25"/><ellipse cx="776" cy="598" rx="19" ry="16" fill="#6c6a70" opacity="0.33"/><ellipse cx="1051" cy="910" rx="9" ry="8" fill="#6c6a70" opacity="0.34"/><ellipse cx="687" cy="823" rx="19" ry="8" fill="#6c6a70" opacity="0.32"/><ellipse cx="1053" cy="874" rx="11" ry="5" fill="#6c6a70" opacity="0.26"/><ellipse cx="735" cy="864" rx="11" ry="5" fill="#f0a838" opacity="0.28"/><ellipse cx="744" cy="678" rx="22" ry="12" fill="#f0a838" opacity="0.38"/><ellipse cx="744" cy="728" rx="20" ry="9" fill="#f0a838" opacity="0.40"/><ellipse cx="745" cy="674" rx="19" ry="10" fill="#6c6a70" opacity="0.26"/><ellipse cx="694" cy="804" rx="12" ry="7" fill="#f0a838" opacity="0.29"/><ellipse cx="893" cy="918" rx="11" ry="10" fill="#6c6a70" opacity="0.41"/><ellipse cx="760" cy="646" rx="19" ry="9" fill="#f0a838" opacity="0.39"/><ellipse cx="1020" cy="812" rx="14" ry="6" fill="#6c6a70" opacity="0.44"/><ellipse cx="755" cy="853" rx="12" ry="9" fill="#f0a838" opacity="0.26"/><ellipse cx="729" cy="859" rx="10" ry="7" fill="#6c6a70" opacity="0.42"/><ellipse cx="664" cy="678" rx="15" ry="7" fill="#6c6a70" opacity="0.32"/><ellipse cx="806" cy="928" rx="22" ry="16" fill="#f0a838" opacity="0.32"/><ellipse cx="715" cy="584" rx="9" ry="7" fill="#f0a838" opacity="0.39"/><ellipse cx="666" cy="825" rx="15" ry="9" fill="#f0a838" opacity="0.40"/><ellipse cx="688" cy="789" rx="19" ry="14" fill="#f0a838" opacity="0.34"/><ellipse cx="983" cy="937" rx="14" ry="12" fill="#f0a838" opacity="0.37"/><ellipse cx="828" cy="887" rx="20" ry="14" fill="#f0a838" opacity="0.28"/><ellipse cx="896" cy="814" rx="10" ry="9" fill="#f0a838" opacity="0.38"/><ellipse cx="959" cy="803" rx="15" ry="7" fill="#f0a838" opacity="0.35"/><ellipse cx="669" cy="811" rx="15" ry="11" fill="#6c6a70" opacity="0.35"/><ellipse cx="910" cy="940" rx="12" ry="7" fill="#6c6a70" opacity="0.39"/><ellipse cx="740" cy="638" rx="21" ry="13" fill="#f0a838" opacity="0.38"/><ellipse cx="791" cy="837" rx="12" ry="9" fill="#6c6a70" opacity="0.43"/><ellipse cx="713" cy="769" rx="20" ry="15" fill="#f0a838" opacity="0.39"/><ellipse cx="771" cy="638" rx="15" ry="8" fill="#6c6a70" opacity="0.33"/><ellipse cx="712" cy="627" rx="14" ry="9" fill="#ffd65a" opacity="0.95"/><ellipse cx="756" cy="639" rx="9" ry="6" fill="#fff2b8" opacity="1"/><ellipse cx="738" cy="668" rx="12" ry="8" fill="#ffc84a" opacity="0.8"/><ellipse cx="700" cy="655" rx="9" ry="7" fill="#ffc84a" opacity="0.7"/><ellipse cx="742" cy="610" rx="10" ry="6" fill="#ffc84a" opacity="0.7"/><ellipse cx="772" cy="725" rx="9" ry="9" fill="#ffe684" opacity="1"/><ellipse cx="738" cy="750" rx="13" ry="8" fill="#ffd050" opacity="0.9"/><ellipse cx="728" cy="702" rx="10" ry="7" fill="#ffc84a" opacity="0.8"/><ellipse cx="765" cy="700" rx="8" ry="6" fill="#ffc84a" opacity="0.6"/><ellipse cx="848" cy="735" rx="7" ry="10" fill="#fffbe8" opacity="1"/><ellipse cx="842" cy="712" rx="9" ry="8" fill="#ffd050" opacity="0.9"/><ellipse cx="835" cy="778" rx="11" ry="7" fill="#ffc84a" opacity="0.8"/><ellipse cx="734" cy="833" rx="14" ry="8" fill="#fff4c0" opacity="1"/><ellipse cx="764" cy="866" rx="8" ry="11" fill="#fffef0" opacity="1"/><ellipse cx="738" cy="862" rx="10" ry="6" fill="#ffd050" opacity="0.9"/><ellipse cx="745" cy="902" rx="14" ry="7" fill="#ffc84a" opacity="0.85"/><ellipse cx="790" cy="835" rx="11" ry="7" fill="#ffc84a" opacity="0.8"/><ellipse cx="797" cy="882" rx="10" ry="7" fill="#ffc84a" opacity="0.8"/><ellipse cx="776" cy="610" rx="14" ry="5" fill="#ffd050" opacity="0.8"/><ellipse cx="792" cy="613" rx="8" ry="5" fill="#ffd050" opacity="0.7"/><ellipse cx="915" cy="811" rx="10" ry="6" fill="#ffc84a" opacity="0.9"/><ellipse cx="912" cy="851" rx="10" ry="6" fill="#ffc84a" opacity="0.8"/><ellipse cx="955" cy="832" rx="6" ry="10" fill="#ffc84a" opacity="0.7"/><ellipse cx="820" cy="907" rx="10" ry="6" fill="#ffc84a" opacity="0.9"/><ellipse cx="817" cy="956" rx="11" ry="7" fill="#ffd050" opacity="0.95"/><ellipse cx="862" cy="930" rx="6" ry="9" fill="#ffc84a" opacity="0.7"/><ellipse cx="668" cy="735" rx="9" ry="5" fill="#ffd050" opacity="0.8"/><ellipse cx="668" cy="800" rx="7" ry="5" fill="#ffc84a" opacity="0.6"/></g>
<g filter="url(#eblur3)"><ellipse cx="727" cy="641" rx="23" ry="22" fill="#ffcc4e" opacity=".5"/><ellipse cx="748" cy="724" rx="26" ry="25" fill="#ffcc4e" opacity=".5"/><ellipse cx="850" cy="758" rx="25" ry="24" fill="#ffcc4e" opacity=".5"/><ellipse cx="801" cy="856" rx="26" ry="25" fill="#ffcc4e" opacity=".5"/><ellipse cx="932" cy="831" rx="24" ry="23" fill="#ffcc4e" opacity=".5"/><ellipse cx="836" cy="931" rx="25" ry="24" fill="#ffcc4e" opacity=".5"/><ellipse cx="744" cy="882" rx="20" ry="19" fill="#ffcc4e" opacity=".5"/></g><g filter="url(#eblur2)"><path d="M708.5 641.0Q723.4 635.7 736.3 627.8Q734.9 641.0 737.2 654.2Q723.7 646.3 708.5 641.0Z" fill="#44598c" stroke="#44598c" stroke-width="4" stroke-linejoin="round"/><path d="M715.3 641.0Q726.5 637.3 735.9 631.2Q734.5 641.0 736.6 650.8Q726.8 644.7 715.3 641.0Z" fill="#121a48" stroke="#121a48" stroke-width="3" stroke-linejoin="round"/><path d="M722.6 641.0Q729.1 638.7 734.7 635.2Q734.0 641.0 735.1 646.8Q729.2 643.3 722.6 641.0Z" fill="#020208" stroke="#020208" stroke-width="3" stroke-linejoin="round"/><path d="M726.8 724.0Q743.6 718.0 758.2 709.0Q756.6 724.0 759.3 739.0Q744.1 730.0 726.8 724.0Z" fill="#44598c" stroke="#44598c" stroke-width="4" stroke-linejoin="round"/><path d="M734.4 724.0Q747.0 719.9 757.6 713.0Q756.0 724.0 758.4 735.0Q747.3 728.1 734.4 724.0Z" fill="#121a48" stroke="#121a48" stroke-width="3" stroke-linejoin="round"/><path d="M742.4 724.0Q749.7 721.4 756.1 717.5Q755.4 724.0 756.5 730.5Q749.9 726.6 742.4 724.0Z" fill="#020208" stroke="#020208" stroke-width="3" stroke-linejoin="round"/><path d="M829.7 758.0Q845.9 752.2 859.9 743.6Q858.4 758.0 860.9 772.4Q846.3 763.8 829.7 758.0Z" fill="#44598c" stroke="#44598c" stroke-width="4" stroke-linejoin="round"/><path d="M837.0 758.0Q849.2 754.0 859.3 747.4Q857.8 758.0 860.1 768.6Q849.5 762.0 837.0 758.0Z" fill="#121a48" stroke="#121a48" stroke-width="3" stroke-linejoin="round"/><path d="M844.8 758.0Q851.8 755.5 857.9 751.8Q857.3 758.0 858.4 764.2Q852.0 760.5 844.8 758.0Z" fill="#020208" stroke="#020208" stroke-width="3" stroke-linejoin="round"/><path d="M779.8 856.0Q796.6 850.0 811.2 841.0Q809.6 856.0 812.3 871.0Q797.1 862.0 779.8 856.0Z" fill="#44598c" stroke="#44598c" stroke-width="4" stroke-linejoin="round"/><path d="M787.4 856.0Q800.0 851.9 810.6 845.0Q809.0 856.0 811.4 867.0Q800.3 860.1 787.4 856.0Z" fill="#121a48" stroke="#121a48" stroke-width="3" stroke-linejoin="round"/><path d="M795.4 856.0Q802.7 853.4 809.1 849.5Q808.4 856.0 809.5 862.5Q802.9 858.6 795.4 856.0Z" fill="#020208" stroke="#020208" stroke-width="3" stroke-linejoin="round"/><path d="M912.6 831.0Q928.1 825.5 941.6 817.2Q940.1 831.0 942.6 844.8Q928.5 836.5 912.6 831.0Z" fill="#44598c" stroke="#44598c" stroke-width="4" stroke-linejoin="round"/><path d="M919.7 831.0Q931.4 827.2 941.1 820.8Q939.7 831.0 941.8 841.2Q931.6 834.8 919.7 831.0Z" fill="#121a48" stroke="#121a48" stroke-width="3" stroke-linejoin="round"/><path d="M927.2 831.0Q933.9 828.6 939.8 825.0Q939.2 831.0 940.2 837.0Q934.1 833.4 927.2 831.0Z" fill="#020208" stroke="#020208" stroke-width="3" stroke-linejoin="round"/><path d="M815.7 931.0Q831.9 925.2 845.9 916.6Q844.4 931.0 846.9 945.4Q832.3 936.8 815.7 931.0Z" fill="#44598c" stroke="#44598c" stroke-width="4" stroke-linejoin="round"/><path d="M823.0 931.0Q835.2 927.0 845.3 920.4Q843.8 931.0 846.1 941.6Q835.5 935.0 823.0 931.0Z" fill="#121a48" stroke="#121a48" stroke-width="3" stroke-linejoin="round"/><path d="M830.8 931.0Q837.8 928.5 843.9 924.8Q843.3 931.0 844.4 937.2Q838.0 933.5 830.8 931.0Z" fill="#020208" stroke="#020208" stroke-width="3" stroke-linejoin="round"/><path d="M728.2 882.0Q741.1 877.4 752.3 870.5Q751.1 882.0 753.1 893.5Q741.4 886.6 728.2 882.0Z" fill="#44598c" stroke="#44598c" stroke-width="4" stroke-linejoin="round"/><path d="M734.3 882.0Q744.0 878.8 752.2 873.5Q751.0 882.0 752.8 890.5Q744.3 885.2 734.3 882.0Z" fill="#121a48" stroke="#121a48" stroke-width="3" stroke-linejoin="round"/><path d="M740.8 882.0Q746.4 880.0 751.2 877.0Q750.7 882.0 751.6 887.0Q746.5 884.0 740.8 882.0Z" fill="#020208" stroke="#020208" stroke-width="3" stroke-linejoin="round"/><ellipse cx="777.5" cy="598.5" rx="8.5" ry="5.5" fill="#16245e" transform="rotate(-15 777.5 598.5)"/><ellipse cx="777" cy="622" rx="10" ry="5" fill="#16205a" transform="rotate(28 777 622)"/><ellipse cx="745" cy="846" rx="9" ry="6.5" fill="#080c2c"/><ellipse cx="966" cy="893" rx="5.5" ry="4.5" fill="#4a6a90"/><ellipse cx="676" cy="899" rx="16" ry="5" fill="#6a6e78" opacity=".8"/></g>
<g filter="url(#eblur2)"><rect x="860" y="564" width="214" height="212" fill="#6c6a72"/>
<rect x="860" y="564" width="214" height="212" fill="#c27c2c" opacity=".42"/>
<rect x="860" y="564" width="214" height="212" fill="url(#elat2)"/>
</g><g filter="url(#eblur3)"><circle cx="932.5" cy="639.5" r="11" fill="#ffca4a" opacity=".95"/><circle cx="951.6" cy="649.8" r="11" fill="#ffca4a" opacity=".95"/><circle cx="934" cy="661.6" r="11" fill="#ffca4a" opacity=".95"/><circle cx="972.2" cy="636.6" r="11" fill="#ffca4a" opacity=".95"/><circle cx="991.4" cy="648.4" r="11" fill="#ffca4a" opacity=".95"/><circle cx="992.9" cy="670.5" r="11" fill="#ffca4a" opacity=".95"/><circle cx="1012" cy="682.2" r="11" fill="#ffca4a" opacity=".95"/><circle cx="992.9" cy="695.5" r="11" fill="#ffca4a" opacity=".95"/><circle cx="914.8" cy="674.9" r="11" fill="#ffca4a" opacity=".95"/><circle cx="916.3" cy="697" r="11" fill="#ffca4a" opacity=".95"/><circle cx="936.9" cy="707.3" r="11" fill="#ffca4a" opacity=".95"/><circle cx="957.5" cy="717.6" r="11" fill="#ffca4a" opacity=".95"/><circle cx="938.4" cy="726.4" r="11" fill="#ffca4a" opacity=".95"/><circle cx="976.7" cy="726.4" r="11" fill="#ffca4a" opacity=".95"/><circle cx="997.3" cy="717.6" r="11" fill="#ffca4a" opacity=".95"/><circle cx="945" cy="690" r="11" fill="#ffca4a" opacity=".95"/><circle cx="950" cy="668" r="11" fill="#ffca4a" opacity=".95"/></g><g filter="url(#eblur2)"><circle cx="934" cy="661.6" r="6" fill="#fff6c8"/><circle cx="951.6" cy="649.8" r="5.5" fill="#fff6c8"/><circle cx="992.9" cy="670.5" r="6" fill="#fff6c8"/><circle cx="1012" cy="682.2" r="6.5" fill="#fff6c8"/><circle cx="992.9" cy="695.5" r="4.5" fill="#fff6c8"/><path d="M963.5 684L929 685.5" stroke="#4e6288" stroke-width="16" stroke-linecap="round"/><path d="M963.5 684L975 658" stroke="#48608a" stroke-width="16" stroke-linecap="round"/><path d="M963.5 684L977.5 707.5" stroke="#42567c" stroke-width="16" stroke-linecap="round"/><path d="M963.5 684L950 685M963.5 684L968.5 673M963.5 684L970.5 695" stroke="#18224e" stroke-width="11" stroke-linecap="round"/><circle cx="963.5" cy="684" r="8" fill="#030308"/></g></g><rect x="866.2" y="571.8" width="199.6" height="198.8" fill="none" stroke="#8abd48" stroke-width="4.4"/>
<rect x="979.6" y="742" width="70.7" height="6" fill="#fefefa"/>
<path d="M969.6 924H1051.3M969.6 916V932M1051.3 916V932" fill="none" stroke="#f2e4cc" stroke-width="1.3"/>
<text x="980" y="958" font-size="27" fill="#f6ecd6" textLength="59.5" lengthAdjust="spacingAndGlyphs">2 nm</text>
</g><text x="612" y="568" font-size="33" class="b" textLength="18" lengthAdjust="spacingAndGlyphs">e</text>
<rect x="1245" y="550" width="345" height="421.5" fill="#fff" stroke="#3a3a3a" stroke-width="2"/>
<path d="M1245 945.4h6M1245 925.7h3M1245 914.1h3M1245 905.9h3M1245 899.5h3M1245 894.4h3M1245 890.0h3M1245 886.2h3M1245 882.8h3M1245 879.8h6M1245 860.1h3M1245 848.5h3M1245 840.3h3M1245 833.9h3M1245 828.8h3M1245 824.4h3M1245 820.6h3M1245 817.2h3M1245 814.2h6M1245 794.5h3M1245 782.9h3M1245 774.7h3M1245 768.3h3M1245 763.2h3M1245 758.8h3M1245 755.0h3M1245 751.6h3M1245 748.6h6M1245 728.9h3M1245 717.3h3M1245 709.1h3M1245 702.7h3M1245 697.6h3M1245 693.2h3M1245 689.4h3M1245 686.0h3M1245 683.0h6M1245 663.3h3M1245 651.7h3M1245 643.5h3M1245 637.1h3M1245 632.0h3M1245 627.6h3M1245 623.8h3M1245 620.4h3M1245 617.4h6M1245 597.7h3M1245 586.1h3M1245 577.9h3M1245 571.5h3M1245 566.4h3M1245 562.0h3M1245 558.2h3M1245 554.8h3M1245 551.8h6M1245 965.1h4M1245 960.0h4M1245 955.6h4M1245 951.8h4M1245 948.4h4" fill="none" stroke="#555" stroke-width="1.1"/>
<path d="M1262.9 971.5v-6M1308.3 971.5v-4M1353.7 971.5v-6M1399.1 971.5v-4M1444.5 971.5v-6M1489.9 971.5v-4M1535.3 971.5v-6M1580.7 971.5v-4" fill="none" stroke="#3a3a3a" stroke-width="1.5"/>
<path d="M1261.6 765.5 1271.8 767.5 1282 770.6 1292.2 771.9 1294.8 780.8 1296.8 786.4 1299.4 778.3 1302.4 763.5 1305 763 1307.5 773.2 1310.1 803.8 1312.6 842 1315.7 862.4 1319 877.7 1319.8 883.6 1320.4 889 1321.1 892.9 1321.8 898.9 1322.4 896.9 1323.1 903.8 1323.8 885.9 1324.4 898.6 1325.1 912.2 1325.7 908.1 1326.4 916.5 1327.1 901.1 1327.7 911.9 1328.4 909.5 1329.1 918.9 1329.2 932.2 1329.9 919.3 1330.6 953.5 1331.3 911.3 1332 912.6 1332.7 920.2 1333.3 944.5 1334 913.3 1334.7 945.9 1335.4 953.6 1336.1 938.2 1336.8 955.3 1337.5 960.2 1338.2 924 1338.9 921.2 1339.5 915.6 1340.2 935.8 1340.9 940.2 1341.6 922.3 1342.3 932.6 1343 932.5 1343.7 905.8 1344.4 907.6 1345.1 944.1 1345.7 946 1346.4 936.5 1347.1 918.5 1347.8 950.7 1348.5 950.3 1349.2 952.8 1349.9 928.1 1350.6 944 1351.3 949.2 1351.9 946 1352.6 949.6 1353.3 927.5 1354 952.5 1354.7 955.9 1355.4 928.3 1356.1 925.7 1356.8 917.3 1357.5 953 1358.1 907.5 1358.8 937.6 1359.5 923.2 1360.2 950.8 1360.9 933.9 1361.6 948.8 1362.3 936 1363 916.3 1363.7 959.3 1364.3 945.8 1365 934.3 1365.7 950 1366.4 933.6 1367.1 958.7 1367.8 934.4 1368.5 947 1369.2 927.6 1369.9 921.7 1370.5 967 1371.2 942.4 1371.9 931.3 1372.6 923.7 1373.3 951.6 1374 952.4 1374.7 946.5 1375.4 947.1 1376 944.1 1376.7 935.4 1377.4 943.6 1378.1 959 1378.8 938.3 1379.5 937.7 1380.2 943.5 1380.9 952 1381.6 947.8 1382.2 943.4 1382.9 948.9 1383.6 955.7 1384.3 947.1 1385 956.6 1385.7 936.1 1386.4 955.7 1387.1 933.6 1387.8 946.7 1388.4 916.2 1389.1 938.7 1389.8 930.4 1390.5 948.3 1391.2 940.6 1391.9 919 1392.6 939.3 1393.3 943.2 1394 912.8 1394.6 925 1395.3 918.7 1396 921.8 1396.7 912.1 1397.4 926.8 1398.1 936 1398.8 944.1 1399.5 928.8 1400.2 929.3 1400.8 946 1401.5 908.7 1402.2 912.4 1402.9 923.8 1403.6 957.8 1404.3 926.7 1405 937.1 1405.7 913.3 1406.4 934.9 1407 954.2 1407.7 921.7 1408.4 914.3 1409.1 933.6 1409.8 912 1410.5 946.4 1411.2 927.4 1411.9 916.7 1412.5 922.1 1413.2 950 1413.9 914.2 1414.6 929.1 1415.3 917.7 1416 928.7 1416.7 928.1 1417.4 934.2 1418.1 917.1 1418.7 938.1 1419.4 929.7 1420.1 952.8 1420.8 918.6 1421.5 906.3 1422.2 917.7 1422.9 926.7 1423.6 933.6 1424.3 906.6 1424.9 918.3 1425.6 921.2 1426.3 928.9 1427 919.9 1427.7 930.2 1428.4 916.3 1429.1 952.3 1429.8 928.6 1430.5 939.4 1431.1 931.2 1431.8 933.2 1432.5 944.5 1433.2 920.8 1433.9 915.2 1434.6 937.3 1435.3 944.9 1436 924.5 1436.7 944.1 1437.3 910.8 1438 929.3 1438.7 921.3 1439.4 932 1440.1 911.3 1440.8 945.2 1441.5 932 1442.2 941.3 1442.9 953.8 1443.5 901.1 1444.2 913 1444.9 951.7 1445.6 913.3 1446.3 941.8 1447 932.4 1447.7 910.6 1448.4 913 1449.1 924.1 1449.7 906.4 1450.4 942.5 1451.1 912.1 1451.8 919 1452.5 927.7 1453.2 924.6 1453.9 935.3 1454.6 934.8 1455.2 948.6 1455.9 933.6 1456.6 931.1 1457.3 941 1458 915.9 1458.7 922.5 1459.4 912.4 1460.1 934.7 1460.8 935.3 1461.4 911.5 1462.1 914.7 1462.8 929.6 1463.5 939.4 1464.2 937.6 1464.9 909.2 1465.6 937.7 1466.3 907.1 1467 940.9 1467.6 913.4 1468.3 926.4 1469 923.6 1469.7 925.7 1470.4 911.3 1471.1 940.9 1471.8 928.8 1472.5 933.7 1473.2 937 1473.8 929.9 1474.5 916.7 1475.2 906 1475.9 932.7 1476.6 911.4 1477.3 953.8 1478 931.1 1478.7 920.8 1479.4 920.4 1480 928 1480.7 922 1481.4 927.6 1482.1 927.5 1482.8 935 1483.5 953.4 1484.2 959 1484.9 943.9 1485.6 950.9 1486.2 943 1486.9 946 1487.6 924.7 1488.3 919.4 1489 919 1489.7 956.9 1490.4 928.9 1491.1 925.7 1491.7 945.2 1492.4 924.2 1493.1 960.6 1493.8 933.7 1494.5 923 1495.2 950.4 1495.9 916.6 1496.6 961.5 1497.3 933.9 1497.9 913 1498.6 938.4 1499.3 922.4 1500 919.9 1500.7 922.6 1501.4 935.6 1502.1 925.9 1502.8 956 1503.5 939.9 1504.1 940.6 1504.8 933.6 1505.5 942.3 1506.2 945.6 1506.9 931.5 1507.6 941.7 1508.3 942.9 1509 946.8 1509.7 956.3 1510.3 937.1 1511 931 1511.7 934.1 1512.4 955.8 1513.1 933.9 1513.8 924.5 1514.5 921.9 1515.2 943 1515.9 916.7 1516.5 924 1517.2 931.1 1517.9 922.6 1518.6 929.8 1519.3 943.4 1520 948.5 1520.7 943.2 1521.4 956.2 1522.1 964.5 1522.7 947.4 1523.4 952.8 1524.1 928.2 1524.8 927 1525.5 946.3 1526.2 915.2 1526.9 941 1527.6 924.3 1528.3 930.7 1528.9 961.6 1529.6 927.2 1530.3 933.3 1531 914.8 1531.7 956.4 1532.4 919.4 1533.1 920.8 1533.8 935 1534.4 947.9 1535.1 926.9 1535.8 936.2 1536.5 934.5 1537.2 958.3 1537.9 960.8 1538.4 944.1 1540.2 903.2 1542.2 867.5 1544.8 836.9 1547.3 811.4 1551.1 802.5 1557.5 791 1563.9 778.3 1567.7 770.6 1570.3 761.7 1572 752.8" fill="none" stroke="#0a0a0a" stroke-width="2.3" stroke-linejoin="round"/>
<path d="M1245 616.7 1248.9 623.1 1254 624.9 1259.1 623.9 1264.2 630 1269.3 629 1276.9 632.5 1280.8 639.7 1284.6 647.3 1292.2 649.9 1296.1 649.4 1298.6 654.2 1302.4 647.3 1306.3 639.7 1310.1 637.1 1315.2 637.1 1320.3 644.8 1326.7 652.4 1330.5 655.5 1335.6 651.2 1339.4 646.1 1343.2 646.8 1347.1 644.8 1349.6 649.9 1351.4 662.6 1353.4 695.8 1355.5 734.1 1356.8 754.5 1359.8 754 1362.4 758.3 1364.9 757 1367.5 762.6 1370.8 763.4 1373.9 757 1376.4 749.4 1379 751.4 1381.5 759.6 1384.1 774.9 1385.6 804.6 1386.2 820.8 1386.8 835.6 1387.3 826 1387.9 836.8 1388.5 814 1389.1 811.5 1389.7 817.1 1390.3 814.6 1390.9 810.9 1391.5 839.7 1392 812.7 1392.6 791.8 1393.2 808.3 1393.8 799.4 1394.4 819.3 1395 795 1395.6 801.3 1396.1 824 1396.7 819.6 1397.3 790.2 1397.9 811.8 1398.5 805.5 1399.1 793.5 1399.7 804.9 1400.3 816.7 1400.8 831.8 1401.4 827.8 1402 816.3 1402.6 820 1403.2 813.7 1403.8 810.5 1404.4 798.1 1404.9 804.1 1405.5 821.3 1406.1 800.5 1406.7 800.2 1407.3 790.9 1407.9 818.6 1408.5 827.3 1409.1 825.2 1409.6 813.7 1410.2 811.1 1410.8 797.2 1411.4 811.9 1412 792.8 1412.6 796.8 1413.2 829.9 1413.7 814.5 1414.3 793.6 1414.9 812.9 1415.5 804.5 1416.1 801 1416.7 801 1417.3 822.4 1417.9 816.6 1418.4 803.2 1419 813.7 1419.6 827.3 1420.2 807.6 1420.8 812 1421.4 804.2 1422 815.9 1422.5 802.4 1423.1 795.3 1423.7 813.8 1424.3 798 1424.9 816.9 1425.5 816.8 1426.1 809.9 1426.7 826 1427.2 825.3 1427.8 823.9 1428.4 819.8 1429 809.9 1429.6 801.4 1430.2 798.5 1430.8 813.7 1431.3 821.8 1431.9 824.9 1432.5 820.8 1433.1 829.2 1433.7 823.4 1434.3 796.7 1434.9 797.3 1435.5 807.9 1436 818.5 1436.6 805.3 1437.2 805.6 1437.8 814.2 1438.4 818.7 1439 838.5 1439.6 785.8 1440.1 818.9 1440.7 791.6 1441.3 801.6 1441.9 828 1442.5 799.5 1443.1 820.7 1443.7 812.5 1444.3 799.7 1444.8 809.9 1445.4 806.1 1446 814.8 1446.6 801.1 1447.2 807.6 1447.8 810.8 1448.4 824 1448.9 800.5 1449.5 780.8 1450.1 804.1 1450.7 797 1451.3 802.8 1451.9 791.1 1452.5 830.2 1453.1 807.3 1453.6 794.4 1454.2 817.1 1454.8 788.2 1455.4 820.7 1456 813.6 1456.6 815.4 1457.2 792.6 1457.7 819.8 1458.3 829.4 1458.9 825.8 1459.5 835.4 1460.1 821.7 1460.7 820 1461.3 837.2 1461.9 794.3 1462.4 796.3 1463 795.6 1463.6 792.8 1464.2 805.4 1464.8 799.5 1465.4 821.4 1466 778.5 1466.5 830 1467.1 792.1 1467.7 832.3 1468.3 788.6 1468.9 803.4 1469.5 817.3 1470.1 816.2 1470.7 807.2 1471.2 813 1471.8 785.5 1472.4 800.4 1473 804.6 1473.6 824.1 1474.2 808.4 1474.8 808.1 1475.3 788.2 1475.9 812.1 1476.5 817.7 1477.1 805.6 1477.7 815.2 1478.3 805.3 1478.9 800.3 1479.5 785.4 1480 802.5 1480.6 823.6 1481.2 806.7 1481.8 832.2 1482.4 825.2 1483 784.4 1483.6 785.3 1484.1 816.3 1484.7 798 1485.3 794.8 1485.9 816.7 1486.5 797.6 1487.1 807.2 1487.7 803.1 1488.3 787 1488.8 782.3 1489.4 795 1490 820.3 1490.6 790.7 1491.2 810.1 1491.8 809.7 1492.4 790.4 1492.9 800.8 1493.5 792.8 1494.1 779.7 1494.7 806.5 1495.3 778 1495.9 804.2 1496.5 781.2 1497.1 783.6 1497.6 810.3 1498.2 787.3 1498.8 791.4 1499.4 811 1500 784.5 1500.6 813.6 1501.2 812.2 1501.7 813.1 1502.3 783.5 1502.9 794.7 1503.5 776.8 1504.1 805.8 1504.7 803.6 1505.3 793.4 1505.9 822.1 1506.4 787.2 1507 789.7 1507.6 810.1 1508.2 795.6 1508.8 804.7 1509.4 803 1510 817.2 1510.5 796.4 1511.1 807 1511.7 807.7 1512.3 801.7 1512.9 816.5 1513.5 792.9 1514.1 798.7 1514.7 795.8 1515.2 812.7 1515.8 788.4 1516.4 801.2 1517 812.1 1517.6 808.2 1518.2 822.7 1518.8 812.1 1519.3 797.5 1519.9 801.4 1520.5 787.2 1521.1 802.1 1521.7 791.9 1522.3 790.6 1522.9 820.6 1523.5 806.8 1524 804.1 1524.6 787.9 1525.2 800.9 1525.8 807.5 1526.4 823.7 1527 789.2 1527.6 792.1 1528.1 786.1 1528.7 808.9 1529.3 798.4 1529.9 824.7 1530.5 796.3 1531.1 822.4 1531.7 814.3 1532.3 799.7 1532.8 808.7 1533.4 785.9 1534 806.8 1534.6 824.9 1535.2 808.2 1535.8 816.1 1536.4 807 1536.9 811.4 1537.5 795.6 1538.1 815 1538.7 823 1539.3 799.5 1539.9 806.6 1540.5 819.4 1541.1 814.5 1541.6 811.6 1542.2 805.2 1542.8 815.4 1543.4 818.2 1544 813.1 1544.6 808.8 1545.2 823.1 1545.7 801.5 1546.3 796.2 1546.9 805.3 1547.3 803.8 1549.9 788.5 1552.9 768.1 1555.5 750.2 1557.5 731.5 1561.3 716.2 1565.2 703.4 1571.5 685.6 1577.9 670.3 1584.3 655 1589.9 641" fill="none" stroke="#ee343a" stroke-width="2.9" stroke-linejoin="round"/>
<rect x="1245" y="550" width="345" height="421.5" fill="none" stroke="#3a3a3a" stroke-width="2"/>
<line x1="1310.6" y1="614.2" x2="1310.6" y2="627.0" stroke="#8a48e6" stroke-width="2.8"/>
<path d="M1310.6 630.0 L1306.3 623.5 L1314.9 623.5Z" fill="#8a48e6"/>
<line x1="1347.1" y1="623.1" x2="1347.1" y2="635.9" stroke="#8a48e6" stroke-width="2.8"/>
<path d="M1347.1 638.9 L1342.8 632.4 L1351.4 632.4Z" fill="#8a48e6"/>
<line x1="1363.7" y1="730.2" x2="1363.7" y2="741.8" stroke="#8a48e6" stroke-width="2.8"/>
<path d="M1363.7 744.8 L1359.4 738.3 L1368.0 738.3Z" fill="#8a48e6"/>
<line x1="1376.9" y1="730.2" x2="1376.9" y2="741.8" stroke="#8a48e6" stroke-width="2.8"/>
<path d="M1376.9 744.8 L1372.6 738.3 L1381.2 738.3Z" fill="#8a48e6"/>
<text x="1375" y="579.7" font-size="21" text-anchor="middle" class="s b" fill="#8a48e6" textLength="85" lengthAdjust="spacingAndGlyphs">Multiplet</text>
<text x="1308.8" y="604" font-size="21" class="s b" fill="#8a48e6" textLength="139.5" lengthAdjust="spacingAndGlyphs" word-spacing="6">mid-gap states</text>
<text x="1388" y="735.3" font-size="26" fill="#ea333b" textLength="169.5" lengthAdjust="spacingAndGlyphs">K atom/W vac</text>
<text x="1395.5" y="895.6" font-size="26" fill="#333" textLength="71.5" lengthAdjust="spacingAndGlyphs">W vac</text>
<text x="1233" y="1002.4" font-size="34" fill="#0c0c0c" textLength="54.6" lengthAdjust="spacingAndGlyphs">-2.0</text>
<text x="1319.4" y="1002.4" font-size="34" fill="#0c0c0c" textLength="52" lengthAdjust="spacingAndGlyphs">-1.0</text>
<text x="1421.4" y="1002.4" font-size="34" fill="#0c0c0c" textLength="43.3" lengthAdjust="spacingAndGlyphs">0.0</text>
<text x="1512.5" y="1002.4" font-size="34" fill="#0c0c0c" textLength="42" lengthAdjust="spacingAndGlyphs">1.0</text>
<text x="1343.6" y="1040.4" font-size="38" class="m" fill="#111" textLength="138.5" lengthAdjust="spacingAndGlyphs">Bias <tspan font-style="normal">(</tspan>V<tspan font-style="normal">)</tspan></text>
<text transform="translate(1219.5 861) rotate(-90)" font-size="38" class="m" fill="#111" textLength="203" lengthAdjust="spacingAndGlyphs">dI/dV<tspan font-style="normal">(</tspan>a.u.<tspan font-style="normal">)</tspan></text>
<text x="1196.5" y="566.7" font-size="34" class="b" textLength="11.5" lengthAdjust="spacingAndGlyphs">f</text>
<path d="M53.6 1195.0 L202.9 1277.8 L204.5 1304.4 L53.6 1213.5Z" fill="#5c5c62"/>
<path d="M202.9 1277.8 L487.0 1268.0 L488.9 1302.4 L204.5 1304.4Z" fill="#6e6e72"/>
<path d="M53.6 1195.0 L336.0 1192.7 L487.0 1268.0 L202.9 1277.8Z" fill="url(#gtop)"/>
<path d="M66.4 1194.9L215.8 1277.3M79.2 1194.8L228.7 1276.9M92.1 1194.7L241.6 1276.4M104.9 1194.6L254.5 1276.0M117.8 1194.5L267.5 1275.6M130.6 1194.4L280.4 1275.1M143.4 1194.3L293.3 1274.7M156.3 1194.2L306.2 1274.2M169.1 1194.1L319.1 1273.8M181.9 1194.0L332.0 1273.3M194.8 1193.8L344.9 1272.9M207.6 1193.7L357.8 1272.5M220.5 1193.6L370.8 1272.0M233.3 1193.5L383.7 1271.6M246.1 1193.4L396.6 1271.1M259.0 1193.3L409.5 1270.7M271.8 1193.2L422.4 1270.2M284.6 1193.1L435.3 1269.8M297.5 1193.0L448.2 1269.4M310.3 1192.9L461.1 1268.9M323.2 1192.8L474.0 1268.5" fill="none" stroke="#a8a8d0" stroke-width="1.2" opacity=".55"/>
<path d="M95.8 1199.9 L331.1 1199.9 L452.9 1258.3 L207.8 1262.2Z" fill="#b56a22"/>
<path d="M99.0 1200.8 L331.1 1200.5 L451.2 1257.3 L210.4 1258.9Z" fill="#fcc614"/>
<ellipse cx="268.8" cy="1225.9" rx="79.5" ry="19.4" fill="#b06a28"/><ellipse cx="268.8" cy="1227.0" rx="78.5" ry="18" fill="#8686b6"/><g clip-path="url(#ghole)"><path d="M197.8 1209.5L213.8 1244.5M210.8 1209.5L226.8 1244.5M223.8 1209.5L239.8 1244.5M236.8 1209.5L252.8 1244.5M249.8 1209.5L265.8 1244.5M262.8 1209.5L278.8 1244.5M275.8 1209.5L291.8 1244.5M288.8 1209.5L304.8 1244.5M301.8 1209.5L317.8 1244.5M314.8 1209.5L330.8 1244.5M327.8 1209.5L343.8 1244.5" fill="none" stroke="#a4a4cc" stroke-width="2.2" opacity=".6"/>
</g><line x1="268.8" y1="1226.5" x2="343.7" y2="1226.5" stroke="#1a1a2a" stroke-width="1.2"/>
<path d="M346.7 1226.5 L341.7 1224.3 L341.7 1228.7Z" fill="#1a1a2a"/>
<text x="297" y="1232.5" font-size="17" fill="#2a2a44">r<tspan font-size="11" dy="4">2</tspan></text>
<path d="M163.9 1228.1 163.9 1219.3 71.4 1219.3 71.4 1245.3" fill="none" stroke="#0c0c0c" stroke-width="2.2" stroke-linejoin="round" stroke-linejoin="miter"/>
<line x1="47.7" y1="1245.3" x2="93.2" y2="1245.3" stroke="#0c0c0c" stroke-width="2.2"/>
<line x1="60" y1="1255" x2="83.8" y2="1255" stroke="#0c0c0c" stroke-width="2.2"/>
<line x1="71.4" y1="1255" x2="71.4" y2="1294.6" stroke="#0c0c0c" stroke-width="2.2"/>
<line x1="50.3" y1="1294.6" x2="94.1" y2="1294.6" stroke="#0c0c0c" stroke-width="2.2"/>
<line x1="56.8" y1="1302.1" x2="87.7" y2="1302.1" stroke="#0c0c0c" stroke-width="2.2"/>
<line x1="63.3" y1="1309.6" x2="81.2" y2="1309.6" stroke="#0c0c0c" stroke-width="2.2"/>
<line x1="69" y1="1318" x2="74" y2="1318" stroke="#0c0c0c" stroke-width="2.2"/>
<text x="26" y="1263.2" font-size="19" fill="#333" textLength="30" lengthAdjust="spacingAndGlyphs">V<tspan font-size="11.5" dy="4">DC</tspan></text>
<path d="M238.6 1136.6 L256.5 1134.9 L267.8 1226.5Z" fill="#c9c637"/>
<path d="M250.0 1135.6 L271.1 1133.6 L267.8 1226.5Z" fill="#e9b41c"/>
<path d="M250.0 1135.6 L257.1 1134.9 L267.5 1222.6Z" fill="#8a8a24"/>
<path d="M224.0 1130.1 L241.9 1115.4 L394.4 1099.9 L394.4 1120.3 L389.6 1121.9 L240.2 1137.2 L224.0 1137.2Z" fill="#dcae2c"/>
<path d="M224.0 1130.1 L241.9 1115.4 L394.4 1099.9 L394.4 1112.2 L240.2 1131.7 L224.6 1132.3Z" fill="url(#gcant)"/>
<path d="M394.4 1111.6 516.2 1111.6 516.2 1257.6" fill="none" stroke="#0c0c0c" stroke-width="2.2" stroke-linejoin="round" stroke-linejoin="miter"/>
<circle cx="515.6" cy="1196.6" r="17.6" fill="#fff" stroke="#0c0c0c" stroke-width="2"/>
<text x="515.6" y="1204.2" font-size="21" text-anchor="middle" fill="#222">A</text>
<line x1="494.4" y1="1257.6" x2="537.9" y2="1257.6" stroke="#0c0c0c" stroke-width="2.2"/>
<line x1="500" y1="1264.1" x2="532.4" y2="1264.1" stroke="#0c0c0c" stroke-width="2.2"/>
<line x1="505.8" y1="1271.3" x2="526.6" y2="1271.3" stroke="#0c0c0c" stroke-width="2.2"/>
<line x1="513" y1="1279.4" x2="519.5" y2="1279.4" stroke="#0c0c0c" stroke-width="2.2"/>
<text x="40.6" y="1182" font-size="20.5" fill="#333" textLength="160" lengthAdjust="spacingAndGlyphs">Epitaxial Graphene</text>
<text x="285" y="1294.6" font-size="20.5" fill="#2c2c32" textLength="120" lengthAdjust="spacingAndGlyphs">4H-SiC (0001)</text>
<text x="43.8" y="1102.5" font-size="33" class="b" textLength="17.5" lengthAdjust="spacingAndGlyphs">g</text>
<path d="M62.3 1443.8 L468.9 1443.8 L468.9 1449.7 L62.3 1449.7Z" fill="url(#ggr)"/>
<path d="M156.7 1367.4 L178.7 1373.6 L190.8 1362.5 L203.9 1372.0 L230.2 1366.4 L226.2 1387.7 L220.3 1410.7 L211.5 1432.0 L201.6 1441.8 L193.4 1444.4 L185.2 1441.8 L177.0 1432.0 L167.2 1410.7 L160.7 1387.7Z" fill="url(#gtip)"/>
<path d="M165.6 1445.7 L219.7 1445.7 L219.7 1448.4 L165.6 1448.4Z" fill="#24244a"/>
<rect x="347.5" y="1389.3" width="121.3" height="54.1" fill="#fcc614" stroke="#c89a10" stroke-width="1"/>
<path d="M166.6 1394.3 166.6 1404 170.8 1405.6 162.4 1408.7 170.8 1411.8 162.4 1414.9 170.8 1417.9 162.4 1421 170.8 1424.1 162.4 1427.2 166.6 1428.8 166.6 1438.5" fill="none" stroke="#0c0c0c" stroke-width="2.3" stroke-linejoin="round"/>
<path d="M365.6 1400.8 365.6 1410.2 369.8 1411.7 361.4 1414.6 369.8 1417.6 361.4 1420.6 369.8 1423.6 361.4 1426.6 369.8 1429.6 361.4 1432.5 365.6 1434 365.6 1443.4" fill="none" stroke="#0c0c0c" stroke-width="2.3" stroke-linejoin="round"/>
<path d="M193.4 1466.4 204.1 1466.4 205.4 1470 208 1462.8 210.7 1470 213.4 1462.8 216 1470 218.7 1462.8 221.4 1470 224 1462.8 225.3 1466.4 236 1466.4" fill="none" stroke="#0c0c0c" stroke-width="2.2" stroke-linejoin="round"/>
<path d="M287.9 1466.4 298.5 1466.4 299.9 1470 302.5 1462.8 305.2 1470 307.9 1462.8 310.5 1470 313.2 1462.8 315.9 1470 318.5 1462.8 319.9 1466.4 330.5 1466.4" fill="none" stroke="#0c0c0c" stroke-width="2.2" stroke-linejoin="round"/>
<path d="M196 1443Q183 1441 181 1428Q188 1419 176 1421" fill="none" stroke="#e02020" stroke-width="1.4" stroke-dasharray="3 2"/>
<path d="M196 1443Q203 1430 190 1424" fill="none" stroke="#e02020" stroke-width="1.2" stroke-dasharray="3 2"/>
<path d="M173 1416 L180.5 1419 L175.5 1424.5Z" fill="#e02020"/>
<text x="84.6" y="1423.8" font-size="28" class="m" fill="#111" textLength="58" lengthAdjust="spacingAndGlyphs">R<tspan font-size="19" dy="7">c_tip</tspan></text>
<text x="380.3" y="1423.8" font-size="28" class="m" fill="#111" textLength="83.5" lengthAdjust="spacingAndGlyphs">R<tspan font-size="19" dy="7">c_metal</tspan></text>
<text x="193.4" y="1500.8" font-size="28" class="m" fill="#111" textLength="46" lengthAdjust="spacingAndGlyphs">R<tspan font-size="19" dy="8">spr</tspan></text>
<text x="282.6" y="1500.8" font-size="28" class="m" fill="#111" textLength="69" lengthAdjust="spacingAndGlyphs">R<tspan font-size="19" dy="8">series</tspan></text>
<g clip-path="url(#hclipA)"><rect x="638.3" y="1093.6" width="196.3" height="194.5" fill="url(#hbrown)"/>
<g filter="url(#hblur2)"><path d="M638.3 1091.4 L677.6 1091.4 L684.9 1112.9 L693.0 1134.3 L701.6 1157.9 L705.9 1173.0 L711.9 1190.1 L716.6 1207.3 L723.0 1228.7 L729.5 1248.0 L736.3 1269.5 L742.8 1289.9 L638.3 1289.9Z" fill="url(#holive)"/>
</g><rect x="638.3" y="1120" width="196.3" height="10" fill="#fff" opacity="0.04"/>
<rect x="638.3" y="1160" width="196.3" height="14" fill="#fff" opacity="0.03"/>
<rect x="638.3" y="1188" width="196.3" height="8" fill="#fff" opacity="0.05"/>
<rect x="638.3" y="1230" width="196.3" height="12" fill="#fff" opacity="0.035"/>
<rect x="638.3" y="1262" width="196.3" height="10" fill="#fff" opacity="0.03"/>
<path d="M645.8 1209.4 L785.2 1146.1 L804.6 1204.1 L665.1 1268.4Z" fill="none" stroke="#3a2a10" stroke-width="1" stroke-dasharray="2 1.6" opacity=".75"/>
<line x1="782.0" y1="1274.8" x2="820.0" y2="1274.8" stroke="#fffdf0" stroke-width="3"/>
<text x="772.4" y="1267.3" font-size="17.5" fill="#fffdf0" textLength="57" lengthAdjust="spacingAndGlyphs">100 nm</text>
</g><rect x="851.7" y="1091.4" width="12.9" height="197.8" fill="url(#hcbA)"/>
<text x="867.5" y="1099" font-size="21" fill="#666">2</text>
<text x="867.5" y="1299.5" font-size="21" fill="#666">0</text>
<text transform="translate(879.5 1243) rotate(-90)" font-size="18.5" fill="#4a4a4a" textLength="104.5" lengthAdjust="spacingAndGlyphs">Height (nm)</text>
<text x="546" y="1120.4" font-size="35" class="b" textLength="18" lengthAdjust="spacingAndGlyphs">h</text>
<g clip-path="url(#hclipB)"><rect x="953.0" y="1093.2" width="196.5" height="196.0" fill="#b5aa38"/>
<g filter="url(#hblur2)"><path d="M1004 1091.4 1020.1 1132.2 1033 1173 1045.9 1211.6 1058.7 1248 1071.6 1290.9" fill="none" stroke="#989040" stroke-width="6" stroke-linejoin="round" opacity=".7"/>
</g><path d="M965.4 1209.4 L1105.9 1147.2 L1124.1 1206.2 L983.7 1269.5Z" fill="none" stroke="#5a5410" stroke-width="1.3" stroke-dasharray="3.4 1.8"/>
<line x1="1098.4" y1="1277.0" x2="1135.5" y2="1277.0" stroke="#fffde8" stroke-width="3"/>
<text x="1088.3" y="1270.6" font-size="17.5" fill="#fffde0" textLength="56" lengthAdjust="spacingAndGlyphs">100 nm</text>
</g><rect x="1162.1" y="1090.4" width="14.2" height="203.8" fill="url(#hcbB)"/>
<text x="1178.8" y="1093.6" font-size="21" fill="#555" textLength="34" lengthAdjust="spacingAndGlyphs">0.33</text>
<text x="1177.8" y="1305" font-size="21" fill="#555">0</text>
<text transform="translate(1197.5 1281.5) rotate(-90)" font-size="19.5" fill="#4a4a4a" textLength="170" lengthAdjust="spacingAndGlyphs">Conductance (mS)</text>
<rect x="621.2" y="1320.4" width="235.5" height="157.2" fill="#fff" stroke="#7a7a7a" stroke-width="1.6"/>
<path d="M621.2 1477.6v-4M621.2 1320.4v3M650.6 1477.6v-3M650.6 1320.4v3M680.0 1477.6v-4M680.0 1320.4v3M709.5 1477.6v-3M709.5 1320.4v3M738.9 1477.6v-4M738.9 1320.4v3M768.4 1477.6v-3M768.4 1320.4v3M797.8 1477.6v-4M797.8 1320.4v3M827.2 1477.6v-3M827.2 1320.4v3M856.7 1477.6v-4M856.7 1320.4v3M621.2 1342h3M856.7 1342h-3M621.2 1381h3M856.7 1381h-3M621.2 1420h3M856.7 1420h-3M621.2 1459h3M856.7 1459h-3" fill="none" stroke="#7a7a7a" stroke-width="1.2"/>
<line x1="735.9" y1="1334.7" x2="804.6" y2="1334.7" stroke="#aaa" stroke-width="1.2" stroke-dasharray="2 2"/>
<path d="M621.2 1335.7 623.7 1336.6 626.3 1336.8 628.9 1335.9 631.5 1334.6 634 1333.4 636.6 1332.9 639.2 1333.1 641.8 1333.5 644.3 1333.5 646.9 1333 649.5 1332.3 652 1331.9 654.6 1332.4 657.2 1333.7 659.8 1335.2 662.3 1336.2 664.9 1336.3 667.5 1335.6 670.1 1334.9 672.6 1334.6 675.2 1334.9 677.8 1335.3 680.4 1335.2 682.9 1334.4 685.5 1333 688.1 1331.8 690.7 1331.4 693.2 1331.9 695.8 1333 698.4 1334 701 1334.5 703.5 1334.3 706.1 1334 708.7 1334.2 711.2 1335 713.8 1336.1 716.4 1336.7 719 1336.5 721.5 1335.4 724.1 1333.9 726.7 1332.9 729.3 1332.6 732.7 1337.5 735.9 1345 739.1 1356.8 742.3 1370.8 745.6 1390.1 748.8 1411.5 752 1433 755.2 1450.1 757.4 1457.7 759.5 1461.9 762.7 1465.2 765.9 1466.4 768.5 1468 771.1 1467.2 773.7 1465.6 776.2 1464.4 778.8 1464.5 781.4 1465.3 784 1465.7 786.5 1465.4 789.1 1465.2 791.7 1465.9 794.3 1467.4 796.8 1468.5 799.4 1468.2 802 1467.1 804.6 1466.3 807.1 1466.3 809.7 1466.5 812.3 1466 814.8 1464.7 817.4 1463.9 820 1464.4 822.6 1465.8 825.1 1466.9 827.7 1467 830.3 1466.7 832.9 1466.9 835.4 1467.7 838 1468.3 840.6 1467.6 843.2 1466.1 845.7 1464.8 848.3 1464.7 850.9 1465.3 853.5 1465.6 856 1465.1" fill="none" stroke="#222" stroke-width="2.2" stroke-linejoin="round"/>
<line x1="767.4" y1="1342.7" x2="767.4" y2="1462.2" stroke="#333" stroke-width="1.3"/>
<path d="M767.4 1339.7 L764.8 1345.7 L770.0 1345.7Z" fill="#333"/>
<path d="M767.4 1465.2 L764.8 1459.2 L770.0 1459.2Z" fill="#333"/>
<text x="775.6" y="1407.3" font-size="21" fill="#444" textLength="59" lengthAdjust="spacingAndGlyphs">1.5 nm</text>
<text x="666.2" y="1358" font-size="25" fill="#222" textLength="22.5" lengthAdjust="spacingAndGlyphs">1L</text>
<text x="812" y="1458.3" font-size="25" fill="#222" textLength="22.5" lengthAdjust="spacingAndGlyphs">1L</text>
<text x="575" y="1351.5" font-size="27" fill="#111" textLength="37.6" lengthAdjust="spacingAndGlyphs">1.5</text>
<text x="575" y="1429.8" font-size="27" fill="#111" textLength="37.6" lengthAdjust="spacingAndGlyphs">0.5</text>
<text x="597.6" y="1509.1" font-size="29.5" fill="#0c0c0c" textLength="41.8" lengthAdjust="spacingAndGlyphs">0.0</text>
<text x="720.5" y="1509.1" font-size="29.5" fill="#0c0c0c" textLength="41.6" lengthAdjust="spacingAndGlyphs">0.2</text>
<text x="834.6" y="1509.1" font-size="29.5" fill="#0c0c0c" textLength="41.8" lengthAdjust="spacingAndGlyphs">0.4</text>
<text x="687.7" y="1543.5" font-size="36" class="m" fill="#111" textLength="99.5" lengthAdjust="spacingAndGlyphs">L <tspan font-style="normal">(</tspan>um<tspan font-style="normal">)</tspan></text>
<text transform="translate(561 1477) rotate(-90)" font-size="33" class="m" fill="#111" textLength="171" lengthAdjust="spacingAndGlyphs">Height <tspan font-style="normal">(</tspan>nm<tspan font-style="normal">)</tspan></text>
<rect x="946.1" y="1319.3" width="238.1" height="158.7" fill="#fff" stroke="#7a7a7a" stroke-width="1.6"/>
<line x1="1184.2" y1="1319.3" x2="1184.2" y2="1478.0" stroke="#e89a92" stroke-width="1.8"/>
<path d="M946.1 1478.0v-4M946.1 1319.3v3M975.9 1478.0v-3M975.9 1319.3v3M1005.7 1478.0v-4M1005.7 1319.3v3M1035.4 1478.0v-3M1035.4 1319.3v3M1065.2 1478.0v-4M1065.2 1319.3v3M1094.9 1478.0v-3M1094.9 1319.3v3M1124.7 1478.0v-4M1124.7 1319.3v3M1154.5 1478.0v-3M1154.5 1319.3v3M1184.2 1478.0v-4M1184.2 1319.3v3M946.1 1350h3M946.1 1382h3M946.1 1414h3M946.1 1446h3" fill="none" stroke="#7a7a7a" stroke-width="1.2"/>
<path d="M946.1 1458.5 949.1 1460.5 952.2 1460.3 955.2 1459.7 958.2 1458.7 961.2 1460.9 964.2 1461 967.2 1459.8 970.2 1459.8 973.2 1458.8 976.2 1457.9 979.2 1459.3 982.2 1460.1 985.2 1458.1 988.2 1460.9 991.2 1458.8 994.2 1458.8 997.2 1458 1000.2 1461.7 1003.2 1460.7 1006.2 1461.2 1009.2 1460.2 1012.2 1458 1015.2 1459.1 1018.2 1459.8 1021.2 1458.3 1024.2 1461.5 1027.2 1459.3 1030.2 1458.5 1033.2 1461 1036.2 1458.3 1039.2 1461.4 1042.2 1459.6 1045.2 1460 1048.2 1459.2 1051.2 1459.7 1054.2 1458.6 1057.3 1458 1060.3 1461.2 1064.1 1458.3 1066.3 1448 1068.4 1428.7 1070.6 1400.8 1072.7 1370.8 1075.9 1342.9 1079.1 1333.2 1082.3 1344 1084.1 1364.3 1085.6 1385.8 1087.7 1428.7 1089.9 1443.7 1092 1450.1 1097.4 1453.4 1100.6 1454.2 1103.6 1456.5 1106.6 1454 1109.6 1457.3 1112.6 1457 1115.6 1456.4 1118.6 1456.4 1121.6 1455.6 1124.6 1456.3 1127.6 1453.7 1130.6 1455.2 1133.6 1456.7 1136.6 1454 1139.6 1457.1 1142.6 1457 1145.6 1454.9 1148.6 1454.7 1151.6 1455.1 1154.6 1454.8 1157.6 1457.4 1160.6 1454.8 1163.6 1453.3 1166.6 1453.5 1169.6 1456.2 1172.6 1457.4 1175.7 1455.3 1178.7 1455.3 1181.7 1455.5" fill="none" stroke="#e8786e" stroke-width="1.7" stroke-linejoin="round"/>
<path d="M946.1 1334.4 949.1 1332.4 952.2 1333.9 955.2 1333.7 958.2 1333.9 961.2 1332.2 964.2 1332.2 967.2 1332.9 970.2 1335.1 973.2 1332.9 976.2 1333.8 979.2 1332.7 982.2 1331.9 985.2 1331.8 988.2 1334.7 991.2 1334.5 994.2 1333 997.2 1334.2 1000.2 1334.1 1003.2 1335 1006.2 1335.2 1009.2 1333.1 1012.2 1335.3 1015.2 1335.2 1018.2 1333.8 1021.2 1334.9 1024.2 1333.4 1027.2 1333 1030.2 1332.5 1033.2 1334.9 1036.2 1332.2 1039.2 1331.8 1042.2 1334.6 1045.2 1334.5 1048.2 1333.4 1051.2 1334.8 1054.2 1331.7 1057.3 1332.5 1060.3 1332.6 1063 1335.4 1065.2 1340.8 1067.3 1353.6 1069.5 1370.8 1071.6 1398.7 1073.8 1428.7 1076.3 1450.1 1079.1 1461.3 1081.9 1453.4 1084.5 1445.9 1085.6 1415.8 1086.6 1385.8 1088.1 1362.2 1089.9 1347.2 1093.1 1341.8 1099.5 1339.9 1105.9 1338.6 1109.2 1336.5 1112.2 1335.5 1115.2 1335 1118.2 1336.2 1121.2 1338.6 1124.2 1339 1127.2 1337.9 1130.2 1336.8 1133.2 1335.8 1136.2 1338.9 1139.2 1337 1142.2 1337.9 1145.2 1334.9 1148.2 1335.7 1151.2 1338.3 1154.2 1338.2 1157.2 1338.5 1160.2 1337.3 1163.2 1336.6 1166.2 1337.2 1169.2 1338.4 1172.2 1336.1 1175.2 1337 1178.2 1335.9 1181.4 1339 1184.2 1348.9" fill="none" stroke="#2a2a2a" stroke-width="2.2" stroke-linejoin="round"/>
<text x="895.7" y="1324.7" font-size="22.5" fill="#111" textLength="44" lengthAdjust="spacingAndGlyphs">0.31</text>
<text x="895.7" y="1453.4" font-size="22.5" fill="#111" textLength="44" lengthAdjust="spacingAndGlyphs">0.29</text>
<text x="1186.4" y="1331.1" font-size="23" fill="#d3222e" textLength="33.5" lengthAdjust="spacingAndGlyphs">1.0</text>
<text x="1186.4" y="1486.6" font-size="23" fill="#d3222e" textLength="33.5" lengthAdjust="spacingAndGlyphs">0.6</text>
<text transform="translate(1232.5 1416) rotate(-90)" font-size="26" class="m" fill="#e05a5a" textLength="41" lengthAdjust="spacingAndGlyphs">R<tspan font-size="17" dy="5">loc</tspan></text>
<text x="924.7" y="1510.2" font-size="29.5" fill="#0c0c0c" textLength="41" lengthAdjust="spacingAndGlyphs">0.0</text>
<text x="1047" y="1510.2" font-size="29.5" fill="#0c0c0c" textLength="41.4" lengthAdjust="spacingAndGlyphs">0.2</text>
<text x="1161.7" y="1510.2" font-size="29.5" fill="#0c0c0c" textLength="41.8" lengthAdjust="spacingAndGlyphs">0.4</text>
<text x="1014.1" y="1545.6" font-size="36" class="m" fill="#111" textLength="100.4" lengthAdjust="spacingAndGlyphs">L <tspan font-style="normal">(</tspan>um<tspan font-style="normal">)</tspan></text>
<text transform="translate(893.5 1429) rotate(-90)" font-size="29" class="m" fill="#222" textLength="87" lengthAdjust="spacingAndGlyphs">G <tspan font-style="normal">(</tspan>mS<tspan font-style="normal">)</tspan></text>
<line x1="898" y1="1474.8" x2="905" y2="1474.8" stroke="#444" stroke-width="1.5"/>
<text x="936" y="1386.5" font-size="10" fill="#555">)</text>
<path d="M1314.0 1227.7 L1576.2 1227.7 L1576.2 1263.0 L1314.0 1263.0Z" fill="#9d9dcd"/>
<path d="M1576.2 1227.7 L1647.6 1157.1 L1647.6 1191.1 L1576.2 1263.0Z" fill="#b2b2e2"/>
<path d="M1314.0 1202.5 L1576.2 1202.5 L1576.2 1228.2 L1314.0 1228.2Z" fill="#6f6f71"/>
<path d="M1576.2 1202.5 L1647.6 1131.9 L1647.6 1157.6 L1576.2 1228.2Z" fill="#7c7c7e"/>
<path d="M1314.0 1193.1 L1576.2 1193.1 L1576.2 1203.0 L1314.0 1203.0Z" fill="#d6ce14"/>
<path d="M1576.2 1193.1 L1647.6 1121.8 L1647.6 1132.4 L1576.2 1203.0Z" fill="#e6e01c"/>
<path d="M1387.1 1121.8 L1647.6 1121.8 L1576.2 1193.7 L1314.0 1193.7Z" fill="url(#itop)"/>
<path d="M1401.0 1162.1 L1410.5 1147.8 L1549.7 1145.2 L1565.4 1157.1 L1535.9 1175.5 L1402.2 1167.9Z" fill="#b4ac14"/>
<path d="M1535.9 1175.5 L1565.4 1157.1 L1565.4 1160.9 L1536.6 1178.5Z" fill="#e8e020"/>
<path d="M1402.2 1167.9 L1535.9 1175.5 L1536.6 1178.5 L1402.2 1170.5Z" fill="#c8c018"/>
<ellipse cx="1482.2" cy="1151.2" rx="70" ry="12.6" fill="#78c070"/><ellipse cx="1482.2" cy="1152.4" rx="68.6" ry="11.4" fill="#c6c9f9"/><line x1="1417.3" y1="1155.3" x2="1481.1" y2="1147.8" stroke="#1a1a1a" stroke-width="1.3"/>
<circle cx="1417.3" cy="1155.3" r="2.4" fill="#111"/><text x="1438.5" y="1148.5" font-size="18" fill="#333">L</text>
<path d="M1461.5 1097.8 L1475.3 1096.8 L1481.1 1151.3Z" fill="#e6cf2c"/>
<path d="M1473.6 1096.8 L1484.7 1095.8 L1481.1 1151.3Z" fill="#f2ba14"/>
<path d="M1474.1 1096.8 1480.9 1149.5" fill="none" stroke="#6a5a10" stroke-width="1" stroke-linejoin="round"/>
<path d="M1451.4 1096.6 L1462.7 1085.2 L1566.1 1077.1 L1567.4 1084.0 L1562.3 1088.2 L1484.2 1095.3 L1453.9 1099.6Z" fill="#c49c10"/>
<path d="M1451.4 1096.6 L1462.7 1085.2 L1566.1 1077.1 L1566.6 1080.7 L1481.7 1090.8 L1455.2 1097.3Z" fill="#b08c0c"/>
<path d="M1566.1 1082.2 1597.1 1082.2" fill="none" stroke="#141414" stroke-width="1.8" stroke-linejoin="round"/>
<circle cx="1612.8" cy="1082.2" r="15.6" fill="#fff" stroke="#141414" stroke-width="1.8"/>
<text x="1612.8" y="1088.7" font-size="18" text-anchor="middle" fill="#333">A</text>
<path d="M1628.4 1084 1658.7 1084 1658.7 1104.9" fill="none" stroke="#141414" stroke-width="1.8" stroke-linejoin="round" stroke-linejoin="miter"/>
<path d="M1643.0 1104.4 L1674.8 1104.4 L1658.9 1119.5Z" fill="#3a3a3a"/>
<path d="M1641.8 1108.4H1675.8M1641.8 1111.9H1675.8M1641.8 1115.5H1675.8" fill="none" stroke="#fff" stroke-width="1.1"/>
<path d="M1630.4 1143.2 1658.7 1143.2" fill="none" stroke="#141414" stroke-width="1.8" stroke-linejoin="round"/>
<line x1="1658.7" y1="1135.7" x2="1658.7" y2="1151.3" stroke="#141414" stroke-width="1.6"/>
<line x1="1665.7" y1="1130.1" x2="1665.7" y2="1161.4" stroke="#141414" stroke-width="3.2"/>
<path d="M1665.7 1143.2 1689.7 1143.2 1689.7 1163.9" fill="none" stroke="#141414" stroke-width="1.8" stroke-linejoin="round" stroke-linejoin="miter"/>
<path d="M1673.3 1163.9 L1706.1 1163.9 L1689.7 1179.0Z" fill="#3a3a3a"/>
<path d="M1672.0 1167.9H1707.3M1672.0 1171.5H1707.3M1672.0 1175.0H1707.3" fill="none" stroke="#fff" stroke-width="1.1"/>
<text x="1530.8" y="1142" font-size="20.5" fill="#3a3810" textLength="50" lengthAdjust="spacingAndGlyphs">MoS<tspan font-size="13" dy="5">2</tspan></text>
<text x="1346" y="1183.6" font-size="20.5" fill="#3a3810" textLength="49.5" lengthAdjust="spacingAndGlyphs">Metal</text>
<text x="1425" y="1222.7" font-size="20.5" fill="#2a2a2a" textLength="40.5" lengthAdjust="spacingAndGlyphs">SiO<tspan font-size="13" dy="5">2</tspan></text>
<text x="1432.5" y="1253" font-size="20.5" fill="#36366c" textLength="17.6" lengthAdjust="spacingAndGlyphs">Si</text>
<text x="1329.5" y="1120.5" font-size="35" class="b">i</text>
<rect x="1349.7" y="1314.8" width="297.7" height="156.4" fill="#fff" stroke="#6a6a6a" stroke-width="1.6"/>
<path d="M1349.7 1471.2v-5M1349.7 1314.8v4M1399.3 1471.2v-3M1399.3 1314.8v3M1448.9 1471.2v-5M1448.9 1314.8v4M1498.5 1471.2v-3M1498.5 1314.8v3M1548.1 1471.2v-5M1548.1 1314.8v4M1597.7 1471.2v-3M1597.7 1314.8v3M1647.3 1471.2v-5M1647.3 1314.8v4M1349.7 1314.8h5M1647.3 1314.8h-5M1349.7 1353.9h3M1647.3 1353.9h-3M1349.7 1393.0h5M1647.3 1393.0h-5M1349.7 1432.1h3M1647.3 1432.1h-3M1349.7 1471.2h5M1647.3 1471.2h-5" fill="none" stroke="#6a6a6a" stroke-width="1.2"/>
<text x="1343" y="1349.5" font-size="9" fill="#555">)</text>
<text x="1343" y="1429" font-size="9" fill="#555">)</text>
<text x="1343" y="1467.5" font-size="9" fill="#555">)</text>
<rect x="1513.0" y="1380.9" width="42.1" height="67.5" fill="#c2c5f9" stroke="#5a5aa2" stroke-width="1"/>
<line x1="1555.1" y1="1380.9" x2="1617.6" y2="1380.9" stroke="#222" stroke-width="1.1"/>
<path d="M1555.7 1361 1557.9 1365.7 1561.2 1369.3 1566.7 1372.1 1574.9 1374.3 1585.9 1375.4 1617.6 1375.9" fill="none" stroke="#1a1a1a" stroke-width="1.4" stroke-linejoin="round"/>
<path d="M1555.7 1361 1555.7 1433.2 1557.9 1440.1 1561.2 1442.8 1566.7 1444.8 1574.9 1446.4 1585.9 1447.2 1617.6 1447.5" fill="none" stroke="#1a1a1a" stroke-width="1.6" stroke-linejoin="round"/>
<path d="M1552.3 1380.9V1359.4Q1555.7 1355.5 1560.6 1361.0" fill="none" stroke="#2828c8" stroke-width="1.3"/>
<path d="M1563.4 1364.9 L1557.9 1362.1 L1562.3 1358.8Z" fill="#2828c8"/>
<text x="1525.4" y="1374" font-size="19" fill="#222" textLength="22.5" lengthAdjust="spacingAndGlyphs">Φ<tspan font-size="12" dy="4">B</tspan></text>
<text x="1617.6" y="1372.6" font-size="20" fill="#222" textLength="21" lengthAdjust="spacingAndGlyphs">E<tspan font-size="13" dy="4">C</tspan></text>
<text x="1619" y="1394.6" font-size="20" fill="#222" textLength="20" lengthAdjust="spacingAndGlyphs">E<tspan font-size="13" dy="4">F</tspan></text>
<text x="1620.5" y="1460.7" font-size="20" fill="#222" textLength="21" lengthAdjust="spacingAndGlyphs">E<tspan font-size="13" dy="4">V</tspan></text>
<line x1="1356.0" y1="1467.6" x2="1481.3" y2="1361.0" stroke="#d62f2f" stroke-width="1.6"/>
<g fill="none" stroke="#2e2e2e" stroke-width="1.3"><circle cx="1367.0" cy="1460.7" r="3.5"/><circle cx="1374.5" cy="1450.3" r="3.5"/><circle cx="1382.7" cy="1444.2" r="3.5"/><circle cx="1390.4" cy="1437.3" r="3.5"/><circle cx="1398.7" cy="1429.1" r="3.5"/><circle cx="1406.4" cy="1422.7" r="3.5"/><circle cx="1414.4" cy="1416.1" r="3.5"/><circle cx="1422.1" cy="1409.8" r="3.5"/><circle cx="1429.8" cy="1402.9" r="3.5"/><circle cx="1437.8" cy="1396.0" r="3.5"/><circle cx="1445.5" cy="1389.1" r="3.5"/><circle cx="1453.2" cy="1382.2" r="3.5"/><circle cx="1461.5" cy="1375.9" r="3.5"/><circle cx="1469.5" cy="1371.2" r="3.5"/><circle cx="1477.2" cy="1365.7" r="3.5"/><circle cx="1484.6" cy="1362.1" r="3.5"/><circle cx="1492.3" cy="1357.5" r="3.5"/><circle cx="1500.0" cy="1353.9" r="3.5"/><circle cx="1508.0" cy="1351.1" r="3.5"/><circle cx="1515.7" cy="1348.4" r="3.5"/><circle cx="1523.4" cy="1345.6" r="3.5"/><circle cx="1531.4" cy="1343.7" r="3.5"/><circle cx="1539.1" cy="1341.8" r="3.5"/><circle cx="1546.8" cy="1340.1" r="3.5"/><circle cx="1554.8" cy="1339.6" r="3.5"/><circle cx="1562.5" cy="1338.7" r="3.5"/><circle cx="1570.2" cy="1337.4" r="3.5"/><circle cx="1578.2" cy="1336.0" r="3.5"/><circle cx="1585.9" cy="1334.6" r="3.5"/><circle cx="1593.7" cy="1334.1" r="3.5"/><circle cx="1601.6" cy="1333.2" r="3.5"/><circle cx="1609.3" cy="1332.1" r="3.5"/><circle cx="1617.6" cy="1331.9" r="3.5"/><circle cx="1625.3" cy="1331.3" r="3.5"/><circle cx="1633.3" cy="1330.8" r="3.5"/><circle cx="1641.0" cy="1329.9" r="3.5"/></g>
<text x="1376.7" y="1345.1" font-size="25" class="s" fill="#111" textLength="52" lengthAdjust="spacingAndGlyphs">Φ<tspan font-size="16" dy="5" font-style="italic">B</tspan><tspan dy="-5"> =</tspan></text>
<text x="1360.1" y="1372.6" font-size="24" class="s" fill="#111" textLength="87" lengthAdjust="spacingAndGlyphs">307 <tspan font-style="italic">meV</tspan></text>
<text x="1295.4" y="1324.4" font-size="28" fill="#0c0c0c" textLength="51" lengthAdjust="spacingAndGlyphs">10<tspan font-size="19" dy="-11">-6</tspan></text>
<text x="1295.4" y="1407" font-size="28" fill="#0c0c0c" textLength="51" lengthAdjust="spacingAndGlyphs">10<tspan font-size="19" dy="-11">-8</tspan></text>
<text transform="translate(1287.5 1421) rotate(-90)" font-size="36" class="m" fill="#111" textLength="69" lengthAdjust="spacingAndGlyphs">I <tspan font-style="normal">(</tspan>A<tspan font-style="normal">)</tspan></text>
<text x="1328.5" y="1502" font-size="30" fill="#0c0c0c" textLength="42" lengthAdjust="spacingAndGlyphs">0.0</text>
<text x="1427.6" y="1502" font-size="30" fill="#0c0c0c" textLength="42" lengthAdjust="spacingAndGlyphs">0.2</text>
<text x="1526.2" y="1502" font-size="30" fill="#0c0c0c" textLength="42" lengthAdjust="spacingAndGlyphs">0.4</text>
<text x="1625.9" y="1502" font-size="30" fill="#0c0c0c" textLength="42" lengthAdjust="spacingAndGlyphs">0.6</text>
<text x="1442.8" y="1537.8" font-size="38" class="m" fill="#111" textLength="107.5" lengthAdjust="spacingAndGlyphs">V<tspan font-size="25" dy="9"> tip</tspan><tspan dy="-9"> </tspan><tspan font-style="normal">(</tspan>V<tspan font-style="normal">)</tspan></text>

</svg>
</body></html>
